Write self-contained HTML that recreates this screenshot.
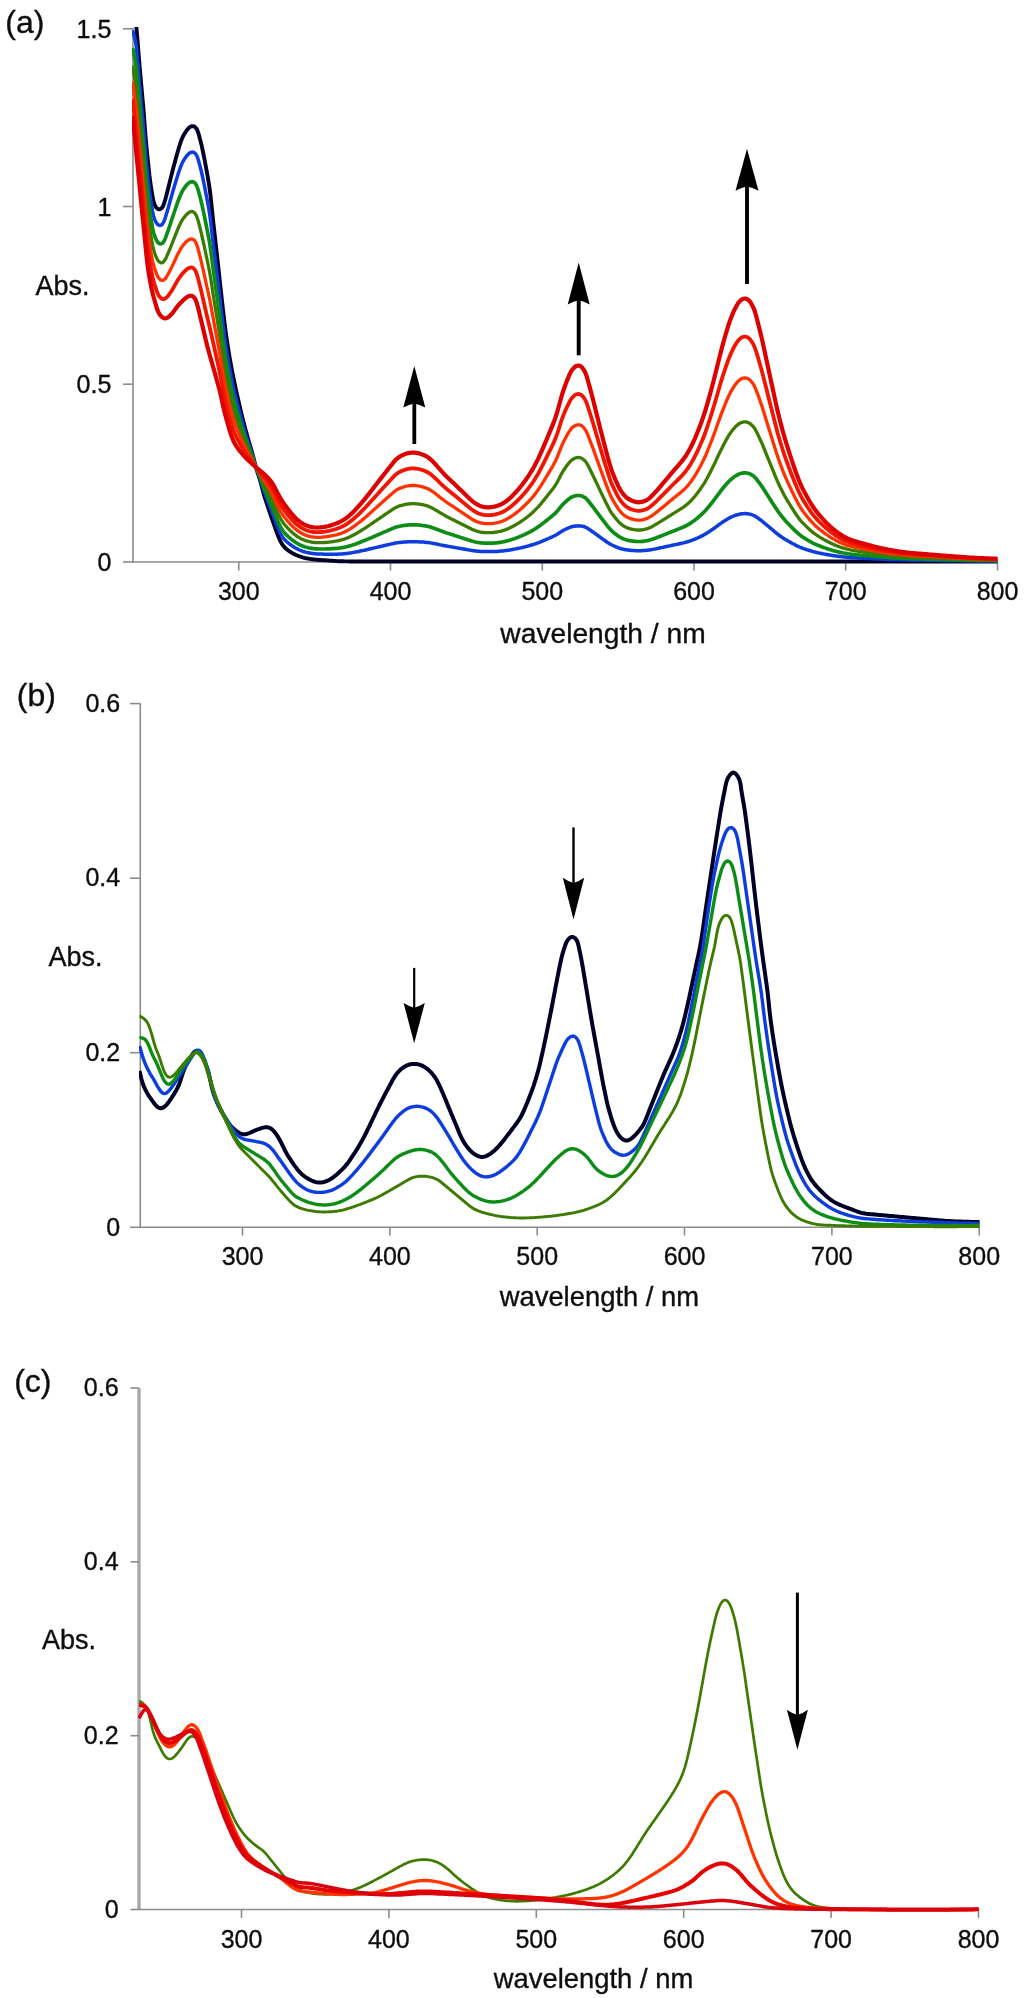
<!DOCTYPE html>
<html lang="en">
<head>
<meta charset="utf-8">
<title>UV-vis spectra</title>
<style>
html,body{margin:0;padding:0;background:#fff}
body{width:1024px;height:1998px;overflow:hidden}
svg{display:block}
svg text{font-family:"Liberation Sans",sans-serif;fill:#0c0c0c;stroke:#0c0c0c;stroke-width:0.35px}
</style>
</head>
<body>
<svg width="1024" height="1998" viewBox="0 0 1024 1998">
<defs><filter id="soft" x="0" y="0" width="1024" height="1998" filterUnits="userSpaceOnUse"><feGaussianBlur stdDeviation="0.55"/></filter></defs>
<rect width="1024" height="1998" fill="#fff"/>
<g filter="url(#soft)">
<clipPath id="ca"><rect x="132" y="27" width="870" height="540"/></clipPath>
<g stroke="#8c8c8c" stroke-width="1.6" fill="none">
<path d="M133 28V562H997.6"/>
<path d="M123 562.0H133"/>
<path d="M123 384.2H133"/>
<path d="M123 206.5H133"/>
<path d="M123 28.8H133"/>
<path d="M238.8 562V570.5"/>
<path d="M390.5 562V570.5"/>
<path d="M542.3 562V570.5"/>
<path d="M694.0 562V570.5"/>
<path d="M845.7 562V570.5"/>
<path d="M997.5 562V570.5"/>
</g>
<g clip-path="url(#ca)" fill="none" stroke-linejoin="round" stroke-linecap="butt">
<path d="M132.5 14.8L133.5 16.6L134.5 19.4L135.5 22.8L136.5 28.4L137.5 40.0L138.5 52.8L139.5 65.1L140.5 76.4L141.5 87.5L142.5 98.6L143.5 110.0L144.5 122.6L145.5 135.7L146.5 147.2L147.5 157.2L148.5 166.7L149.5 175.9L150.5 183.4L151.5 190.0L152.5 196.2L153.5 201.3L154.5 204.4L155.5 206.5L156.5 207.9L157.5 208.8L158.5 209.2L159.5 209.3L160.5 209.0L161.5 208.3L162.5 207.1L163.5 205.1L164.5 202.2L165.5 198.8L166.5 195.0L167.5 191.0L168.5 187.0L169.5 182.9L170.5 178.9L171.5 174.9L172.5 171.0L173.5 167.1L174.5 163.4L175.5 159.7L176.5 156.0L177.5 152.4L178.5 149.0L179.5 145.7L180.5 142.6L181.5 139.8L182.5 137.4L183.5 135.4L184.5 133.7L185.5 132.1L186.5 130.7L187.5 129.4L188.5 128.2L189.5 127.3L190.5 126.7L191.5 126.2L192.5 126.1L193.5 126.2L194.5 126.6L195.5 127.4L196.5 128.7L197.5 130.7L198.5 133.6L199.5 137.2L200.5 140.9L201.5 144.9L202.5 149.5L203.5 154.3L204.5 159.4L205.5 164.7L206.5 170.1L207.5 175.5L208.5 181.3L209.5 187.7L210.5 195.5L211.5 204.9L212.5 214.7L213.5 224.2L214.5 233.0L215.5 241.8L216.5 250.6L217.5 259.6L218.5 268.8L219.5 278.1L220.5 287.4L221.5 296.5L222.5 305.4L223.5 314.0L224.5 322.5L225.5 330.3L226.5 337.5L227.5 344.3L228.5 350.7L229.5 356.7L230.5 362.4L231.5 367.9L232.5 373.1L233.5 378.1L234.5 382.9L235.5 387.6L236.5 392.1L237.5 396.6L238.5 401.0L239.5 405.4L240.5 409.7L241.5 413.9L242.5 418.0L243.5 421.9L244.5 425.8L245.5 429.5L246.5 433.1L247.5 436.7L248.5 440.2L249.5 443.7L250.5 447.1L251.5 450.5L252.5 454.0L253.5 457.8L254.5 461.7L255.5 465.6L256.5 469.1L257.5 472.3L258.5 475.3L259.5 478.4L260.5 481.8L261.5 485.7L262.5 489.6L263.5 493.3L264.5 496.6L265.5 499.7L266.5 502.7L267.5 505.7L268.5 508.7L269.5 511.6L270.5 514.6L271.5 517.5L272.5 520.4L273.5 523.2L274.5 526.0L275.5 528.8L276.5 531.6L277.5 534.3L278.5 536.9L279.5 539.2L280.5 541.3L281.5 543.2L282.5 544.8L283.5 546.1L284.5 547.3L285.5 548.2L286.5 549.1L287.5 549.9L288.5 550.6L289.5 551.3L290.5 551.9L291.5 552.6L292.5 553.2L293.5 553.7L294.5 554.2L295.5 554.7L296.5 555.1L297.5 555.5L298.5 556.0L299.5 556.3L300.5 556.7L301.5 557.0L302.5 557.4L303.5 557.6L304.5 557.9L305.5 558.1L306.5 558.4L307.5 558.5L308.5 558.7L309.5 558.9L310.5 559.0L311.5 559.2L312.5 559.3L313.5 559.4L314.5 559.5L315.5 559.6L316.5 559.7L317.5 559.8L318.5 559.9L319.5 560.0L320.5 560.0L321.5 560.1L322.5 560.1L323.5 560.2L324.5 560.3L325.5 560.3L326.5 560.4L327.5 560.4L328.5 560.5L329.5 560.6L330.5 560.6L331.5 560.7L332.5 560.8L333.5 560.9L334.5 560.9L335.5 561.0L336.5 561.1L337.5 561.1L338.5 561.2L339.5 561.2L340.5 561.2L341.5 561.3L342.5 561.3L343.5 561.3L344.5 561.4L345.5 561.4L346.5 561.4L347.5 561.4L348.5 561.4L349.5 561.5L350.5 561.5L351.5 561.5L352.5 561.5L353.5 561.5L354.5 561.5L355.5 561.5L356.5 561.5L357.5 561.5L358.5 561.5L359.5 561.5L360.5 561.5L361.5 561.5L362.5 561.5L363.5 561.5L364.5 561.5L365.5 561.5L366.5 561.5L367.5 561.5L368.5 561.5L369.5 561.5L370.5 561.5L371.5 561.5L372.5 561.5L373.5 561.5L374.5 561.5L375.5 561.5L376.5 561.5L377.5 561.5L378.5 561.5L379.5 561.5L380.5 561.5L381.5 561.5L382.5 561.5L383.5 561.5L384.5 561.5L385.5 561.5L386.5 561.5L387.5 561.5L388.5 561.5L389.5 561.5L390.5 561.5L391.5 561.5L392.5 561.5L393.5 561.5L394.5 561.5L395.5 561.5L396.5 561.5L397.5 561.5L398.5 561.5L399.5 561.5L400.5 561.5L401.5 561.5L402.5 561.5L403.5 561.5L404.5 561.5L405.5 561.5L406.5 561.5L407.5 561.5L408.5 561.5L409.5 561.5L410.5 561.5L411.5 561.5L412.5 561.5L413.5 561.5L414.5 561.5L415.5 561.5L416.5 561.5L417.5 561.5L418.5 561.5L419.5 561.5L420.5 561.5L421.5 561.5L422.5 561.5L423.5 561.5L424.5 561.5L425.5 561.5L426.5 561.5L427.5 561.5L428.5 561.5L429.5 561.5L430.5 561.5L431.5 561.5L432.5 561.5L433.5 561.5L434.5 561.5L435.5 561.5L436.5 561.5L437.5 561.5L438.5 561.5L439.5 561.5L440.5 561.5L441.5 561.5L442.5 561.5L443.5 561.5L444.5 561.5L445.5 561.5L446.5 561.5L447.5 561.5L448.5 561.5L449.5 561.5L450.5 561.5L451.5 561.5L452.5 561.5L453.5 561.5L454.5 561.5L455.5 561.5L456.5 561.5L457.5 561.5L458.5 561.5L459.5 561.5L460.5 561.5L461.5 561.5L462.5 561.5L463.5 561.5L464.5 561.5L465.5 561.5L466.5 561.5L467.5 561.5L468.5 561.5L469.5 561.5L470.5 561.5L471.5 561.5L472.5 561.5L473.5 561.5L474.5 561.5L475.5 561.5L476.5 561.5L477.5 561.5L478.5 561.5L479.5 561.5L480.5 561.5L481.5 561.5L482.5 561.5L483.5 561.5L484.5 561.5L485.5 561.5L486.5 561.5L487.5 561.5L488.5 561.5L489.5 561.5L490.5 561.5L491.5 561.5L492.5 561.5L493.5 561.5L494.5 561.5L495.5 561.5L496.5 561.5L497.5 561.5L498.5 561.5L499.5 561.5L500.5 561.5L501.5 561.5L502.5 561.5L503.5 561.5L504.5 561.5L505.5 561.5L506.5 561.5L507.5 561.5L508.5 561.5L509.5 561.5L510.5 561.5L511.5 561.5L512.5 561.5L513.5 561.5L514.5 561.5L515.5 561.5L516.5 561.5L517.5 561.5L518.5 561.5L519.5 561.5L520.5 561.5L521.5 561.5L522.5 561.5L523.5 561.5L524.5 561.5L525.5 561.5L526.5 561.5L527.5 561.5L528.5 561.5L529.5 561.5L530.5 561.5L531.5 561.5L532.5 561.5L533.5 561.5L534.5 561.5L535.5 561.5L536.5 561.5L537.5 561.5L538.5 561.5L539.5 561.5L540.5 561.5L541.5 561.5L542.5 561.5L543.5 561.5L544.5 561.5L545.5 561.5L546.5 561.5L547.5 561.5L548.5 561.5L549.5 561.5L550.5 561.5L551.5 561.5L552.5 561.5L553.5 561.5L554.5 561.5L555.5 561.5L556.5 561.5L557.5 561.5L558.5 561.5L559.5 561.5L560.5 561.5L561.5 561.5L562.5 561.5L563.5 561.5L564.5 561.5L565.5 561.5L566.5 561.5L567.5 561.5L568.5 561.5L569.5 561.5L570.5 561.5L571.5 561.5L572.5 561.5L573.5 561.5L574.5 561.5L575.5 561.5L576.5 561.5L577.5 561.5L578.5 561.5L579.5 561.5L580.5 561.5L581.5 561.5L582.5 561.5L583.5 561.5L584.5 561.5L585.5 561.5L586.5 561.5L587.5 561.5L588.5 561.5L589.5 561.5L590.5 561.5L591.5 561.5L592.5 561.5L593.5 561.5L594.5 561.5L595.5 561.5L596.5 561.5L597.5 561.5L598.5 561.5L599.5 561.5L600.5 561.5L601.5 561.5L602.5 561.5L603.5 561.5L604.5 561.5L605.5 561.5L606.5 561.5L607.5 561.5L608.5 561.5L609.5 561.5L610.5 561.5L611.5 561.5L612.5 561.5L613.5 561.5L614.5 561.5L615.5 561.5L616.5 561.5L617.5 561.5L618.5 561.5L619.5 561.5L620.5 561.5L621.5 561.5L622.5 561.5L623.5 561.5L624.5 561.5L625.5 561.5L626.5 561.5L627.5 561.5L628.5 561.5L629.5 561.5L630.5 561.5L631.5 561.5L632.5 561.5L633.5 561.5L634.5 561.5L635.5 561.5L636.5 561.5L637.5 561.5L638.5 561.5L639.5 561.5L640.5 561.5L641.5 561.5L642.5 561.5L643.5 561.5L644.5 561.5L645.5 561.5L646.5 561.5L647.5 561.5L648.5 561.5L649.5 561.5L650.5 561.5L651.5 561.5L652.5 561.5L653.5 561.5L654.5 561.5L655.5 561.5L656.5 561.5L657.5 561.5L658.5 561.5L659.5 561.5L660.5 561.5L661.5 561.5L662.5 561.5L663.5 561.5L664.5 561.5L665.5 561.5L666.5 561.5L667.5 561.5L668.5 561.5L669.5 561.5L670.5 561.5L671.5 561.5L672.5 561.5L673.5 561.5L674.5 561.5L675.5 561.5L676.5 561.5L677.5 561.5L678.5 561.5L679.5 561.5L680.5 561.5L681.5 561.5L682.5 561.5L683.5 561.5L684.5 561.5L685.5 561.5L686.5 561.5L687.5 561.5L688.5 561.5L689.5 561.5L690.5 561.5L691.5 561.5L692.5 561.5L693.5 561.5L694.5 561.5L695.5 561.5L696.5 561.5L697.5 561.5L698.5 561.5L699.5 561.5L700.5 561.5L701.5 561.5L702.5 561.5L703.5 561.5L704.5 561.5L705.5 561.5L706.5 561.5L707.5 561.5L708.5 561.5L709.5 561.5L710.5 561.5L711.5 561.5L712.5 561.5L713.5 561.5L714.5 561.5L715.5 561.5L716.5 561.5L717.5 561.5L718.5 561.5L719.5 561.5L720.5 561.5L721.5 561.5L722.5 561.5L723.5 561.5L724.5 561.5L725.5 561.5L726.5 561.5L727.5 561.5L728.5 561.5L729.5 561.5L730.5 561.5L731.5 561.5L732.5 561.5L733.5 561.5L734.5 561.5L735.5 561.5L736.5 561.5L737.5 561.5L738.5 561.5L739.5 561.5L740.5 561.5L741.5 561.5L742.5 561.5L743.5 561.5L744.5 561.5L745.5 561.5L746.5 561.5L747.5 561.5L748.5 561.5L749.5 561.5L750.5 561.5L751.5 561.5L752.5 561.5L753.5 561.5L754.5 561.5L755.5 561.5L756.5 561.5L757.5 561.5L758.5 561.5L759.5 561.5L760.5 561.5L761.5 561.5L762.5 561.5L763.5 561.5L764.5 561.5L765.5 561.5L766.5 561.5L767.5 561.5L768.5 561.5L769.5 561.5L770.5 561.5L771.5 561.5L772.5 561.5L773.5 561.5L774.5 561.5L775.5 561.5L776.5 561.5L777.5 561.5L778.5 561.5L779.5 561.5L780.5 561.5L781.5 561.5L782.5 561.5L783.5 561.5L784.5 561.5L785.5 561.5L786.5 561.5L787.5 561.5L788.5 561.5L789.5 561.5L790.5 561.5L791.5 561.5L792.5 561.5L793.5 561.5L794.5 561.5L795.5 561.5L796.5 561.5L797.5 561.5L798.5 561.5L799.5 561.5L800.5 561.5L801.5 561.5L802.5 561.5L803.5 561.5L804.5 561.5L805.5 561.5L806.5 561.5L807.5 561.5L808.5 561.5L809.5 561.5L810.5 561.5L811.5 561.5L812.5 561.5L813.5 561.5L814.5 561.5L815.5 561.5L816.5 561.5L817.5 561.5L818.5 561.5L819.5 561.5L820.5 561.5L821.5 561.5L822.5 561.5L823.5 561.5L824.5 561.5L825.5 561.5L826.5 561.5L827.5 561.5L828.5 561.5L829.5 561.5L830.5 561.5L831.5 561.5L832.5 561.5L833.5 561.5L834.5 561.5L835.5 561.5L836.5 561.5L837.5 561.5L838.5 561.5L839.5 561.5L840.5 561.5L841.5 561.5L842.5 561.5L843.5 561.5L844.5 561.5L845.5 561.5L846.5 561.5L847.5 561.5L848.5 561.5L849.5 561.5L850.5 561.5L851.5 561.5L852.5 561.5L853.5 561.5L854.5 561.5L855.5 561.5L856.5 561.5L857.5 561.5L858.5 561.5L859.5 561.5L860.5 561.5L861.5 561.5L862.5 561.5L863.5 561.5L864.5 561.5L865.5 561.5L866.5 561.5L867.5 561.5L868.5 561.5L869.5 561.5L870.5 561.5L871.5 561.5L872.5 561.5L873.5 561.5L874.5 561.5L875.5 561.5L876.5 561.5L877.5 561.5L878.5 561.5L879.5 561.5L880.5 561.5L881.5 561.5L882.5 561.5L883.5 561.5L884.5 561.5L885.5 561.5L886.5 561.5L887.5 561.5L888.5 561.5L889.5 561.5L890.5 561.5L891.5 561.5L892.5 561.5L893.5 561.5L894.5 561.5L895.5 561.5L896.5 561.5L897.5 561.5L898.5 561.5L899.5 561.5L900.5 561.5L901.5 561.5L902.5 561.5L903.5 561.5L904.5 561.5L905.5 561.5L906.5 561.5L907.5 561.5L908.5 561.5L909.5 561.5L910.5 561.5L911.5 561.5L912.5 561.5L913.5 561.5L914.5 561.5L915.5 561.5L916.5 561.5L917.5 561.5L918.5 561.5L919.5 561.5L920.5 561.5L921.5 561.5L922.5 561.5L923.5 561.5L924.5 561.5L925.5 561.5L926.5 561.5L927.5 561.5L928.5 561.5L929.5 561.5L930.5 561.5L931.5 561.5L932.5 561.5L933.5 561.5L934.5 561.5L935.5 561.5L936.5 561.5L937.5 561.5L938.5 561.5L939.5 561.5L940.5 561.5L941.5 561.5L942.5 561.5L943.5 561.5L944.5 561.5L945.5 561.5L946.5 561.5L947.5 561.5L948.5 561.5L949.5 561.5L950.5 561.5L951.5 561.5L952.5 561.5L953.5 561.5L954.5 561.5L955.5 561.5L956.5 561.5L957.5 561.5L958.5 561.5L959.5 561.5L960.5 561.5L961.5 561.5L962.5 561.5L963.5 561.5L964.5 561.5L965.5 561.5L966.5 561.5L967.5 561.5L968.5 561.5L969.5 561.5L970.5 561.5L971.5 561.5L972.5 561.5L973.5 561.5L974.5 561.5L975.5 561.5L976.5 561.5L977.5 561.5L978.5 561.5L979.5 561.5L980.5 561.5L981.5 561.5L982.5 561.5L983.5 561.5L984.5 561.5L985.5 561.5L986.5 561.5L987.5 561.5L988.5 561.5L989.5 561.5L990.5 561.5L991.5 561.5L992.5 561.5L993.5 561.5L994.5 561.5L995.5 561.5L996.5 561.5L997.4 561.5" stroke="#050528" stroke-width="3.9"/>
<path d="M132.5 30.3L133.5 33.2L134.5 37.1L135.5 41.5L136.5 47.8L137.5 59.1L138.5 71.5L139.5 83.5L140.5 94.6L141.5 105.6L142.5 116.6L143.5 127.8L144.5 139.9L145.5 152.5L146.5 163.8L147.5 173.7L148.5 182.7L149.5 191.4L150.5 198.7L151.5 205.0L152.5 211.0L153.5 215.9L154.5 219.1L155.5 221.3L156.5 223.0L157.5 224.3L158.5 225.0L159.5 225.4L160.5 225.3L161.5 224.9L162.5 224.0L163.5 222.4L164.5 220.0L165.5 217.1L166.5 213.8L167.5 210.4L168.5 206.9L169.5 203.3L170.5 199.7L171.5 196.2L172.5 192.7L173.5 189.3L174.5 185.9L175.5 182.5L176.5 179.2L177.5 176.0L178.5 172.9L179.5 170.0L180.5 167.2L181.5 164.6L182.5 162.4L183.5 160.6L184.5 159.0L185.5 157.6L186.5 156.2L187.5 155.0L188.5 154.0L189.5 153.1L190.5 152.5L191.5 152.2L192.5 152.1L193.5 152.3L194.5 152.8L195.5 153.8L196.5 155.2L197.5 157.4L198.5 160.5L199.5 164.2L200.5 168.0L201.5 172.0L202.5 176.5L203.5 181.3L204.5 186.2L205.5 191.3L206.5 196.5L207.5 201.8L208.5 207.2L209.5 213.1L210.5 220.4L211.5 228.8L212.5 237.7L213.5 246.2L214.5 254.3L215.5 262.3L216.5 270.3L217.5 278.4L218.5 286.8L219.5 295.2L220.5 303.7L221.5 312.1L222.5 320.4L223.5 328.4L224.5 336.2L225.5 343.3L226.5 350.0L227.5 356.4L228.5 362.3L229.5 367.9L230.5 373.3L231.5 378.3L232.5 383.1L233.5 387.8L234.5 392.1L235.5 396.3L236.5 400.4L237.5 404.4L238.5 408.4L239.5 412.3L240.5 416.1L241.5 419.9L242.5 423.5L243.5 427.0L244.5 430.5L245.5 433.8L246.5 437.0L247.5 440.2L248.5 443.3L249.5 446.4L250.5 449.4L251.5 452.5L252.5 455.6L253.5 458.9L254.5 462.4L255.5 465.8L256.5 468.9L257.5 471.6L258.5 474.2L259.5 476.9L260.5 479.9L261.5 483.1L262.5 486.5L263.5 489.7L264.5 492.5L265.5 495.2L266.5 497.9L267.5 500.5L268.5 503.2L269.5 505.8L270.5 508.4L271.5 511.1L272.5 513.7L273.5 516.3L274.5 519.0L275.5 521.6L276.5 524.2L277.5 526.8L278.5 529.2L279.5 531.5L280.5 533.5L281.5 535.3L282.5 536.9L283.5 538.3L284.5 539.5L285.5 540.5L286.5 541.5L287.5 542.3L288.5 543.2L289.5 544.0L290.5 544.7L291.5 545.5L292.5 546.1L293.5 546.8L294.5 547.4L295.5 548.0L296.5 548.5L297.5 549.1L298.5 549.5L299.5 550.0L300.5 550.4L301.5 550.8L302.5 551.2L303.5 551.5L304.5 551.8L305.5 552.1L306.5 552.4L307.5 552.6L308.5 552.8L309.5 553.0L310.5 553.2L311.5 553.3L312.5 553.5L313.5 553.6L314.5 553.7L315.5 553.8L316.5 553.9L317.5 553.9L318.5 554.0L319.5 554.0L320.5 554.1L321.5 554.1L322.5 554.1L323.5 554.2L324.5 554.2L325.5 554.2L326.5 554.2L327.5 554.2L328.5 554.2L329.5 554.2L330.5 554.2L331.5 554.2L332.5 554.2L333.5 554.2L334.5 554.2L335.5 554.2L336.5 554.2L337.5 554.2L338.5 554.1L339.5 554.1L340.5 554.0L341.5 554.0L342.5 553.9L343.5 553.8L344.5 553.7L345.5 553.6L346.5 553.5L347.5 553.4L348.5 553.2L349.5 553.1L350.5 552.9L351.5 552.8L352.5 552.6L353.5 552.4L354.5 552.2L355.5 552.1L356.5 551.9L357.5 551.7L358.5 551.5L359.5 551.2L360.5 551.0L361.5 550.8L362.5 550.6L363.5 550.4L364.5 550.2L365.5 550.0L366.5 549.7L367.5 549.5L368.5 549.3L369.5 549.0L370.5 548.8L371.5 548.6L372.5 548.3L373.5 548.1L374.5 547.9L375.5 547.6L376.5 547.4L377.5 547.2L378.5 546.9L379.5 546.7L380.5 546.5L381.5 546.2L382.5 546.0L383.5 545.8L384.5 545.5L385.5 545.3L386.5 545.1L387.5 544.8L388.5 544.6L389.5 544.4L390.5 544.1L391.5 543.9L392.5 543.7L393.5 543.5L394.5 543.2L395.5 543.0L396.5 542.9L397.5 542.7L398.5 542.6L399.5 542.5L400.5 542.4L401.5 542.3L402.5 542.2L403.5 542.1L404.5 542.0L405.5 541.9L406.5 541.9L407.5 541.8L408.5 541.8L409.5 541.7L410.5 541.7L411.5 541.7L412.5 541.7L413.5 541.7L414.5 541.7L415.5 541.7L416.5 541.7L417.5 541.8L418.5 541.8L419.5 541.9L420.5 541.9L421.5 542.0L422.5 542.0L423.5 542.1L424.5 542.2L425.5 542.3L426.5 542.4L427.5 542.5L428.5 542.6L429.5 542.7L430.5 542.9L431.5 543.1L432.5 543.3L433.5 543.4L434.5 543.6L435.5 543.8L436.5 544.0L437.5 544.2L438.5 544.4L439.5 544.7L440.5 544.9L441.5 545.1L442.5 545.3L443.5 545.5L444.5 545.7L445.5 545.8L446.5 546.0L447.5 546.2L448.5 546.4L449.5 546.6L450.5 546.7L451.5 546.9L452.5 547.1L453.5 547.2L454.5 547.4L455.5 547.6L456.5 547.8L457.5 547.9L458.5 548.1L459.5 548.3L460.5 548.5L461.5 548.6L462.5 548.8L463.5 549.0L464.5 549.2L465.5 549.3L466.5 549.5L467.5 549.7L468.5 549.9L469.5 550.1L470.5 550.2L471.5 550.4L472.5 550.5L473.5 550.7L474.5 550.8L475.5 550.9L476.5 551.1L477.5 551.2L478.5 551.3L479.5 551.3L480.5 551.4L481.5 551.5L482.5 551.5L483.5 551.6L484.5 551.6L485.5 551.6L486.5 551.6L487.5 551.6L488.5 551.6L489.5 551.6L490.5 551.6L491.5 551.6L492.5 551.6L493.5 551.5L494.5 551.5L495.5 551.5L496.5 551.4L497.5 551.4L498.5 551.3L499.5 551.2L500.5 551.1L501.5 551.1L502.5 551.0L503.5 550.9L504.5 550.7L505.5 550.6L506.5 550.5L507.5 550.3L508.5 550.2L509.5 550.0L510.5 549.9L511.5 549.7L512.5 549.5L513.5 549.3L514.5 549.1L515.5 548.9L516.5 548.7L517.5 548.5L518.5 548.3L519.5 548.1L520.5 547.9L521.5 547.7L522.5 547.4L523.5 547.2L524.5 546.9L525.5 546.7L526.5 546.4L527.5 546.2L528.5 545.9L529.5 545.6L530.5 545.3L531.5 545.0L532.5 544.7L533.5 544.4L534.5 544.1L535.5 543.8L536.5 543.4L537.5 543.0L538.5 542.7L539.5 542.3L540.5 541.9L541.5 541.5L542.5 541.1L543.5 540.6L544.5 540.2L545.5 539.8L546.5 539.3L547.5 538.9L548.5 538.5L549.5 538.0L550.5 537.6L551.5 537.2L552.5 536.7L553.5 536.3L554.5 535.8L555.5 535.3L556.5 534.7L557.5 534.1L558.5 533.5L559.5 532.8L560.5 532.1L561.5 531.5L562.5 530.9L563.5 530.3L564.5 529.8L565.5 529.3L566.5 528.8L567.5 528.4L568.5 527.9L569.5 527.5L570.5 527.1L571.5 526.8L572.5 526.5L573.5 526.3L574.5 526.2L575.5 526.0L576.5 525.9L577.5 525.9L578.5 525.8L579.5 525.9L580.5 526.0L581.5 526.1L582.5 526.3L583.5 526.5L584.5 526.8L585.5 527.2L586.5 527.7L587.5 528.3L588.5 529.0L589.5 529.6L590.5 530.3L591.5 531.0L592.5 531.7L593.5 532.4L594.5 533.1L595.5 533.8L596.5 534.6L597.5 535.3L598.5 536.0L599.5 536.7L600.5 537.5L601.5 538.2L602.5 538.9L603.5 539.6L604.5 540.3L605.5 541.0L606.5 541.7L607.5 542.4L608.5 543.0L609.5 543.7L610.5 544.3L611.5 544.8L612.5 545.3L613.5 545.8L614.5 546.2L615.5 546.6L616.5 547.1L617.5 547.5L618.5 547.8L619.5 548.2L620.5 548.5L621.5 548.8L622.5 549.1L623.5 549.3L624.5 549.5L625.5 549.7L626.5 549.8L627.5 550.0L628.5 550.1L629.5 550.2L630.5 550.3L631.5 550.4L632.5 550.5L633.5 550.5L634.5 550.6L635.5 550.7L636.5 550.7L637.5 550.7L638.5 550.7L639.5 550.7L640.5 550.7L641.5 550.7L642.5 550.6L643.5 550.6L644.5 550.5L645.5 550.4L646.5 550.3L647.5 550.2L648.5 550.1L649.5 550.0L650.5 549.8L651.5 549.6L652.5 549.4L653.5 549.3L654.5 549.1L655.5 548.9L656.5 548.7L657.5 548.4L658.5 548.2L659.5 548.0L660.5 547.8L661.5 547.6L662.5 547.4L663.5 547.2L664.5 546.9L665.5 546.7L666.5 546.5L667.5 546.3L668.5 546.1L669.5 545.9L670.5 545.7L671.5 545.4L672.5 545.2L673.5 545.0L674.5 544.8L675.5 544.6L676.5 544.4L677.5 544.2L678.5 544.0L679.5 543.7L680.5 543.5L681.5 543.3L682.5 543.1L683.5 542.9L684.5 542.6L685.5 542.3L686.5 542.1L687.5 541.8L688.5 541.5L689.5 541.1L690.5 540.8L691.5 540.4L692.5 540.1L693.5 539.7L694.5 539.3L695.5 538.9L696.5 538.4L697.5 538.0L698.5 537.5L699.5 537.1L700.5 536.6L701.5 536.1L702.5 535.6L703.5 535.1L704.5 534.5L705.5 533.9L706.5 533.3L707.5 532.7L708.5 532.0L709.5 531.4L710.5 530.7L711.5 530.1L712.5 529.4L713.5 528.7L714.5 528.0L715.5 527.3L716.5 526.5L717.5 525.8L718.5 525.0L719.5 524.3L720.5 523.6L721.5 522.9L722.5 522.2L723.5 521.5L724.5 520.9L725.5 520.3L726.5 519.7L727.5 519.1L728.5 518.5L729.5 517.9L730.5 517.4L731.5 516.9L732.5 516.5L733.5 516.1L734.5 515.7L735.5 515.3L736.5 515.0L737.5 514.7L738.5 514.4L739.5 514.2L740.5 514.0L741.5 513.8L742.5 513.7L743.5 513.7L744.5 513.6L745.5 513.6L746.5 513.7L747.5 513.8L748.5 513.9L749.5 514.1L750.5 514.3L751.5 514.6L752.5 515.0L753.5 515.4L754.5 515.8L755.5 516.4L756.5 517.1L757.5 517.7L758.5 518.5L759.5 519.2L760.5 519.9L761.5 520.7L762.5 521.5L763.5 522.3L764.5 523.2L765.5 524.0L766.5 524.8L767.5 525.7L768.5 526.5L769.5 527.4L770.5 528.2L771.5 529.0L772.5 529.9L773.5 530.7L774.5 531.6L775.5 532.4L776.5 533.2L777.5 534.0L778.5 534.8L779.5 535.5L780.5 536.2L781.5 536.9L782.5 537.6L783.5 538.3L784.5 538.9L785.5 539.5L786.5 540.1L787.5 540.7L788.5 541.2L789.5 541.8L790.5 542.4L791.5 542.9L792.5 543.5L793.5 544.0L794.5 544.5L795.5 545.1L796.5 545.6L797.5 546.1L798.5 546.5L799.5 547.0L800.5 547.4L801.5 547.8L802.5 548.2L803.5 548.6L804.5 548.9L805.5 549.2L806.5 549.6L807.5 549.9L808.5 550.2L809.5 550.5L810.5 550.8L811.5 551.1L812.5 551.4L813.5 551.7L814.5 551.9L815.5 552.2L816.5 552.4L817.5 552.7L818.5 552.9L819.5 553.1L820.5 553.3L821.5 553.5L822.5 553.7L823.5 553.9L824.5 554.1L825.5 554.3L826.5 554.5L827.5 554.7L828.5 554.8L829.5 555.0L830.5 555.2L831.5 555.3L832.5 555.5L833.5 555.7L834.5 555.8L835.5 555.9L836.5 556.1L837.5 556.2L838.5 556.3L839.5 556.5L840.5 556.6L841.5 556.7L842.5 556.8L843.5 556.9L844.5 557.0L845.5 557.1L846.5 557.2L847.5 557.3L848.5 557.4L849.5 557.5L850.5 557.5L851.5 557.6L852.5 557.7L853.5 557.7L854.5 557.8L855.5 557.8L856.5 557.9L857.5 557.9L858.5 558.0L859.5 558.0L860.5 558.1L861.5 558.1L862.5 558.2L863.5 558.2L864.5 558.3L865.5 558.3L866.5 558.4L867.5 558.4L868.5 558.5L869.5 558.5L870.5 558.6L871.5 558.6L872.5 558.7L873.5 558.7L874.5 558.8L875.5 558.8L876.5 558.9L877.5 558.9L878.5 558.9L879.5 559.0L880.5 559.0L881.5 559.1L882.5 559.1L883.5 559.2L884.5 559.2L885.5 559.2L886.5 559.3L887.5 559.3L888.5 559.4L889.5 559.4L890.5 559.4L891.5 559.5L892.5 559.5L893.5 559.5L894.5 559.5L895.5 559.6L896.5 559.6L897.5 559.6L898.5 559.7L899.5 559.7L900.5 559.7L901.5 559.7L902.5 559.8L903.5 559.8L904.5 559.8L905.5 559.8L906.5 559.9L907.5 559.9L908.5 559.9L909.5 559.9L910.5 559.9L911.5 559.9L912.5 560.0L913.5 560.0L914.5 560.0L915.5 560.0L916.5 560.0L917.5 560.0L918.5 560.1L919.5 560.1L920.5 560.1L921.5 560.1L922.5 560.1L923.5 560.1L924.5 560.1L925.5 560.2L926.5 560.2L927.5 560.2L928.5 560.2L929.5 560.2L930.5 560.2L931.5 560.3L932.5 560.3L933.5 560.3L934.5 560.3L935.5 560.3L936.5 560.3L937.5 560.3L938.5 560.4L939.5 560.4L940.5 560.4L941.5 560.4L942.5 560.4L943.5 560.4L944.5 560.4L945.5 560.4L946.5 560.5L947.5 560.5L948.5 560.5L949.5 560.5L950.5 560.5L951.5 560.5L952.5 560.5L953.5 560.6L954.5 560.6L955.5 560.6L956.5 560.6L957.5 560.6L958.5 560.6L959.5 560.6L960.5 560.7L961.5 560.7L962.5 560.7L963.5 560.7L964.5 560.7L965.5 560.7L966.5 560.7L967.5 560.7L968.5 560.8L969.5 560.8L970.5 560.8L971.5 560.8L972.5 560.8L973.5 560.8L974.5 560.8L975.5 560.8L976.5 560.8L977.5 560.9L978.5 560.9L979.5 560.9L980.5 560.9L981.5 560.9L982.5 560.9L983.5 560.9L984.5 560.9L985.5 560.9L986.5 560.9L987.5 560.9L988.5 560.9L989.5 560.9L990.5 561.0L991.5 561.0L992.5 561.0L993.5 561.0L994.5 561.0L995.5 561.0L996.5 561.0L997.4 561.0" stroke="#0a3cdc" stroke-width="3.5"/>
<path d="M132.5 47.9L133.5 52.0L134.5 57.2L135.5 62.7L136.5 69.8L137.5 80.9L138.5 92.8L139.5 104.4L140.5 115.4L141.5 126.1L142.5 137.0L143.5 147.9L144.5 159.6L145.5 171.7L146.5 182.7L147.5 192.4L148.5 201.0L149.5 209.1L150.5 216.0L151.5 222.1L152.5 227.8L153.5 232.5L154.5 235.8L155.5 238.2L156.5 240.3L157.5 241.9L158.5 243.0L159.5 243.6L160.5 243.9L161.5 243.7L162.5 243.2L163.5 242.0L164.5 240.2L165.5 237.9L166.5 235.2L167.5 232.4L168.5 229.5L169.5 226.5L170.5 223.5L171.5 220.4L172.5 217.4L173.5 214.5L174.5 211.5L175.5 208.5L176.5 205.6L177.5 202.7L178.5 200.0L179.5 197.5L180.5 195.1L181.5 192.8L182.5 190.9L183.5 189.2L184.5 187.8L185.5 186.5L186.5 185.2L187.5 184.1L188.5 183.2L189.5 182.5L190.5 182.0L191.5 181.7L192.5 181.7L193.5 182.0L194.5 182.6L195.5 183.7L196.5 185.4L197.5 187.9L198.5 191.1L199.5 194.8L200.5 198.7L201.5 202.8L202.5 207.2L203.5 211.9L204.5 216.7L205.5 221.6L206.5 226.6L207.5 231.6L208.5 236.6L209.5 242.1L210.5 248.6L211.5 256.0L212.5 263.8L213.5 271.3L214.5 278.4L215.5 285.5L216.5 292.6L217.5 299.8L218.5 307.2L219.5 314.7L220.5 322.3L221.5 329.9L222.5 337.4L223.5 344.7L224.5 351.7L225.5 358.2L226.5 364.3L227.5 370.1L228.5 375.5L229.5 380.7L230.5 385.6L231.5 390.2L232.5 394.6L233.5 398.7L234.5 402.6L235.5 406.3L236.5 409.9L237.5 413.4L238.5 416.8L239.5 420.1L240.5 423.5L241.5 426.7L242.5 429.8L243.5 432.9L244.5 435.8L245.5 438.6L246.5 441.4L247.5 444.2L248.5 446.9L249.5 449.5L250.5 452.1L251.5 454.7L252.5 457.4L253.5 460.2L254.5 463.1L255.5 466.0L256.5 468.6L257.5 471.0L258.5 473.3L259.5 475.6L260.5 478.2L261.5 481.0L262.5 483.9L263.5 486.6L264.5 489.1L265.5 491.4L266.5 493.8L267.5 496.1L268.5 498.5L269.5 500.8L270.5 503.2L271.5 505.6L272.5 508.0L273.5 510.4L274.5 512.9L275.5 515.4L276.5 517.9L277.5 520.4L278.5 522.7L279.5 524.9L280.5 526.8L281.5 528.6L282.5 530.2L283.5 531.6L284.5 532.8L285.5 533.9L286.5 535.0L287.5 535.9L288.5 536.8L289.5 537.7L290.5 538.6L291.5 539.4L292.5 540.2L293.5 540.9L294.5 541.6L295.5 542.3L296.5 542.9L297.5 543.5L298.5 544.1L299.5 544.6L300.5 545.1L301.5 545.5L302.5 546.0L303.5 546.3L304.5 546.7L305.5 547.0L306.5 547.3L307.5 547.5L308.5 547.8L309.5 548.0L310.5 548.2L311.5 548.3L312.5 548.5L313.5 548.6L314.5 548.7L315.5 548.8L316.5 548.9L317.5 548.9L318.5 549.0L319.5 549.0L320.5 549.0L321.5 549.0L322.5 549.0L323.5 549.0L324.5 549.0L325.5 549.0L326.5 548.9L327.5 548.9L328.5 548.9L329.5 548.8L330.5 548.8L331.5 548.7L332.5 548.7L333.5 548.6L334.5 548.5L335.5 548.4L336.5 548.4L337.5 548.3L338.5 548.2L339.5 548.0L340.5 547.9L341.5 547.7L342.5 547.6L343.5 547.4L344.5 547.2L345.5 547.0L346.5 546.7L347.5 546.5L348.5 546.2L349.5 545.9L350.5 545.7L351.5 545.4L352.5 545.0L353.5 544.7L354.5 544.4L355.5 544.0L356.5 543.7L357.5 543.3L358.5 542.9L359.5 542.5L360.5 542.1L361.5 541.7L362.5 541.3L363.5 540.9L364.5 540.5L365.5 540.1L366.5 539.7L367.5 539.3L368.5 538.9L369.5 538.4L370.5 538.0L371.5 537.6L372.5 537.1L373.5 536.7L374.5 536.3L375.5 535.8L376.5 535.4L377.5 535.0L378.5 534.5L379.5 534.1L380.5 533.6L381.5 533.2L382.5 532.8L383.5 532.4L384.5 531.9L385.5 531.5L386.5 531.1L387.5 530.6L388.5 530.2L389.5 529.8L390.5 529.4L391.5 528.9L392.5 528.5L393.5 528.1L394.5 527.7L395.5 527.3L396.5 527.0L397.5 526.7L398.5 526.5L399.5 526.2L400.5 526.0L401.5 525.9L402.5 525.7L403.5 525.5L404.5 525.4L405.5 525.3L406.5 525.2L407.5 525.1L408.5 525.0L409.5 524.9L410.5 524.9L411.5 524.8L412.5 524.8L413.5 524.8L414.5 524.8L415.5 524.9L416.5 524.9L417.5 525.0L418.5 525.0L419.5 525.1L420.5 525.2L421.5 525.4L422.5 525.5L423.5 525.6L424.5 525.8L425.5 525.9L426.5 526.1L427.5 526.3L428.5 526.5L429.5 526.8L430.5 527.1L431.5 527.4L432.5 527.7L433.5 528.1L434.5 528.4L435.5 528.8L436.5 529.2L437.5 529.5L438.5 529.9L439.5 530.3L440.5 530.7L441.5 531.1L442.5 531.4L443.5 531.8L444.5 532.2L445.5 532.5L446.5 532.9L447.5 533.2L448.5 533.5L449.5 533.8L450.5 534.1L451.5 534.5L452.5 534.8L453.5 535.1L454.5 535.4L455.5 535.7L456.5 536.1L457.5 536.4L458.5 536.7L459.5 537.0L460.5 537.4L461.5 537.7L462.5 538.0L463.5 538.3L464.5 538.7L465.5 539.0L466.5 539.3L467.5 539.7L468.5 540.0L469.5 540.3L470.5 540.6L471.5 540.9L472.5 541.2L473.5 541.5L474.5 541.7L475.5 542.0L476.5 542.2L477.5 542.4L478.5 542.5L479.5 542.7L480.5 542.8L481.5 542.9L482.5 543.0L483.5 543.1L484.5 543.2L485.5 543.2L486.5 543.2L487.5 543.2L488.5 543.2L489.5 543.2L490.5 543.2L491.5 543.2L492.5 543.1L493.5 543.1L494.5 543.0L495.5 542.9L496.5 542.8L497.5 542.7L498.5 542.6L499.5 542.5L500.5 542.3L501.5 542.2L502.5 542.0L503.5 541.8L504.5 541.6L505.5 541.3L506.5 541.1L507.5 540.8L508.5 540.6L509.5 540.3L510.5 540.0L511.5 539.6L512.5 539.3L513.5 539.0L514.5 538.6L515.5 538.3L516.5 537.9L517.5 537.5L518.5 537.1L519.5 536.7L520.5 536.3L521.5 535.9L522.5 535.4L523.5 535.0L524.5 534.6L525.5 534.1L526.5 533.6L527.5 533.1L528.5 532.6L529.5 532.1L530.5 531.6L531.5 531.0L532.5 530.5L533.5 529.9L534.5 529.3L535.5 528.6L536.5 528.0L537.5 527.3L538.5 526.6L539.5 525.9L540.5 525.2L541.5 524.4L542.5 523.6L543.5 522.9L544.5 522.1L545.5 521.3L546.5 520.5L547.5 519.7L548.5 518.9L549.5 518.1L550.5 517.3L551.5 516.5L552.5 515.6L553.5 514.8L554.5 513.9L555.5 513.0L556.5 511.9L557.5 510.8L558.5 509.6L559.5 508.3L560.5 507.1L561.5 505.9L562.5 504.8L563.5 503.7L564.5 502.8L565.5 501.9L566.5 501.0L567.5 500.1L568.5 499.3L569.5 498.5L570.5 497.8L571.5 497.2L572.5 496.8L573.5 496.4L574.5 496.0L575.5 495.8L576.5 495.6L577.5 495.5L578.5 495.5L579.5 495.5L580.5 495.7L581.5 495.9L582.5 496.3L583.5 496.8L584.5 497.3L585.5 498.0L586.5 498.9L587.5 500.0L588.5 501.2L589.5 502.5L590.5 503.7L591.5 505.0L592.5 506.3L593.5 507.6L594.5 508.9L595.5 510.3L596.5 511.6L597.5 512.9L598.5 514.3L599.5 515.6L600.5 517.0L601.5 518.3L602.5 519.6L603.5 520.9L604.5 522.2L605.5 523.5L606.5 524.8L607.5 526.1L608.5 527.3L609.5 528.5L610.5 529.6L611.5 530.6L612.5 531.5L613.5 532.4L614.5 533.2L615.5 534.0L616.5 534.7L617.5 535.5L618.5 536.2L619.5 536.9L620.5 537.4L621.5 538.0L622.5 538.5L623.5 538.9L624.5 539.3L625.5 539.6L626.5 539.9L627.5 540.2L628.5 540.4L629.5 540.6L630.5 540.8L631.5 540.9L632.5 541.1L633.5 541.2L634.5 541.3L635.5 541.4L636.5 541.5L637.5 541.5L638.5 541.5L639.5 541.5L640.5 541.5L641.5 541.4L642.5 541.4L643.5 541.3L644.5 541.1L645.5 541.0L646.5 540.8L647.5 540.6L648.5 540.4L649.5 540.1L650.5 539.8L651.5 539.5L652.5 539.2L653.5 538.8L654.5 538.5L655.5 538.1L656.5 537.7L657.5 537.3L658.5 536.9L659.5 536.6L660.5 536.2L661.5 535.8L662.5 535.4L663.5 535.0L664.5 534.6L665.5 534.2L666.5 533.8L667.5 533.4L668.5 532.9L669.5 532.6L670.5 532.2L671.5 531.8L672.5 531.4L673.5 531.0L674.5 530.6L675.5 530.2L676.5 529.8L677.5 529.4L678.5 529.0L679.5 528.6L680.5 528.2L681.5 527.8L682.5 527.4L683.5 527.0L684.5 526.5L685.5 526.0L686.5 525.5L687.5 525.0L688.5 524.4L689.5 523.8L690.5 523.2L691.5 522.5L692.5 521.8L693.5 521.1L694.5 520.4L695.5 519.6L696.5 518.8L697.5 518.0L698.5 517.1L699.5 516.2L700.5 515.3L701.5 514.4L702.5 513.5L703.5 512.5L704.5 511.5L705.5 510.4L706.5 509.3L707.5 508.1L708.5 507.0L709.5 505.8L710.5 504.5L711.5 503.3L712.5 502.0L713.5 500.7L714.5 499.4L715.5 498.1L716.5 496.7L717.5 495.4L718.5 494.0L719.5 492.6L720.5 491.3L721.5 490.0L722.5 488.7L723.5 487.5L724.5 486.3L725.5 485.2L726.5 484.0L727.5 482.9L728.5 481.8L729.5 480.8L730.5 479.9L731.5 479.0L732.5 478.2L733.5 477.4L734.5 476.6L735.5 476.0L736.5 475.4L737.5 474.8L738.5 474.3L739.5 473.9L740.5 473.5L741.5 473.3L742.5 473.1L743.5 472.9L744.5 472.9L745.5 472.9L746.5 473.0L747.5 473.1L748.5 473.4L749.5 473.7L750.5 474.2L751.5 474.7L752.5 475.4L753.5 476.1L754.5 476.9L755.5 478.0L756.5 479.2L757.5 480.5L758.5 481.8L759.5 483.2L760.5 484.5L761.5 485.9L762.5 487.4L763.5 488.9L764.5 490.5L765.5 492.1L766.5 493.6L767.5 495.2L768.5 496.7L769.5 498.3L770.5 499.9L771.5 501.4L772.5 503.0L773.5 504.5L774.5 506.1L775.5 507.6L776.5 509.1L777.5 510.6L778.5 512.0L779.5 513.4L780.5 514.7L781.5 516.0L782.5 517.2L783.5 518.5L784.5 519.6L785.5 520.8L786.5 521.9L787.5 523.0L788.5 524.0L789.5 525.0L790.5 526.1L791.5 527.1L792.5 528.1L793.5 529.1L794.5 530.1L795.5 531.1L796.5 532.0L797.5 532.9L798.5 533.8L799.5 534.6L800.5 535.4L801.5 536.2L802.5 536.9L803.5 537.5L804.5 538.2L805.5 538.8L806.5 539.4L807.5 540.0L808.5 540.6L809.5 541.2L810.5 541.7L811.5 542.3L812.5 542.8L813.5 543.3L814.5 543.8L815.5 544.3L816.5 544.7L817.5 545.1L818.5 545.5L819.5 545.9L820.5 546.3L821.5 546.7L822.5 547.1L823.5 547.4L824.5 547.8L825.5 548.1L826.5 548.5L827.5 548.8L828.5 549.2L829.5 549.5L830.5 549.8L831.5 550.1L832.5 550.4L833.5 550.7L834.5 550.9L835.5 551.2L836.5 551.5L837.5 551.7L838.5 551.9L839.5 552.2L840.5 552.4L841.5 552.6L842.5 552.8L843.5 553.0L844.5 553.2L845.5 553.4L846.5 553.6L847.5 553.7L848.5 553.9L849.5 554.0L850.5 554.1L851.5 554.3L852.5 554.4L853.5 554.5L854.5 554.6L855.5 554.7L856.5 554.8L857.5 554.9L858.5 555.0L859.5 555.1L860.5 555.2L861.5 555.3L862.5 555.4L863.5 555.5L864.5 555.6L865.5 555.6L866.5 555.7L867.5 555.8L868.5 555.9L869.5 556.0L870.5 556.1L871.5 556.2L872.5 556.3L873.5 556.4L874.5 556.4L875.5 556.5L876.5 556.6L877.5 556.7L878.5 556.8L879.5 556.9L880.5 556.9L881.5 557.0L882.5 557.1L883.5 557.2L884.5 557.2L885.5 557.3L886.5 557.4L887.5 557.5L888.5 557.5L889.5 557.6L890.5 557.7L891.5 557.7L892.5 557.8L893.5 557.8L894.5 557.9L895.5 557.9L896.5 558.0L897.5 558.0L898.5 558.1L899.5 558.1L900.5 558.2L901.5 558.2L902.5 558.3L903.5 558.3L904.5 558.4L905.5 558.4L906.5 558.5L907.5 558.5L908.5 558.5L909.5 558.6L910.5 558.6L911.5 558.6L912.5 558.7L913.5 558.7L914.5 558.7L915.5 558.7L916.5 558.8L917.5 558.8L918.5 558.8L919.5 558.9L920.5 558.9L921.5 558.9L922.5 558.9L923.5 559.0L924.5 559.0L925.5 559.0L926.5 559.1L927.5 559.1L928.5 559.1L929.5 559.1L930.5 559.2L931.5 559.2L932.5 559.2L933.5 559.2L934.5 559.3L935.5 559.3L936.5 559.3L937.5 559.3L938.5 559.4L939.5 559.4L940.5 559.4L941.5 559.4L942.5 559.5L943.5 559.5L944.5 559.5L945.5 559.6L946.5 559.6L947.5 559.6L948.5 559.6L949.5 559.7L950.5 559.7L951.5 559.7L952.5 559.7L953.5 559.8L954.5 559.8L955.5 559.8L956.5 559.8L957.5 559.9L958.5 559.9L959.5 559.9L960.5 559.9L961.5 560.0L962.5 560.0L963.5 560.0L964.5 560.0L965.5 560.1L966.5 560.1L967.5 560.1L968.5 560.1L969.5 560.2L970.5 560.2L971.5 560.2L972.5 560.2L973.5 560.2L974.5 560.3L975.5 560.3L976.5 560.3L977.5 560.3L978.5 560.3L979.5 560.3L980.5 560.4L981.5 560.4L982.5 560.4L983.5 560.4L984.5 560.4L985.5 560.4L986.5 560.4L987.5 560.5L988.5 560.5L989.5 560.5L990.5 560.5L991.5 560.5L992.5 560.5L993.5 560.5L994.5 560.5L995.5 560.6L996.5 560.6L997.4 560.6" stroke="#0c8c18" stroke-width="3.7"/>
<path d="M132.5 65.6L133.5 71.1L134.5 77.5L135.5 84.2L136.5 92.1L137.5 102.9L138.5 114.4L139.5 125.6L140.5 136.3L141.5 147.0L142.5 157.6L143.5 168.3L144.5 179.6L145.5 191.1L146.5 201.7L147.5 211.3L148.5 219.5L149.5 227.0L150.5 233.5L151.5 239.4L152.5 244.8L153.5 249.3L154.5 252.6L155.5 255.3L156.5 257.7L157.5 259.7L158.5 261.1L159.5 262.1L160.5 262.6L161.5 262.8L162.5 262.6L163.5 261.9L164.5 260.6L165.5 258.9L166.5 256.9L167.5 254.7L168.5 252.4L169.5 250.0L170.5 247.5L171.5 245.0L172.5 242.5L173.5 239.9L174.5 237.4L175.5 234.8L176.5 232.3L177.5 229.8L178.5 227.5L179.5 225.3L180.5 223.3L181.5 221.3L182.5 219.6L183.5 218.2L184.5 216.9L185.5 215.7L186.5 214.6L187.5 213.6L188.5 212.8L189.5 212.1L190.5 211.7L191.5 211.5L192.5 211.6L193.5 212.0L194.5 212.8L195.5 214.0L196.5 216.0L197.5 218.6L198.5 222.0L199.5 225.9L200.5 229.9L201.5 234.0L202.5 238.3L203.5 242.9L204.5 247.5L205.5 252.3L206.5 257.0L207.5 261.7L208.5 266.5L209.5 271.5L210.5 277.2L211.5 283.6L212.5 290.2L213.5 296.6L214.5 302.8L215.5 309.0L216.5 315.2L217.5 321.5L218.5 327.9L219.5 334.4L220.5 341.1L221.5 347.9L222.5 354.6L223.5 361.2L224.5 367.5L225.5 373.3L226.5 378.7L227.5 383.9L228.5 388.9L229.5 393.6L230.5 398.0L231.5 402.2L232.5 406.1L233.5 409.8L234.5 413.2L235.5 416.4L236.5 419.4L237.5 422.4L238.5 425.3L239.5 428.1L240.5 430.9L241.5 433.6L242.5 436.2L243.5 438.7L244.5 441.2L245.5 443.6L246.5 445.9L247.5 448.2L248.5 450.4L249.5 452.6L250.5 454.8L251.5 456.9L252.5 459.1L253.5 461.5L254.5 463.9L255.5 466.2L256.5 468.4L257.5 470.3L258.5 472.1L259.5 474.0L260.5 476.1L261.5 478.3L262.5 480.6L263.5 482.7L264.5 484.8L265.5 486.7L266.5 488.7L267.5 490.6L268.5 492.6L269.5 494.6L270.5 496.6L271.5 498.7L272.5 500.9L273.5 503.1L274.5 505.4L275.5 507.7L276.5 510.0L277.5 512.3L278.5 514.5L279.5 516.6L280.5 518.5L281.5 520.2L282.5 521.8L283.5 523.2L284.5 524.5L285.5 525.7L286.5 526.8L287.5 527.9L288.5 528.9L289.5 529.9L290.5 530.9L291.5 531.8L292.5 532.7L293.5 533.6L294.5 534.4L295.5 535.2L296.5 535.9L297.5 536.6L298.5 537.2L299.5 537.8L300.5 538.4L301.5 538.9L302.5 539.4L303.5 539.8L304.5 540.2L305.5 540.6L306.5 540.9L307.5 541.2L308.5 541.5L309.5 541.7L310.5 541.9L311.5 542.1L312.5 542.3L313.5 542.4L314.5 542.5L315.5 542.6L316.5 542.7L317.5 542.7L318.5 542.7L319.5 542.7L320.5 542.7L321.5 542.7L322.5 542.6L323.5 542.6L324.5 542.5L325.5 542.4L326.5 542.4L327.5 542.3L328.5 542.2L329.5 542.1L330.5 541.9L331.5 541.8L332.5 541.7L333.5 541.5L334.5 541.4L335.5 541.2L336.5 541.0L337.5 540.9L338.5 540.7L339.5 540.4L340.5 540.2L341.5 539.9L342.5 539.7L343.5 539.3L344.5 539.0L345.5 538.7L346.5 538.3L347.5 537.9L348.5 537.4L349.5 537.0L350.5 536.5L351.5 536.1L352.5 535.6L353.5 535.1L354.5 534.5L355.5 534.0L356.5 533.4L357.5 532.8L358.5 532.2L359.5 531.6L360.5 531.0L361.5 530.4L362.5 529.7L363.5 529.1L364.5 528.5L365.5 527.8L366.5 527.2L367.5 526.5L368.5 525.8L369.5 525.2L370.5 524.5L371.5 523.8L372.5 523.1L373.5 522.4L374.5 521.7L375.5 521.0L376.5 520.4L377.5 519.7L378.5 519.0L379.5 518.3L380.5 517.6L381.5 516.9L382.5 516.3L383.5 515.6L384.5 514.9L385.5 514.2L386.5 513.5L387.5 512.9L388.5 512.2L389.5 511.5L390.5 510.9L391.5 510.2L392.5 509.5L393.5 508.9L394.5 508.2L395.5 507.7L396.5 507.1L397.5 506.7L398.5 506.3L399.5 505.9L400.5 505.6L401.5 505.3L402.5 505.1L403.5 504.8L404.5 504.6L405.5 504.4L406.5 504.2L407.5 504.1L408.5 503.9L409.5 503.8L410.5 503.8L411.5 503.7L412.5 503.7L413.5 503.7L414.5 503.7L415.5 503.8L416.5 503.8L417.5 503.9L418.5 504.1L419.5 504.2L420.5 504.4L421.5 504.5L422.5 504.7L423.5 504.9L424.5 505.2L425.5 505.4L426.5 505.7L427.5 506.0L428.5 506.4L429.5 506.8L430.5 507.2L431.5 507.7L432.5 508.3L433.5 508.8L434.5 509.4L435.5 510.0L436.5 510.5L437.5 511.1L438.5 511.7L439.5 512.3L440.5 513.0L441.5 513.5L442.5 514.1L443.5 514.7L444.5 515.3L445.5 515.8L446.5 516.4L447.5 516.9L448.5 517.4L449.5 517.9L450.5 518.4L451.5 518.9L452.5 519.4L453.5 519.9L454.5 520.4L455.5 520.9L456.5 521.4L457.5 521.9L458.5 522.4L459.5 522.9L460.5 523.5L461.5 524.0L462.5 524.5L463.5 525.0L464.5 525.5L465.5 526.0L466.5 526.6L467.5 527.1L468.5 527.6L469.5 528.1L470.5 528.6L471.5 529.1L472.5 529.5L473.5 529.9L474.5 530.3L475.5 530.7L476.5 531.0L477.5 531.4L478.5 531.6L479.5 531.9L480.5 532.1L481.5 532.3L482.5 532.4L483.5 532.5L484.5 532.6L485.5 532.7L486.5 532.7L487.5 532.7L488.5 532.7L489.5 532.7L490.5 532.7L491.5 532.6L492.5 532.6L493.5 532.5L494.5 532.4L495.5 532.2L496.5 532.1L497.5 531.9L498.5 531.7L499.5 531.5L500.5 531.3L501.5 531.0L502.5 530.7L503.5 530.4L504.5 530.1L505.5 529.7L506.5 529.4L507.5 528.9L508.5 528.5L509.5 528.0L510.5 527.6L511.5 527.1L512.5 526.5L513.5 526.0L514.5 525.4L515.5 524.9L516.5 524.3L517.5 523.7L518.5 523.1L519.5 522.5L520.5 521.8L521.5 521.1L522.5 520.5L523.5 519.8L524.5 519.0L525.5 518.3L526.5 517.6L527.5 516.8L528.5 516.0L529.5 515.2L530.5 514.4L531.5 513.5L532.5 512.6L533.5 511.7L534.5 510.7L535.5 509.7L536.5 508.7L537.5 507.7L538.5 506.6L539.5 505.4L540.5 504.3L541.5 503.1L542.5 501.8L543.5 500.6L544.5 499.4L545.5 498.1L546.5 496.9L547.5 495.6L548.5 494.3L549.5 493.1L550.5 491.8L551.5 490.5L552.5 489.2L553.5 487.9L554.5 486.5L555.5 485.0L556.5 483.4L557.5 481.6L558.5 479.7L559.5 477.7L560.5 475.7L561.5 473.9L562.5 472.1L563.5 470.5L564.5 469.0L565.5 467.5L566.5 466.1L567.5 464.8L568.5 463.5L569.5 462.3L570.5 461.2L571.5 460.3L572.5 459.5L573.5 458.9L574.5 458.4L575.5 458.0L576.5 457.7L577.5 457.5L578.5 457.5L579.5 457.6L580.5 457.8L581.5 458.2L582.5 458.8L583.5 459.5L584.5 460.4L585.5 461.5L586.5 462.9L587.5 464.6L588.5 466.6L589.5 468.5L590.5 470.5L591.5 472.5L592.5 474.5L593.5 476.6L594.5 478.7L595.5 480.8L596.5 482.9L597.5 485.0L598.5 487.1L599.5 489.2L600.5 491.3L601.5 493.5L602.5 495.5L603.5 497.6L604.5 499.6L605.5 501.7L606.5 503.7L607.5 505.7L608.5 507.6L609.5 509.6L610.5 511.3L611.5 512.9L612.5 514.3L613.5 515.6L614.5 516.9L615.5 518.1L616.5 519.3L617.5 520.5L618.5 521.7L619.5 522.7L620.5 523.6L621.5 524.4L622.5 525.2L623.5 525.9L624.5 526.5L625.5 527.0L626.5 527.5L627.5 527.9L628.5 528.3L629.5 528.6L630.5 528.9L631.5 529.1L632.5 529.3L633.5 529.5L634.5 529.7L635.5 529.8L636.5 530.0L637.5 530.0L638.5 530.1L639.5 530.0L640.5 530.0L641.5 529.9L642.5 529.8L643.5 529.6L644.5 529.4L645.5 529.2L646.5 528.9L647.5 528.6L648.5 528.2L649.5 527.8L650.5 527.4L651.5 526.9L652.5 526.3L653.5 525.8L654.5 525.2L655.5 524.6L656.5 524.0L657.5 523.4L658.5 522.8L659.5 522.2L660.5 521.6L661.5 520.9L662.5 520.3L663.5 519.7L664.5 519.0L665.5 518.4L666.5 517.8L667.5 517.1L668.5 516.5L669.5 515.9L670.5 515.3L671.5 514.6L672.5 514.0L673.5 513.4L674.5 512.8L675.5 512.2L676.5 511.5L677.5 510.9L678.5 510.3L679.5 509.7L680.5 509.1L681.5 508.4L682.5 507.8L683.5 507.1L684.5 506.4L685.5 505.6L686.5 504.8L687.5 504.0L688.5 503.1L689.5 502.1L690.5 501.1L691.5 500.1L692.5 499.0L693.5 497.9L694.5 496.7L695.5 495.5L696.5 494.2L697.5 492.9L698.5 491.6L699.5 490.2L700.5 488.8L701.5 487.4L702.5 485.9L703.5 484.4L704.5 482.8L705.5 481.1L706.5 479.3L707.5 477.4L708.5 475.6L709.5 473.7L710.5 471.7L711.5 469.8L712.5 467.8L713.5 465.8L714.5 463.7L715.5 461.6L716.5 459.4L717.5 457.3L718.5 455.1L719.5 453.0L720.5 450.9L721.5 448.9L722.5 446.9L723.5 444.9L724.5 443.1L725.5 441.2L726.5 439.4L727.5 437.7L728.5 435.9L729.5 434.3L730.5 432.9L731.5 431.5L732.5 430.2L733.5 429.0L734.5 427.8L735.5 426.7L736.5 425.8L737.5 424.9L738.5 424.1L739.5 423.4L740.5 422.9L741.5 422.5L742.5 422.2L743.5 422.0L744.5 421.9L745.5 421.9L746.5 422.0L747.5 422.3L748.5 422.7L749.5 423.2L750.5 423.9L751.5 424.8L752.5 425.8L753.5 426.9L754.5 428.2L755.5 429.9L756.5 431.8L757.5 433.8L758.5 435.9L759.5 438.1L760.5 440.2L761.5 442.4L762.5 444.7L763.5 447.2L764.5 449.6L765.5 452.1L766.5 454.6L767.5 457.0L768.5 459.5L769.5 461.9L770.5 464.4L771.5 466.8L772.5 469.3L773.5 471.7L774.5 474.1L775.5 476.6L776.5 479.0L777.5 481.3L778.5 483.5L779.5 485.7L780.5 487.8L781.5 489.8L782.5 491.8L783.5 493.7L784.5 495.6L785.5 497.3L786.5 499.1L787.5 500.8L788.5 502.4L789.5 504.0L790.5 505.7L791.5 507.3L792.5 508.9L793.5 510.5L794.5 512.0L795.5 513.5L796.5 515.0L797.5 516.4L798.5 517.8L799.5 519.2L800.5 520.4L801.5 521.6L802.5 522.7L803.5 523.7L804.5 524.7L805.5 525.7L806.5 526.7L807.5 527.6L808.5 528.6L809.5 529.5L810.5 530.4L811.5 531.2L812.5 532.1L813.5 532.8L814.5 533.6L815.5 534.3L816.5 535.0L817.5 535.7L818.5 536.3L819.5 537.0L820.5 537.6L821.5 538.2L822.5 538.7L823.5 539.3L824.5 539.9L825.5 540.4L826.5 541.0L827.5 541.5L828.5 542.0L829.5 542.6L830.5 543.1L831.5 543.5L832.5 544.0L833.5 544.4L834.5 544.9L835.5 545.3L836.5 545.7L837.5 546.1L838.5 546.4L839.5 546.8L840.5 547.2L841.5 547.5L842.5 547.8L843.5 548.1L844.5 548.4L845.5 548.7L846.5 549.0L847.5 549.2L848.5 549.5L849.5 549.7L850.5 549.9L851.5 550.1L852.5 550.3L853.5 550.4L854.5 550.6L855.5 550.8L856.5 550.9L857.5 551.1L858.5 551.3L859.5 551.4L860.5 551.6L861.5 551.7L862.5 551.9L863.5 552.0L864.5 552.1L865.5 552.3L866.5 552.4L867.5 552.6L868.5 552.7L869.5 552.8L870.5 553.0L871.5 553.1L872.5 553.2L873.5 553.4L874.5 553.5L875.5 553.7L876.5 553.8L877.5 553.9L878.5 554.1L879.5 554.2L880.5 554.3L881.5 554.4L882.5 554.6L883.5 554.7L884.5 554.8L885.5 554.9L886.5 555.0L887.5 555.1L888.5 555.2L889.5 555.3L890.5 555.4L891.5 555.5L892.5 555.6L893.5 555.7L894.5 555.8L895.5 555.9L896.5 556.0L897.5 556.1L898.5 556.1L899.5 556.2L900.5 556.3L901.5 556.4L902.5 556.4L903.5 556.5L904.5 556.6L905.5 556.6L906.5 556.7L907.5 556.8L908.5 556.8L909.5 556.9L910.5 556.9L911.5 557.0L912.5 557.0L913.5 557.1L914.5 557.1L915.5 557.2L916.5 557.2L917.5 557.3L918.5 557.3L919.5 557.3L920.5 557.4L921.5 557.4L922.5 557.5L923.5 557.5L924.5 557.6L925.5 557.6L926.5 557.6L927.5 557.7L928.5 557.7L929.5 557.8L930.5 557.8L931.5 557.9L932.5 557.9L933.5 557.9L934.5 558.0L935.5 558.0L936.5 558.1L937.5 558.1L938.5 558.1L939.5 558.2L940.5 558.2L941.5 558.3L942.5 558.3L943.5 558.4L944.5 558.4L945.5 558.4L946.5 558.5L947.5 558.5L948.5 558.6L949.5 558.6L950.5 558.6L951.5 558.7L952.5 558.7L953.5 558.8L954.5 558.8L955.5 558.8L956.5 558.9L957.5 558.9L958.5 559.0L959.5 559.0L960.5 559.0L961.5 559.1L962.5 559.1L963.5 559.2L964.5 559.2L965.5 559.2L966.5 559.3L967.5 559.3L968.5 559.3L969.5 559.4L970.5 559.4L971.5 559.4L972.5 559.5L973.5 559.5L974.5 559.5L975.5 559.6L976.5 559.6L977.5 559.6L978.5 559.6L979.5 559.7L980.5 559.7L981.5 559.7L982.5 559.7L983.5 559.8L984.5 559.8L985.5 559.8L986.5 559.8L987.5 559.9L988.5 559.9L989.5 559.9L990.5 559.9L991.5 559.9L992.5 559.9L993.5 560.0L994.5 560.0L995.5 560.0L996.5 560.0L997.4 560.0" stroke="#3e7a06" stroke-width="3.3"/>
<path d="M132.5 82.0L133.5 88.7L134.5 96.2L135.5 104.0L136.5 112.6L137.5 123.2L138.5 134.2L139.5 145.1L140.5 155.6L141.5 166.1L142.5 176.6L143.5 187.1L144.5 197.9L145.5 208.9L146.5 219.3L147.5 228.7L148.5 236.5L149.5 243.5L150.5 249.7L151.5 255.4L152.5 260.5L153.5 264.8L154.5 268.1L155.5 271.1L156.5 273.8L157.5 276.1L158.5 277.8L159.5 279.0L160.5 279.9L161.5 280.3L162.5 280.5L163.5 280.2L164.5 279.4L165.5 278.3L166.5 276.8L167.5 275.2L168.5 273.4L169.5 271.5L170.5 269.6L171.5 267.6L172.5 265.5L173.5 263.4L174.5 261.2L175.5 259.0L176.5 256.8L177.5 254.8L178.5 252.8L179.5 251.0L180.5 249.2L181.5 247.6L182.5 246.1L183.5 244.8L184.5 243.7L185.5 242.6L186.5 241.6L187.5 240.7L188.5 240.0L189.5 239.4L190.5 239.1L191.5 239.0L192.5 239.2L193.5 239.6L194.5 240.5L195.5 241.9L196.5 244.1L197.5 247.0L198.5 250.5L199.5 254.5L200.5 258.5L201.5 262.6L202.5 266.9L203.5 271.4L204.5 275.9L205.5 280.5L206.5 285.0L207.5 289.5L208.5 293.9L209.5 298.5L210.5 303.5L211.5 308.9L212.5 314.5L213.5 320.0L214.5 325.3L215.5 330.6L216.5 336.0L217.5 341.4L218.5 346.9L219.5 352.5L220.5 358.4L221.5 364.4L222.5 370.5L223.5 376.4L224.5 382.0L225.5 387.1L226.5 392.0L227.5 396.7L228.5 401.1L229.5 405.4L230.5 409.5L231.5 413.2L232.5 416.7L233.5 419.9L234.5 422.9L235.5 425.7L236.5 428.2L237.5 430.7L238.5 433.1L239.5 435.4L240.5 437.7L241.5 439.9L242.5 442.1L243.5 444.1L244.5 446.1L245.5 448.1L246.5 450.0L247.5 451.9L248.5 453.7L249.5 455.5L250.5 457.2L251.5 459.0L252.5 460.8L253.5 462.6L254.5 464.6L255.5 466.4L256.5 468.1L257.5 469.7L258.5 471.2L259.5 472.7L260.5 474.3L261.5 476.0L262.5 477.7L263.5 479.4L264.5 481.1L265.5 482.6L266.5 484.2L267.5 485.8L268.5 487.5L269.5 489.2L270.5 491.0L271.5 492.8L272.5 494.7L273.5 496.8L274.5 498.9L275.5 501.0L276.5 503.2L277.5 505.4L278.5 507.5L279.5 509.5L280.5 511.3L281.5 513.0L282.5 514.5L283.5 516.0L284.5 517.3L285.5 518.6L286.5 519.8L287.5 521.0L288.5 522.1L289.5 523.2L290.5 524.3L291.5 525.3L292.5 526.3L293.5 527.2L294.5 528.2L295.5 529.0L296.5 529.9L297.5 530.6L298.5 531.4L299.5 532.0L300.5 532.6L301.5 533.2L302.5 533.7L303.5 534.2L304.5 534.7L305.5 535.1L306.5 535.4L307.5 535.8L308.5 536.1L309.5 536.3L310.5 536.6L311.5 536.8L312.5 536.9L313.5 537.1L314.5 537.2L315.5 537.2L316.5 537.3L317.5 537.3L318.5 537.3L319.5 537.3L320.5 537.3L321.5 537.2L322.5 537.1L323.5 537.0L324.5 536.9L325.5 536.8L326.5 536.7L327.5 536.6L328.5 536.4L329.5 536.2L330.5 536.1L331.5 535.9L332.5 535.7L333.5 535.5L334.5 535.2L335.5 535.0L336.5 534.8L337.5 534.5L338.5 534.2L339.5 533.9L340.5 533.6L341.5 533.2L342.5 532.8L343.5 532.4L344.5 532.0L345.5 531.5L346.5 531.0L347.5 530.5L348.5 529.9L349.5 529.3L350.5 528.7L351.5 528.1L352.5 527.4L353.5 526.7L354.5 526.0L355.5 525.3L356.5 524.5L357.5 523.7L358.5 523.0L359.5 522.2L360.5 521.4L361.5 520.6L362.5 519.7L363.5 518.9L364.5 518.1L365.5 517.2L366.5 516.4L367.5 515.5L368.5 514.6L369.5 513.7L370.5 512.8L371.5 511.9L372.5 511.0L373.5 510.1L374.5 509.2L375.5 508.3L376.5 507.4L377.5 506.5L378.5 505.6L379.5 504.7L380.5 503.8L381.5 502.9L382.5 502.0L383.5 501.1L384.5 500.2L385.5 499.3L386.5 498.5L387.5 497.6L388.5 496.7L389.5 495.8L390.5 494.9L391.5 494.0L392.5 493.2L393.5 492.3L394.5 491.5L395.5 490.7L396.5 490.0L397.5 489.4L398.5 488.9L399.5 488.5L400.5 488.1L401.5 487.7L402.5 487.3L403.5 487.0L404.5 486.7L405.5 486.4L406.5 486.2L407.5 486.0L408.5 485.8L409.5 485.7L410.5 485.6L411.5 485.5L412.5 485.5L413.5 485.5L414.5 485.5L415.5 485.6L416.5 485.7L417.5 485.8L418.5 486.0L419.5 486.2L420.5 486.4L421.5 486.6L422.5 486.9L423.5 487.2L424.5 487.5L425.5 487.8L426.5 488.2L427.5 488.6L428.5 489.0L429.5 489.6L430.5 490.2L431.5 490.8L432.5 491.5L433.5 492.2L434.5 493.0L435.5 493.7L436.5 494.5L437.5 495.3L438.5 496.1L439.5 496.9L440.5 497.7L441.5 498.5L442.5 499.2L443.5 500.0L444.5 500.7L445.5 501.5L446.5 502.2L447.5 502.8L448.5 503.5L449.5 504.2L450.5 504.8L451.5 505.5L452.5 506.1L453.5 506.8L454.5 507.5L455.5 508.1L456.5 508.8L457.5 509.5L458.5 510.1L459.5 510.8L460.5 511.5L461.5 512.2L462.5 512.9L463.5 513.5L464.5 514.2L465.5 514.9L466.5 515.6L467.5 516.2L468.5 516.9L469.5 517.6L470.5 518.2L471.5 518.9L472.5 519.5L473.5 520.0L474.5 520.5L475.5 521.0L476.5 521.5L477.5 521.9L478.5 522.2L479.5 522.5L480.5 522.8L481.5 523.1L482.5 523.2L483.5 523.4L484.5 523.5L485.5 523.6L486.5 523.6L487.5 523.7L488.5 523.7L489.5 523.7L490.5 523.6L491.5 523.6L492.5 523.5L493.5 523.3L494.5 523.2L495.5 523.0L496.5 522.8L497.5 522.6L498.5 522.3L499.5 522.1L500.5 521.8L501.5 521.4L502.5 521.1L503.5 520.7L504.5 520.2L505.5 519.8L506.5 519.2L507.5 518.7L508.5 518.1L509.5 517.5L510.5 516.9L511.5 516.2L512.5 515.5L513.5 514.8L514.5 514.1L515.5 513.4L516.5 512.6L517.5 511.8L518.5 511.0L519.5 510.2L520.5 509.3L521.5 508.4L522.5 507.5L523.5 506.6L524.5 505.7L525.5 504.7L526.5 503.7L527.5 502.7L528.5 501.7L529.5 500.6L530.5 499.5L531.5 498.4L532.5 497.2L533.5 496.0L534.5 494.7L535.5 493.4L536.5 492.1L537.5 490.7L538.5 489.3L539.5 487.8L540.5 486.3L541.5 484.7L542.5 483.1L543.5 481.5L544.5 479.8L545.5 478.2L546.5 476.5L547.5 474.9L548.5 473.2L549.5 471.6L550.5 469.9L551.5 468.2L552.5 466.5L553.5 464.7L554.5 462.9L555.5 461.0L556.5 458.8L557.5 456.5L558.5 454.0L559.5 451.4L560.5 448.8L561.5 446.3L562.5 444.0L563.5 441.9L564.5 439.9L565.5 438.0L566.5 436.2L567.5 434.4L568.5 432.7L569.5 431.1L570.5 429.6L571.5 428.4L572.5 427.4L573.5 426.6L574.5 425.9L575.5 425.4L576.5 425.0L577.5 424.8L578.5 424.8L579.5 424.9L580.5 425.2L581.5 425.7L582.5 426.4L583.5 427.4L584.5 428.6L585.5 430.1L586.5 431.9L587.5 434.2L588.5 436.7L589.5 439.3L590.5 441.9L591.5 444.5L592.5 447.1L593.5 449.8L594.5 452.6L595.5 455.4L596.5 458.2L597.5 460.9L598.5 463.7L599.5 466.5L600.5 469.3L601.5 472.1L602.5 474.8L603.5 477.5L604.5 480.2L605.5 482.8L606.5 485.5L607.5 488.1L608.5 490.7L609.5 493.2L610.5 495.5L611.5 497.6L612.5 499.4L613.5 501.2L614.5 502.8L615.5 504.5L616.5 506.1L617.5 507.7L618.5 509.1L619.5 510.5L620.5 511.7L621.5 512.8L622.5 513.8L623.5 514.7L624.5 515.5L625.5 516.2L626.5 516.8L627.5 517.4L628.5 517.8L629.5 518.2L630.5 518.6L631.5 518.9L632.5 519.2L633.5 519.5L634.5 519.7L635.5 519.9L636.5 520.0L637.5 520.1L638.5 520.2L639.5 520.1L640.5 520.1L641.5 519.9L642.5 519.8L643.5 519.6L644.5 519.3L645.5 519.0L646.5 518.7L647.5 518.3L648.5 517.8L649.5 517.2L650.5 516.6L651.5 516.0L652.5 515.3L653.5 514.5L654.5 513.8L655.5 513.0L656.5 512.2L657.5 511.5L658.5 510.6L659.5 509.8L660.5 509.0L661.5 508.2L662.5 507.4L663.5 506.5L664.5 505.7L665.5 504.9L666.5 504.0L667.5 503.2L668.5 502.4L669.5 501.5L670.5 500.7L671.5 499.9L672.5 499.1L673.5 498.3L674.5 497.5L675.5 496.6L676.5 495.8L677.5 495.0L678.5 494.2L679.5 493.4L680.5 492.6L681.5 491.7L682.5 490.9L683.5 490.0L684.5 489.1L685.5 488.1L686.5 487.0L687.5 485.9L688.5 484.7L689.5 483.4L690.5 482.1L691.5 480.7L692.5 479.3L693.5 477.9L694.5 476.3L695.5 474.7L696.5 473.1L697.5 471.3L698.5 469.6L699.5 467.7L700.5 465.9L701.5 464.0L702.5 462.1L703.5 460.1L704.5 458.0L705.5 455.8L706.5 453.4L707.5 451.0L708.5 448.5L709.5 446.0L710.5 443.5L711.5 440.9L712.5 438.3L713.5 435.7L714.5 432.9L715.5 430.2L716.5 427.3L717.5 424.5L718.5 421.7L719.5 418.9L720.5 416.1L721.5 413.4L722.5 410.8L723.5 408.3L724.5 405.8L725.5 403.4L726.5 401.0L727.5 398.7L728.5 396.5L729.5 394.3L730.5 392.4L731.5 390.6L732.5 388.9L733.5 387.3L734.5 385.7L735.5 384.3L736.5 383.1L737.5 381.9L738.5 380.9L739.5 380.0L740.5 379.3L741.5 378.7L742.5 378.3L743.5 378.1L744.5 377.9L745.5 378.0L746.5 378.2L747.5 378.5L748.5 379.0L749.5 379.7L750.5 380.7L751.5 381.8L752.5 383.1L753.5 384.5L754.5 386.3L755.5 388.6L756.5 391.1L757.5 393.7L758.5 396.4L759.5 399.3L760.5 402.1L761.5 405.0L762.5 408.0L763.5 411.2L764.5 414.4L765.5 417.7L766.5 420.9L767.5 424.2L768.5 427.4L769.5 430.6L770.5 433.8L771.5 437.0L772.5 440.2L773.5 443.5L774.5 446.7L775.5 449.9L776.5 453.0L777.5 456.1L778.5 459.0L779.5 461.8L780.5 464.6L781.5 467.2L782.5 469.8L783.5 472.4L784.5 474.8L785.5 477.2L786.5 479.4L787.5 481.7L788.5 483.8L789.5 486.0L790.5 488.1L791.5 490.2L792.5 492.3L793.5 494.4L794.5 496.5L795.5 498.4L796.5 500.4L797.5 502.3L798.5 504.1L799.5 505.9L800.5 507.5L801.5 509.0L802.5 510.5L803.5 511.9L804.5 513.2L805.5 514.5L806.5 515.7L807.5 517.0L808.5 518.2L809.5 519.4L810.5 520.6L811.5 521.7L812.5 522.8L813.5 523.8L814.5 524.8L815.5 525.8L816.5 526.7L817.5 527.6L818.5 528.4L819.5 529.2L820.5 530.0L821.5 530.8L822.5 531.6L823.5 532.4L824.5 533.1L825.5 533.8L826.5 534.5L827.5 535.2L828.5 535.9L829.5 536.6L830.5 537.3L831.5 537.9L832.5 538.5L833.5 539.1L834.5 539.6L835.5 540.2L836.5 540.7L837.5 541.2L838.5 541.7L839.5 542.2L840.5 542.6L841.5 543.1L842.5 543.5L843.5 543.9L844.5 544.3L845.5 544.7L846.5 545.1L847.5 545.4L848.5 545.7L849.5 546.0L850.5 546.2L851.5 546.5L852.5 546.7L853.5 547.0L854.5 547.2L855.5 547.4L856.5 547.6L857.5 547.8L858.5 548.0L859.5 548.2L860.5 548.4L861.5 548.6L862.5 548.8L863.5 549.0L864.5 549.2L865.5 549.4L866.5 549.6L867.5 549.7L868.5 549.9L869.5 550.1L870.5 550.3L871.5 550.5L872.5 550.7L873.5 550.8L874.5 551.0L875.5 551.2L876.5 551.4L877.5 551.5L878.5 551.7L879.5 551.9L880.5 552.1L881.5 552.2L882.5 552.4L883.5 552.5L884.5 552.7L885.5 552.8L886.5 553.0L887.5 553.1L888.5 553.3L889.5 553.4L890.5 553.5L891.5 553.7L892.5 553.8L893.5 553.9L894.5 554.0L895.5 554.1L896.5 554.2L897.5 554.3L898.5 554.4L899.5 554.6L900.5 554.6L901.5 554.7L902.5 554.8L903.5 554.9L904.5 555.0L905.5 555.1L906.5 555.2L907.5 555.3L908.5 555.3L909.5 555.4L910.5 555.5L911.5 555.6L912.5 555.6L913.5 555.7L914.5 555.7L915.5 555.8L916.5 555.9L917.5 555.9L918.5 556.0L919.5 556.0L920.5 556.1L921.5 556.1L922.5 556.2L923.5 556.3L924.5 556.3L925.5 556.4L926.5 556.4L927.5 556.5L928.5 556.5L929.5 556.6L930.5 556.7L931.5 556.7L932.5 556.8L933.5 556.8L934.5 556.9L935.5 556.9L936.5 557.0L937.5 557.0L938.5 557.1L939.5 557.1L940.5 557.2L941.5 557.3L942.5 557.3L943.5 557.4L944.5 557.4L945.5 557.5L946.5 557.5L947.5 557.6L948.5 557.6L949.5 557.7L950.5 557.7L951.5 557.8L952.5 557.8L953.5 557.9L954.5 558.0L955.5 558.0L956.5 558.1L957.5 558.1L958.5 558.2L959.5 558.2L960.5 558.3L961.5 558.3L962.5 558.4L963.5 558.4L964.5 558.5L965.5 558.5L966.5 558.6L967.5 558.6L968.5 558.7L969.5 558.7L970.5 558.8L971.5 558.8L972.5 558.8L973.5 558.9L974.5 558.9L975.5 559.0L976.5 559.0L977.5 559.0L978.5 559.1L979.5 559.1L980.5 559.1L981.5 559.2L982.5 559.2L983.5 559.2L984.5 559.2L985.5 559.3L986.5 559.3L987.5 559.3L988.5 559.4L989.5 559.4L990.5 559.4L991.5 559.4L992.5 559.5L993.5 559.5L994.5 559.5L995.5 559.5L996.5 559.6L997.4 559.6" stroke="#ff3200" stroke-width="3.3"/>
<path d="M132.5 99.0L133.5 106.8L134.5 115.6L135.5 124.5L136.5 133.8L137.5 144.2L138.5 154.8L139.5 165.3L140.5 175.7L141.5 186.0L142.5 196.3L143.5 206.6L144.5 217.0L145.5 227.4L146.5 237.5L147.5 246.7L148.5 254.1L149.5 260.6L150.5 266.4L151.5 271.9L152.5 276.7L153.5 280.8L154.5 284.2L155.5 287.4L156.5 290.4L157.5 293.1L158.5 295.2L159.5 296.7L160.5 297.7L161.5 298.5L162.5 299.0L163.5 299.1L164.5 298.9L165.5 298.3L166.5 297.5L167.5 296.5L168.5 295.3L169.5 293.9L170.5 292.5L171.5 291.0L172.5 289.4L173.5 287.7L174.5 285.9L175.5 284.1L176.5 282.3L177.5 280.6L178.5 279.0L179.5 277.6L180.5 276.1L181.5 274.8L182.5 273.6L183.5 272.5L184.5 271.4L185.5 270.5L186.5 269.6L187.5 268.8L188.5 268.2L189.5 267.8L190.5 267.5L191.5 267.5L192.5 267.7L193.5 268.3L194.5 269.3L195.5 270.8L196.5 273.3L197.5 276.4L198.5 280.0L199.5 284.1L200.5 288.2L201.5 292.3L202.5 296.6L203.5 301.0L204.5 305.4L205.5 309.7L206.5 314.1L207.5 318.2L208.5 322.4L209.5 326.5L210.5 330.7L211.5 335.2L212.5 339.7L213.5 344.2L214.5 348.6L215.5 353.1L216.5 357.5L217.5 362.1L218.5 366.7L219.5 371.3L220.5 376.3L221.5 381.5L222.5 387.0L223.5 392.2L224.5 397.0L225.5 401.5L226.5 405.8L227.5 409.9L228.5 413.9L229.5 417.7L230.5 421.4L231.5 424.7L232.5 427.7L233.5 430.5L234.5 433.0L235.5 435.3L236.5 437.4L237.5 439.3L238.5 441.2L239.5 443.0L240.5 444.8L241.5 446.5L242.5 448.1L243.5 449.7L244.5 451.3L245.5 452.8L246.5 454.3L247.5 455.7L248.5 457.1L249.5 458.5L250.5 459.8L251.5 461.1L252.5 462.5L253.5 463.9L254.5 465.3L255.5 466.6L256.5 467.9L257.5 469.1L258.5 470.2L259.5 471.4L260.5 472.5L261.5 473.8L262.5 475.1L263.5 476.3L264.5 477.6L265.5 478.8L266.5 480.1L267.5 481.4L268.5 482.7L269.5 484.2L270.5 485.7L271.5 487.3L272.5 489.0L273.5 490.8L274.5 492.7L275.5 494.8L276.5 496.8L277.5 498.9L278.5 500.9L279.5 502.8L280.5 504.6L281.5 506.2L282.5 507.7L283.5 509.2L284.5 510.6L285.5 511.9L286.5 513.2L287.5 514.5L288.5 515.7L289.5 516.9L290.5 518.0L291.5 519.2L292.5 520.2L293.5 521.3L294.5 522.3L295.5 523.3L296.5 524.2L297.5 525.0L298.5 525.8L299.5 526.6L300.5 527.2L301.5 527.8L302.5 528.4L303.5 528.9L304.5 529.4L305.5 529.9L306.5 530.3L307.5 530.6L308.5 531.0L309.5 531.3L310.5 531.5L311.5 531.7L312.5 531.9L313.5 532.0L314.5 532.1L315.5 532.2L316.5 532.2L317.5 532.3L318.5 532.2L319.5 532.2L320.5 532.1L321.5 532.0L322.5 531.9L323.5 531.8L324.5 531.7L325.5 531.5L326.5 531.4L327.5 531.2L328.5 531.0L329.5 530.8L330.5 530.5L331.5 530.3L332.5 530.0L333.5 529.7L334.5 529.5L335.5 529.2L336.5 528.8L337.5 528.5L338.5 528.1L339.5 527.8L340.5 527.4L341.5 526.9L342.5 526.4L343.5 525.9L344.5 525.4L345.5 524.8L346.5 524.2L347.5 523.5L348.5 522.8L349.5 522.1L350.5 521.3L351.5 520.6L352.5 519.8L353.5 518.9L354.5 518.0L355.5 517.1L356.5 516.2L357.5 515.3L358.5 514.3L359.5 513.3L360.5 512.3L361.5 511.3L362.5 510.3L363.5 509.3L364.5 508.3L365.5 507.3L366.5 506.2L367.5 505.2L368.5 504.1L369.5 503.0L370.5 501.9L371.5 500.8L372.5 499.7L373.5 498.6L374.5 497.5L375.5 496.4L376.5 495.3L377.5 494.2L378.5 493.0L379.5 491.9L380.5 490.8L381.5 489.7L382.5 488.6L383.5 487.5L384.5 486.5L385.5 485.4L386.5 484.3L387.5 483.2L388.5 482.1L389.5 481.0L390.5 480.0L391.5 478.9L392.5 477.8L393.5 476.8L394.5 475.7L395.5 474.8L396.5 474.0L397.5 473.2L398.5 472.6L399.5 472.0L400.5 471.5L401.5 471.1L402.5 470.7L403.5 470.3L404.5 469.9L405.5 469.6L406.5 469.3L407.5 469.0L408.5 468.8L409.5 468.6L410.5 468.5L411.5 468.4L412.5 468.4L413.5 468.4L414.5 468.5L415.5 468.5L416.5 468.7L417.5 468.8L418.5 469.0L419.5 469.2L420.5 469.5L421.5 469.8L422.5 470.1L423.5 470.4L424.5 470.8L425.5 471.2L426.5 471.7L427.5 472.2L428.5 472.7L429.5 473.4L430.5 474.1L431.5 474.9L432.5 475.8L433.5 476.7L434.5 477.6L435.5 478.5L436.5 479.4L437.5 480.4L438.5 481.4L439.5 482.4L440.5 483.3L441.5 484.3L442.5 485.2L443.5 486.2L444.5 487.1L445.5 488.0L446.5 488.8L447.5 489.7L448.5 490.5L449.5 491.3L450.5 492.1L451.5 492.9L452.5 493.7L453.5 494.5L454.5 495.3L455.5 496.1L456.5 496.9L457.5 497.8L458.5 498.6L459.5 499.4L460.5 500.3L461.5 501.1L462.5 501.9L463.5 502.7L464.5 503.6L465.5 504.4L466.5 505.2L467.5 506.1L468.5 506.9L469.5 507.7L470.5 508.5L471.5 509.3L472.5 510.0L473.5 510.7L474.5 511.3L475.5 511.9L476.5 512.5L477.5 513.0L478.5 513.4L479.5 513.8L480.5 514.1L481.5 514.4L482.5 514.6L483.5 514.8L484.5 515.0L485.5 515.1L486.5 515.1L487.5 515.2L488.5 515.2L489.5 515.2L490.5 515.1L491.5 515.0L492.5 514.9L493.5 514.8L494.5 514.6L495.5 514.4L496.5 514.1L497.5 513.8L498.5 513.5L499.5 513.2L500.5 512.8L501.5 512.4L502.5 512.0L503.5 511.5L504.5 511.0L505.5 510.4L506.5 509.7L507.5 509.1L508.5 508.4L509.5 507.6L510.5 506.9L511.5 506.1L512.5 505.2L513.5 504.3L514.5 503.4L515.5 502.5L516.5 501.6L517.5 500.6L518.5 499.6L519.5 498.6L520.5 497.6L521.5 496.5L522.5 495.4L523.5 494.3L524.5 493.1L525.5 492.0L526.5 490.8L527.5 489.5L528.5 488.2L529.5 486.9L530.5 485.6L531.5 484.2L532.5 482.8L533.5 481.3L534.5 479.7L535.5 478.1L536.5 476.5L537.5 474.8L538.5 473.1L539.5 471.2L540.5 469.3L541.5 467.4L542.5 465.4L543.5 463.5L544.5 461.5L545.5 459.5L546.5 457.4L547.5 455.4L548.5 453.4L549.5 451.3L550.5 449.3L551.5 447.2L552.5 445.1L553.5 443.0L554.5 440.7L555.5 438.3L556.5 435.7L557.5 432.9L558.5 429.8L559.5 426.6L560.5 423.4L561.5 420.4L562.5 417.6L563.5 415.0L564.5 412.5L565.5 410.2L566.5 408.0L567.5 405.8L568.5 403.8L569.5 401.8L570.5 400.0L571.5 398.5L572.5 397.3L573.5 396.3L574.5 395.4L575.5 394.8L576.5 394.3L577.5 394.1L578.5 394.0L579.5 394.2L580.5 394.6L581.5 395.2L582.5 396.1L583.5 397.2L584.5 398.7L585.5 400.5L586.5 402.7L587.5 405.5L588.5 408.6L589.5 411.8L590.5 414.9L591.5 418.1L592.5 421.4L593.5 424.7L594.5 428.1L595.5 431.5L596.5 434.9L597.5 438.3L598.5 441.7L599.5 445.1L600.5 448.5L601.5 451.9L602.5 455.3L603.5 458.6L604.5 461.9L605.5 465.2L606.5 468.4L607.5 471.6L608.5 474.8L609.5 477.9L610.5 480.7L611.5 483.2L612.5 485.5L613.5 487.6L614.5 489.7L615.5 491.7L616.5 493.6L617.5 495.6L618.5 497.4L619.5 499.0L620.5 500.5L621.5 501.8L622.5 503.0L623.5 504.1L624.5 505.1L625.5 506.0L626.5 506.8L627.5 507.4L628.5 508.0L629.5 508.5L630.5 509.0L631.5 509.4L632.5 509.7L633.5 510.0L634.5 510.3L635.5 510.5L636.5 510.7L637.5 510.8L638.5 510.9L639.5 510.8L640.5 510.7L641.5 510.6L642.5 510.4L643.5 510.1L644.5 509.8L645.5 509.5L646.5 509.0L647.5 508.5L648.5 508.0L649.5 507.3L650.5 506.5L651.5 505.7L652.5 504.9L653.5 504.0L654.5 503.0L655.5 502.1L656.5 501.2L657.5 500.2L658.5 499.2L659.5 498.2L660.5 497.2L661.5 496.2L662.5 495.2L663.5 494.2L664.5 493.1L665.5 492.1L666.5 491.1L667.5 490.1L668.5 489.1L669.5 488.1L670.5 487.0L671.5 486.0L672.5 485.0L673.5 484.0L674.5 483.0L675.5 482.1L676.5 481.1L677.5 480.1L678.5 479.1L679.5 478.1L680.5 477.1L681.5 476.1L682.5 475.0L683.5 473.9L684.5 472.8L685.5 471.5L686.5 470.2L687.5 468.9L688.5 467.4L689.5 465.9L690.5 464.3L691.5 462.6L692.5 460.8L693.5 459.0L694.5 457.2L695.5 455.2L696.5 453.2L697.5 451.1L698.5 448.9L699.5 446.7L700.5 444.4L701.5 442.1L702.5 439.8L703.5 437.3L704.5 434.7L705.5 432.0L706.5 429.1L707.5 426.1L708.5 423.1L709.5 420.1L710.5 417.0L711.5 413.8L712.5 410.6L713.5 407.3L714.5 404.0L715.5 400.6L716.5 397.2L717.5 393.7L718.5 390.2L719.5 386.8L720.5 383.4L721.5 380.1L722.5 376.9L723.5 373.8L724.5 370.8L725.5 367.8L726.5 365.0L727.5 362.1L728.5 359.3L729.5 356.8L730.5 354.4L731.5 352.2L732.5 350.1L733.5 348.1L734.5 346.2L735.5 344.5L736.5 342.9L737.5 341.5L738.5 340.3L739.5 339.2L740.5 338.3L741.5 337.6L742.5 337.1L743.5 336.8L744.5 336.7L745.5 336.7L746.5 336.9L747.5 337.3L748.5 338.0L749.5 338.8L750.5 340.0L751.5 341.4L752.5 342.9L753.5 344.7L754.5 346.9L755.5 349.7L756.5 352.7L757.5 355.9L758.5 359.3L759.5 362.8L760.5 366.2L761.5 369.8L762.5 373.5L763.5 377.4L764.5 381.4L765.5 385.3L766.5 389.3L767.5 393.3L768.5 397.2L769.5 401.2L770.5 405.1L771.5 409.0L772.5 413.0L773.5 416.9L774.5 420.8L775.5 424.8L776.5 428.6L777.5 432.4L778.5 435.9L779.5 439.4L780.5 442.8L781.5 446.0L782.5 449.2L783.5 452.3L784.5 455.3L785.5 458.2L786.5 461.0L787.5 463.7L788.5 466.4L789.5 469.0L790.5 471.6L791.5 474.2L792.5 476.8L793.5 479.3L794.5 481.8L795.5 484.3L796.5 486.6L797.5 488.9L798.5 491.2L799.5 493.3L800.5 495.4L801.5 497.2L802.5 499.0L803.5 500.7L804.5 502.3L805.5 503.9L806.5 505.4L807.5 507.0L808.5 508.5L809.5 509.9L810.5 511.4L811.5 512.8L812.5 514.1L813.5 515.4L814.5 516.6L815.5 517.7L816.5 518.9L817.5 519.9L818.5 521.0L819.5 522.0L820.5 523.0L821.5 523.9L822.5 524.9L823.5 525.8L824.5 526.7L825.5 527.6L826.5 528.5L827.5 529.3L828.5 530.2L829.5 531.0L830.5 531.8L831.5 532.6L832.5 533.3L833.5 534.0L834.5 534.7L835.5 535.4L836.5 536.0L837.5 536.6L838.5 537.3L839.5 537.8L840.5 538.4L841.5 539.0L842.5 539.5L843.5 540.0L844.5 540.5L845.5 540.9L846.5 541.4L847.5 541.8L848.5 542.1L849.5 542.5L850.5 542.8L851.5 543.1L852.5 543.4L853.5 543.7L854.5 544.0L855.5 544.2L856.5 544.5L857.5 544.8L858.5 545.0L859.5 545.3L860.5 545.5L861.5 545.7L862.5 546.0L863.5 546.2L864.5 546.4L865.5 546.6L866.5 546.9L867.5 547.1L868.5 547.3L869.5 547.5L870.5 547.8L871.5 548.0L872.5 548.2L873.5 548.4L874.5 548.7L875.5 548.9L876.5 549.1L877.5 549.3L878.5 549.5L879.5 549.7L880.5 549.9L881.5 550.1L882.5 550.3L883.5 550.5L884.5 550.7L885.5 550.9L886.5 551.1L887.5 551.2L888.5 551.4L889.5 551.6L890.5 551.7L891.5 551.9L892.5 552.0L893.5 552.2L894.5 552.3L895.5 552.5L896.5 552.6L897.5 552.7L898.5 552.9L899.5 553.0L900.5 553.1L901.5 553.2L902.5 553.3L903.5 553.5L904.5 553.6L905.5 553.7L906.5 553.8L907.5 553.9L908.5 554.0L909.5 554.0L910.5 554.1L911.5 554.2L912.5 554.3L913.5 554.4L914.5 554.4L915.5 554.5L916.5 554.6L917.5 554.7L918.5 554.7L919.5 554.8L920.5 554.9L921.5 554.9L922.5 555.0L923.5 555.1L924.5 555.1L925.5 555.2L926.5 555.3L927.5 555.4L928.5 555.4L929.5 555.5L930.5 555.6L931.5 555.6L932.5 555.7L933.5 555.8L934.5 555.8L935.5 555.9L936.5 556.0L937.5 556.0L938.5 556.1L939.5 556.2L940.5 556.2L941.5 556.3L942.5 556.4L943.5 556.4L944.5 556.5L945.5 556.6L946.5 556.6L947.5 556.7L948.5 556.8L949.5 556.8L950.5 556.9L951.5 557.0L952.5 557.0L953.5 557.1L954.5 557.2L955.5 557.2L956.5 557.3L957.5 557.3L958.5 557.4L959.5 557.5L960.5 557.5L961.5 557.6L962.5 557.7L963.5 557.7L964.5 557.8L965.5 557.9L966.5 557.9L967.5 558.0L968.5 558.0L969.5 558.1L970.5 558.1L971.5 558.2L972.5 558.2L973.5 558.3L974.5 558.3L975.5 558.4L976.5 558.4L977.5 558.5L978.5 558.5L979.5 558.6L980.5 558.6L981.5 558.6L982.5 558.7L983.5 558.7L984.5 558.7L985.5 558.8L986.5 558.8L987.5 558.8L988.5 558.9L989.5 558.9L990.5 558.9L991.5 559.0L992.5 559.0L993.5 559.0L994.5 559.1L995.5 559.1L996.5 559.1L997.4 559.1" stroke="#f01400" stroke-width="3.8"/>
<path d="M132.5 115.9L133.5 124.9L134.5 134.9L135.5 144.9L136.5 155.0L137.5 165.0L138.5 175.2L139.5 185.4L140.5 195.6L141.5 205.8L142.5 215.9L143.5 225.9L144.5 235.9L145.5 245.8L146.5 255.7L147.5 264.7L148.5 271.6L149.5 277.6L150.5 283.1L151.5 288.3L152.5 292.9L153.5 296.7L154.5 300.2L155.5 303.6L156.5 307.0L157.5 310.1L158.5 312.4L159.5 314.2L160.5 315.5L161.5 316.6L162.5 317.4L163.5 318.0L164.5 318.3L165.5 318.3L166.5 318.1L167.5 317.6L168.5 317.0L169.5 316.2L170.5 315.3L171.5 314.2L172.5 313.1L173.5 311.8L174.5 310.4L175.5 309.0L176.5 307.6L177.5 306.3L178.5 305.1L179.5 304.0L180.5 302.9L181.5 301.9L182.5 300.9L183.5 300.0L184.5 299.1L185.5 298.2L186.5 297.4L187.5 296.8L188.5 296.3L189.5 295.9L190.5 295.8L191.5 295.8L192.5 296.1L193.5 296.8L194.5 297.9L195.5 299.6L196.5 302.2L197.5 305.6L198.5 309.4L199.5 313.5L200.5 317.7L201.5 321.9L202.5 326.1L203.5 330.4L204.5 334.6L205.5 338.8L206.5 342.9L207.5 346.9L208.5 350.6L209.5 354.3L210.5 357.8L211.5 361.3L212.5 364.8L213.5 368.2L214.5 371.8L215.5 375.4L216.5 379.0L217.5 382.6L218.5 386.3L219.5 390.0L220.5 394.1L221.5 398.6L222.5 403.3L223.5 407.8L224.5 412.0L225.5 415.8L226.5 419.5L227.5 423.0L228.5 426.5L229.5 430.0L230.5 433.2L231.5 436.1L232.5 438.7L233.5 441.0L234.5 443.0L235.5 444.8L236.5 446.4L237.5 447.9L238.5 449.3L239.5 450.6L240.5 451.8L241.5 453.0L242.5 454.2L243.5 455.3L244.5 456.4L245.5 457.5L246.5 458.5L247.5 459.5L248.5 460.5L249.5 461.4L250.5 462.3L251.5 463.3L252.5 464.2L253.5 465.1L254.5 466.0L255.5 466.8L256.5 467.7L257.5 468.5L258.5 469.4L259.5 470.2L260.5 471.0L261.5 471.8L262.5 472.6L263.5 473.5L264.5 474.3L265.5 475.3L266.5 476.2L267.5 477.2L268.5 478.3L269.5 479.5L270.5 480.8L271.5 482.1L272.5 483.7L273.5 485.3L274.5 487.1L275.5 489.0L276.5 490.9L277.5 492.9L278.5 494.8L279.5 496.6L280.5 498.3L281.5 499.9L282.5 501.5L283.5 502.9L284.5 504.4L285.5 505.8L286.5 507.1L287.5 508.5L288.5 509.8L289.5 511.0L290.5 512.3L291.5 513.5L292.5 514.7L293.5 515.8L294.5 516.9L295.5 518.0L296.5 518.9L297.5 519.9L298.5 520.7L299.5 521.5L300.5 522.2L301.5 522.9L302.5 523.5L303.5 524.1L304.5 524.6L305.5 525.1L306.5 525.5L307.5 525.9L308.5 526.3L309.5 526.6L310.5 526.8L311.5 527.1L312.5 527.2L313.5 527.4L314.5 527.5L315.5 527.5L316.5 527.6L317.5 527.6L318.5 527.5L319.5 527.5L320.5 527.4L321.5 527.3L322.5 527.2L323.5 527.0L324.5 526.8L325.5 526.7L326.5 526.4L327.5 526.2L328.5 526.0L329.5 525.7L330.5 525.4L331.5 525.1L332.5 524.8L333.5 524.5L334.5 524.1L335.5 523.8L336.5 523.4L337.5 523.0L338.5 522.5L339.5 522.1L340.5 521.6L341.5 521.1L342.5 520.5L343.5 519.9L344.5 519.3L345.5 518.6L346.5 517.8L347.5 517.1L348.5 516.3L349.5 515.4L350.5 514.5L351.5 513.6L352.5 512.7L353.5 511.7L354.5 510.7L355.5 509.6L356.5 508.5L357.5 507.4L358.5 506.3L359.5 505.1L360.5 504.0L361.5 502.8L362.5 501.7L363.5 500.5L364.5 499.3L365.5 498.1L366.5 496.9L367.5 495.6L368.5 494.3L369.5 493.1L370.5 491.8L371.5 490.5L372.5 489.2L373.5 487.9L374.5 486.6L375.5 485.3L376.5 484.0L377.5 482.7L378.5 481.4L379.5 480.1L380.5 478.9L381.5 477.6L382.5 476.3L383.5 475.0L384.5 473.7L385.5 472.5L386.5 471.2L387.5 469.9L388.5 468.6L389.5 467.4L390.5 466.1L391.5 464.9L392.5 463.6L393.5 462.4L394.5 461.2L395.5 460.1L396.5 459.1L397.5 458.3L398.5 457.5L399.5 456.9L400.5 456.3L401.5 455.7L402.5 455.2L403.5 454.8L404.5 454.4L405.5 454.0L406.5 453.6L407.5 453.3L408.5 453.1L409.5 452.9L410.5 452.8L411.5 452.7L412.5 452.6L413.5 452.6L414.5 452.7L415.5 452.8L416.5 452.9L417.5 453.1L418.5 453.3L419.5 453.6L420.5 453.9L421.5 454.2L422.5 454.6L423.5 455.0L424.5 455.4L425.5 455.9L426.5 456.4L427.5 457.0L428.5 457.7L429.5 458.5L430.5 459.3L431.5 460.2L432.5 461.2L433.5 462.3L434.5 463.3L435.5 464.4L436.5 465.5L437.5 466.7L438.5 467.8L439.5 468.9L440.5 470.1L441.5 471.2L442.5 472.3L443.5 473.4L444.5 474.5L445.5 475.5L446.5 476.5L447.5 477.5L448.5 478.4L449.5 479.4L450.5 480.3L451.5 481.2L452.5 482.2L453.5 483.1L454.5 484.1L455.5 485.0L456.5 486.0L457.5 487.0L458.5 487.9L459.5 488.9L460.5 489.9L461.5 490.8L462.5 491.8L463.5 492.8L464.5 493.8L465.5 494.7L466.5 495.7L467.5 496.7L468.5 497.6L469.5 498.6L470.5 499.5L471.5 500.4L472.5 501.3L473.5 502.1L474.5 502.8L475.5 503.5L476.5 504.1L477.5 504.7L478.5 505.2L479.5 505.7L480.5 506.1L481.5 506.4L482.5 506.7L483.5 506.9L484.5 507.1L485.5 507.2L486.5 507.3L487.5 507.3L488.5 507.3L489.5 507.3L490.5 507.2L491.5 507.1L492.5 507.0L493.5 506.8L494.5 506.6L495.5 506.4L496.5 506.1L497.5 505.8L498.5 505.4L499.5 505.0L500.5 504.6L501.5 504.1L502.5 503.6L503.5 503.0L504.5 502.4L505.5 501.7L506.5 501.0L507.5 500.2L508.5 499.4L509.5 498.5L510.5 497.6L511.5 496.7L512.5 495.7L513.5 494.6L514.5 493.6L515.5 492.5L516.5 491.4L517.5 490.3L518.5 489.1L519.5 488.0L520.5 486.7L521.5 485.5L522.5 484.2L523.5 482.9L524.5 481.5L525.5 480.2L526.5 478.8L527.5 477.3L528.5 475.8L529.5 474.3L530.5 472.7L531.5 471.1L532.5 469.4L533.5 467.7L534.5 465.9L535.5 464.0L536.5 462.1L537.5 460.1L538.5 458.1L539.5 455.9L540.5 453.7L541.5 451.4L542.5 449.1L543.5 446.8L544.5 444.5L545.5 442.1L546.5 439.8L547.5 437.4L548.5 435.0L549.5 432.6L550.5 430.2L551.5 427.8L552.5 425.4L553.5 422.9L554.5 420.2L555.5 417.5L556.5 414.4L557.5 411.1L558.5 407.5L559.5 403.7L560.5 400.0L561.5 396.5L562.5 393.2L563.5 390.1L564.5 387.2L565.5 384.5L566.5 381.9L567.5 379.4L568.5 377.0L569.5 374.7L570.5 372.6L571.5 370.8L572.5 369.4L573.5 368.3L574.5 367.3L575.5 366.5L576.5 366.0L577.5 365.7L578.5 365.6L579.5 365.8L580.5 366.2L581.5 367.0L582.5 368.0L583.5 369.4L584.5 371.1L585.5 373.2L586.5 375.8L587.5 379.1L588.5 382.7L589.5 386.4L590.5 390.1L591.5 393.8L592.5 397.6L593.5 401.5L594.5 405.5L595.5 409.5L596.5 413.4L597.5 417.4L598.5 421.4L599.5 425.4L600.5 429.4L601.5 433.3L602.5 437.3L603.5 441.2L604.5 445.0L605.5 448.8L606.5 452.6L607.5 456.3L608.5 460.1L609.5 463.7L610.5 467.0L611.5 469.9L612.5 472.6L613.5 475.1L614.5 477.5L615.5 479.8L616.5 482.1L617.5 484.4L618.5 486.5L619.5 488.4L620.5 490.1L621.5 491.7L622.5 493.1L623.5 494.4L624.5 495.6L625.5 496.6L626.5 497.5L627.5 498.3L628.5 498.9L629.5 499.5L630.5 500.0L631.5 500.5L632.5 500.9L633.5 501.3L634.5 501.6L635.5 501.9L636.5 502.1L637.5 502.2L638.5 502.3L639.5 502.2L640.5 502.1L641.5 502.0L642.5 501.7L643.5 501.4L644.5 501.1L645.5 500.6L646.5 500.1L647.5 499.6L648.5 498.9L649.5 498.1L650.5 497.2L651.5 496.3L652.5 495.2L653.5 494.2L654.5 493.1L655.5 492.0L656.5 490.9L657.5 489.8L658.5 488.6L659.5 487.5L660.5 486.3L661.5 485.1L662.5 483.9L663.5 482.7L664.5 481.5L665.5 480.4L666.5 479.2L667.5 478.0L668.5 476.8L669.5 475.6L670.5 474.4L671.5 473.2L672.5 472.1L673.5 470.9L674.5 469.7L675.5 468.6L676.5 467.4L677.5 466.3L678.5 465.1L679.5 463.9L680.5 462.8L681.5 461.6L682.5 460.3L683.5 459.1L684.5 457.7L685.5 456.3L686.5 454.8L687.5 453.1L688.5 451.4L689.5 449.6L690.5 447.8L691.5 445.8L692.5 443.8L693.5 441.7L694.5 439.5L695.5 437.2L696.5 434.8L697.5 432.3L698.5 429.8L699.5 427.2L700.5 424.6L701.5 421.9L702.5 419.1L703.5 416.2L704.5 413.2L705.5 410.0L706.5 406.6L707.5 403.2L708.5 399.7L709.5 396.1L710.5 392.5L711.5 388.8L712.5 385.0L713.5 381.2L714.5 377.3L715.5 373.3L716.5 369.3L717.5 365.2L718.5 361.2L719.5 357.2L720.5 353.2L721.5 349.4L722.5 345.6L723.5 342.0L724.5 338.5L725.5 335.0L726.5 331.6L727.5 328.3L728.5 325.1L729.5 322.0L730.5 319.3L731.5 316.7L732.5 314.3L733.5 311.9L734.5 309.7L735.5 307.7L736.5 305.9L737.5 304.2L738.5 302.7L739.5 301.5L740.5 300.5L741.5 299.7L742.5 299.1L743.5 298.7L744.5 298.5L745.5 298.6L746.5 298.8L747.5 299.3L748.5 300.1L749.5 301.1L750.5 302.4L751.5 304.0L752.5 305.9L753.5 308.0L754.5 310.5L755.5 313.7L756.5 317.3L757.5 321.1L758.5 325.0L759.5 329.1L760.5 333.1L761.5 337.3L762.5 341.6L763.5 346.2L764.5 350.8L765.5 355.5L766.5 360.1L767.5 364.7L768.5 369.3L769.5 374.0L770.5 378.6L771.5 383.2L772.5 387.8L773.5 392.4L774.5 397.0L775.5 401.6L776.5 406.1L777.5 410.5L778.5 414.6L779.5 418.7L780.5 422.6L781.5 426.4L782.5 430.2L783.5 433.8L784.5 437.3L785.5 440.7L786.5 443.9L787.5 447.1L788.5 450.2L789.5 453.3L790.5 456.3L791.5 459.4L792.5 462.4L793.5 465.4L794.5 468.3L795.5 471.2L796.5 473.9L797.5 476.6L798.5 479.3L799.5 481.8L800.5 484.2L801.5 486.3L802.5 488.4L803.5 490.4L804.5 492.3L805.5 494.1L806.5 495.9L807.5 497.7L808.5 499.5L809.5 501.2L810.5 502.9L811.5 504.5L812.5 506.0L813.5 507.5L814.5 509.0L815.5 510.3L816.5 511.6L817.5 512.9L818.5 514.1L819.5 515.3L820.5 516.4L821.5 517.5L822.5 518.7L823.5 519.7L824.5 520.8L825.5 521.9L826.5 522.9L827.5 523.9L828.5 524.9L829.5 525.8L830.5 526.8L831.5 527.7L832.5 528.5L833.5 529.4L834.5 530.2L835.5 531.0L836.5 531.7L837.5 532.4L838.5 533.1L839.5 533.8L840.5 534.5L841.5 535.1L842.5 535.8L843.5 536.3L844.5 536.9L845.5 537.4L846.5 537.9L847.5 538.4L848.5 538.8L849.5 539.3L850.5 539.6L851.5 540.0L852.5 540.3L853.5 540.7L854.5 541.0L855.5 541.3L856.5 541.6L857.5 541.9L858.5 542.2L859.5 542.5L860.5 542.8L861.5 543.1L862.5 543.3L863.5 543.6L864.5 543.9L865.5 544.1L866.5 544.4L867.5 544.7L868.5 544.9L869.5 545.2L870.5 545.4L871.5 545.7L872.5 546.0L873.5 546.2L874.5 546.5L875.5 546.7L876.5 547.0L877.5 547.2L878.5 547.5L879.5 547.7L880.5 548.0L881.5 548.2L882.5 548.4L883.5 548.7L884.5 548.9L885.5 549.1L886.5 549.3L887.5 549.5L888.5 549.7L889.5 549.9L890.5 550.1L891.5 550.3L892.5 550.4L893.5 550.6L894.5 550.8L895.5 550.9L896.5 551.1L897.5 551.2L898.5 551.4L899.5 551.5L900.5 551.7L901.5 551.8L902.5 552.0L903.5 552.1L904.5 552.2L905.5 552.3L906.5 552.5L907.5 552.6L908.5 552.7L909.5 552.8L910.5 552.9L911.5 553.0L912.5 553.1L913.5 553.2L914.5 553.3L915.5 553.3L916.5 553.4L917.5 553.5L918.5 553.6L919.5 553.7L920.5 553.7L921.5 553.8L922.5 553.9L923.5 554.0L924.5 554.1L925.5 554.2L926.5 554.2L927.5 554.3L928.5 554.4L929.5 554.5L930.5 554.6L931.5 554.6L932.5 554.7L933.5 554.8L934.5 554.9L935.5 554.9L936.5 555.0L937.5 555.1L938.5 555.2L939.5 555.3L940.5 555.3L941.5 555.4L942.5 555.5L943.5 555.6L944.5 555.6L945.5 555.7L946.5 555.8L947.5 555.9L948.5 556.0L949.5 556.0L950.5 556.1L951.5 556.2L952.5 556.3L953.5 556.3L954.5 556.4L955.5 556.5L956.5 556.6L957.5 556.6L958.5 556.7L959.5 556.8L960.5 556.9L961.5 556.9L962.5 557.0L963.5 557.1L964.5 557.2L965.5 557.2L966.5 557.3L967.5 557.4L968.5 557.4L969.5 557.5L970.5 557.6L971.5 557.6L972.5 557.7L973.5 557.7L974.5 557.8L975.5 557.8L976.5 557.9L977.5 558.0L978.5 558.0L979.5 558.0L980.5 558.1L981.5 558.1L982.5 558.2L983.5 558.2L984.5 558.3L985.5 558.3L986.5 558.4L987.5 558.4L988.5 558.4L989.5 558.5L990.5 558.5L991.5 558.5L992.5 558.6L993.5 558.6L994.5 558.7L995.5 558.7L996.5 558.7L997.4 558.7" stroke="#dc0202" stroke-width="4.2"/>
</g>
<line x1="414.3" y1="444" x2="414.3" y2="401.4" stroke="#000" stroke-width="3.8"/><path d="M414.3 366L403.3 407.6Q409.4 404.5 414.3 403.4Q419.2 404.5 425.3 407.6Z" fill="#000"/>
<line x1="578.7" y1="355.3" x2="578.7" y2="298.3" stroke="#000" stroke-width="3.9"/><path d="M578.7 262.5L567.7 304.5Q573.8 301.4 578.7 300.3Q583.7 301.4 589.7 304.5Z" fill="#000"/>
<line x1="747" y1="284" x2="747" y2="184.5" stroke="#000" stroke-width="3.9"/><path d="M747 148.7L735.5 190.7Q741.8 187.5 747 186.5Q752.2 187.5 758.5 190.7Z" fill="#000"/>
<clipPath id="cb"><rect x="139" y="700" width="845" height="535"/></clipPath>
<g stroke="#8c8c8c" stroke-width="1.6" fill="none">
<path d="M140.3 703.5V1227.3H979.8"/>
<path d="M130 1227.3H140.3"/>
<path d="M130 1052.7H140.3"/>
<path d="M130 878.2H140.3"/>
<path d="M130 703.6H140.3"/>
<path d="M242.5 1227.3V1235.5"/>
<path d="M389.9 1227.3V1235.5"/>
<path d="M537.2 1227.3V1235.5"/>
<path d="M684.5 1227.3V1235.5"/>
<path d="M831.9 1227.3V1235.5"/>
<path d="M979.2 1227.3V1235.5"/>
</g>
<g clip-path="url(#cb)" fill="none" stroke-linejoin="round">
<path d="M139.5 1070.9L140.5 1075.1L141.5 1079.3L142.5 1082.7L143.5 1085.5L144.5 1087.9L145.5 1090.0L146.5 1091.9L147.5 1093.7L148.5 1095.3L149.5 1096.8L150.5 1098.2L151.5 1099.6L152.5 1101.1L153.5 1102.4L154.5 1103.8L155.5 1105.0L156.5 1106.1L157.5 1106.9L158.5 1107.6L159.5 1108.0L160.5 1108.2L161.5 1108.2L162.5 1107.9L163.5 1107.4L164.5 1106.7L165.5 1105.8L166.5 1104.8L167.5 1103.6L168.5 1102.3L169.5 1100.9L170.5 1099.5L171.5 1098.0L172.5 1096.4L173.5 1094.8L174.5 1093.3L175.5 1091.6L176.5 1089.9L177.5 1087.9L178.5 1085.7L179.5 1083.2L180.5 1080.3L181.5 1077.2L182.5 1074.1L183.5 1071.2L184.5 1068.6L185.5 1066.4L186.5 1064.4L187.5 1062.5L188.5 1060.8L189.5 1059.1L190.5 1057.3L191.5 1055.7L192.5 1054.2L193.5 1052.9L194.5 1051.8L195.5 1051.1L196.5 1050.8L197.5 1050.8L198.5 1051.2L199.5 1052.0L200.5 1053.3L201.5 1054.9L202.5 1056.9L203.5 1059.1L204.5 1061.4L205.5 1063.8L206.5 1066.4L207.5 1069.4L208.5 1072.9L209.5 1077.0L210.5 1081.4L211.5 1085.8L212.5 1089.8L213.5 1093.2L214.5 1096.1L215.5 1098.7L216.5 1101.0L217.5 1103.2L218.5 1105.4L219.5 1107.4L220.5 1109.4L221.5 1111.2L222.5 1113.1L223.5 1114.9L224.5 1116.6L225.5 1118.3L226.5 1119.9L227.5 1121.5L228.5 1122.9L229.5 1124.3L230.5 1125.5L231.5 1126.6L232.5 1127.6L233.5 1128.6L234.5 1129.5L235.5 1130.3L236.5 1131.1L237.5 1131.8L238.5 1132.5L239.5 1133.1L240.5 1133.5L241.5 1133.9L242.5 1134.1L243.5 1134.3L244.5 1134.3L245.5 1134.2L246.5 1134.0L247.5 1133.7L248.5 1133.4L249.5 1133.0L250.5 1132.5L251.5 1132.1L252.5 1131.6L253.5 1131.2L254.5 1130.7L255.5 1130.3L256.5 1129.9L257.5 1129.5L258.5 1129.2L259.5 1128.8L260.5 1128.4L261.5 1128.1L262.5 1127.8L263.5 1127.6L264.5 1127.4L265.5 1127.2L266.5 1127.2L267.5 1127.3L268.5 1127.5L269.5 1127.8L270.5 1128.3L271.5 1129.0L272.5 1129.8L273.5 1130.8L274.5 1131.9L275.5 1133.2L276.5 1134.6L277.5 1136.1L278.5 1137.7L279.5 1139.5L280.5 1141.3L281.5 1143.3L282.5 1145.4L283.5 1147.4L284.5 1149.5L285.5 1151.4L286.5 1153.2L287.5 1154.9L288.5 1156.6L289.5 1158.2L290.5 1159.7L291.5 1161.2L292.5 1162.7L293.5 1164.2L294.5 1165.6L295.5 1166.9L296.5 1168.2L297.5 1169.5L298.5 1170.7L299.5 1171.9L300.5 1172.9L301.5 1173.9L302.5 1174.8L303.5 1175.7L304.5 1176.4L305.5 1177.1L306.5 1177.8L307.5 1178.4L308.5 1178.9L309.5 1179.5L310.5 1180.0L311.5 1180.5L312.5 1180.9L313.5 1181.3L314.5 1181.7L315.5 1182.0L316.5 1182.2L317.5 1182.4L318.5 1182.6L319.5 1182.6L320.5 1182.6L321.5 1182.5L322.5 1182.3L323.5 1182.1L324.5 1181.8L325.5 1181.5L326.5 1181.1L327.5 1180.7L328.5 1180.2L329.5 1179.7L330.5 1179.1L331.5 1178.5L332.5 1177.8L333.5 1177.1L334.5 1176.3L335.5 1175.5L336.5 1174.7L337.5 1173.8L338.5 1172.9L339.5 1172.0L340.5 1171.1L341.5 1170.1L342.5 1169.1L343.5 1168.0L344.5 1167.0L345.5 1165.8L346.5 1164.6L347.5 1163.4L348.5 1162.1L349.5 1160.7L350.5 1159.2L351.5 1157.7L352.5 1156.2L353.5 1154.7L354.5 1153.1L355.5 1151.6L356.5 1150.0L357.5 1148.4L358.5 1146.7L359.5 1145.0L360.5 1143.3L361.5 1141.6L362.5 1139.8L363.5 1137.9L364.5 1136.0L365.5 1134.0L366.5 1132.0L367.5 1129.9L368.5 1127.8L369.5 1125.8L370.5 1123.7L371.5 1121.6L372.5 1119.5L373.5 1117.4L374.5 1115.3L375.5 1113.2L376.5 1111.1L377.5 1109.1L378.5 1107.0L379.5 1105.0L380.5 1103.0L381.5 1101.1L382.5 1099.1L383.5 1097.2L384.5 1095.3L385.5 1093.4L386.5 1091.5L387.5 1089.7L388.5 1087.8L389.5 1085.9L390.5 1084.0L391.5 1082.2L392.5 1080.3L393.5 1078.6L394.5 1076.9L395.5 1075.4L396.5 1074.0L397.5 1072.8L398.5 1071.6L399.5 1070.6L400.5 1069.6L401.5 1068.8L402.5 1068.0L403.5 1067.3L404.5 1066.7L405.5 1066.1L406.5 1065.6L407.5 1065.2L408.5 1064.8L409.5 1064.5L410.5 1064.3L411.5 1064.1L412.5 1064.0L413.5 1063.9L414.5 1063.9L415.5 1063.9L416.5 1064.0L417.5 1064.2L418.5 1064.4L419.5 1064.7L420.5 1065.0L421.5 1065.4L422.5 1065.9L423.5 1066.4L424.5 1067.0L425.5 1067.6L426.5 1068.3L427.5 1069.1L428.5 1069.9L429.5 1070.9L430.5 1071.9L431.5 1072.9L432.5 1074.1L433.5 1075.4L434.5 1076.7L435.5 1078.2L436.5 1079.8L437.5 1081.6L438.5 1083.6L439.5 1085.7L440.5 1087.9L441.5 1090.2L442.5 1092.5L443.5 1094.8L444.5 1097.2L445.5 1099.6L446.5 1102.0L447.5 1104.4L448.5 1106.9L449.5 1109.3L450.5 1111.8L451.5 1114.2L452.5 1116.6L453.5 1119.0L454.5 1121.3L455.5 1123.7L456.5 1126.1L457.5 1128.6L458.5 1131.1L459.5 1133.5L460.5 1135.7L461.5 1137.8L462.5 1139.8L463.5 1141.5L464.5 1143.2L465.5 1144.7L466.5 1146.1L467.5 1147.4L468.5 1148.6L469.5 1149.7L470.5 1150.8L471.5 1151.7L472.5 1152.6L473.5 1153.4L474.5 1154.1L475.5 1154.8L476.5 1155.3L477.5 1155.8L478.5 1156.2L479.5 1156.6L480.5 1156.8L481.5 1156.9L482.5 1156.9L483.5 1156.8L484.5 1156.6L485.5 1156.3L486.5 1155.9L487.5 1155.4L488.5 1154.9L489.5 1154.3L490.5 1153.6L491.5 1152.9L492.5 1152.1L493.5 1151.3L494.5 1150.4L495.5 1149.5L496.5 1148.5L497.5 1147.5L498.5 1146.4L499.5 1145.3L500.5 1144.1L501.5 1142.9L502.5 1141.7L503.5 1140.5L504.5 1139.2L505.5 1137.9L506.5 1136.6L507.5 1135.3L508.5 1134.0L509.5 1132.7L510.5 1131.4L511.5 1130.0L512.5 1128.7L513.5 1127.4L514.5 1126.1L515.5 1124.8L516.5 1123.4L517.5 1122.0L518.5 1120.5L519.5 1118.9L520.5 1117.3L521.5 1115.5L522.5 1113.5L523.5 1111.4L524.5 1109.2L525.5 1106.8L526.5 1104.3L527.5 1101.9L528.5 1099.4L529.5 1096.8L530.5 1094.3L531.5 1091.7L532.5 1088.9L533.5 1086.1L534.5 1083.0L535.5 1079.9L536.5 1076.5L537.5 1073.1L538.5 1069.4L539.5 1065.5L540.5 1061.2L541.5 1056.8L542.5 1052.4L543.5 1047.8L544.5 1043.2L545.5 1038.5L546.5 1033.6L547.5 1028.7L548.5 1023.7L549.5 1018.7L550.5 1013.7L551.5 1008.5L552.5 1003.3L553.5 998.1L554.5 992.8L555.5 987.5L556.5 982.3L557.5 977.2L558.5 972.2L559.5 967.2L560.5 962.3L561.5 957.8L562.5 953.9L563.5 950.5L564.5 947.3L565.5 944.4L566.5 942.1L567.5 940.4L568.5 939.1L569.5 938.1L570.5 937.4L571.5 937.0L572.5 936.9L573.5 937.2L574.5 937.7L575.5 938.6L576.5 940.0L577.5 942.0L578.5 945.6L579.5 950.4L580.5 955.2L581.5 960.1L582.5 965.6L583.5 971.6L584.5 977.6L585.5 983.7L586.5 989.7L587.5 995.7L588.5 1001.8L589.5 1007.8L590.5 1013.9L591.5 1019.8L592.5 1025.6L593.5 1031.2L594.5 1036.6L595.5 1042.1L596.5 1047.5L597.5 1053.0L598.5 1058.5L599.5 1064.1L600.5 1069.6L601.5 1075.1L602.5 1080.5L603.5 1085.6L604.5 1090.5L605.5 1095.4L606.5 1100.2L607.5 1104.5L608.5 1108.4L609.5 1111.9L610.5 1115.3L611.5 1118.6L612.5 1121.7L613.5 1124.6L614.5 1127.1L615.5 1129.3L616.5 1131.3L617.5 1133.2L618.5 1134.8L619.5 1136.2L620.5 1137.3L621.5 1138.3L622.5 1139.0L623.5 1139.7L624.5 1140.2L625.5 1140.4L626.5 1140.5L627.5 1140.4L628.5 1140.2L629.5 1139.7L630.5 1139.1L631.5 1138.4L632.5 1137.6L633.5 1136.7L634.5 1135.8L635.5 1134.8L636.5 1133.7L637.5 1132.5L638.5 1131.4L639.5 1130.1L640.5 1128.8L641.5 1127.5L642.5 1126.1L643.5 1124.4L644.5 1122.3L645.5 1119.9L646.5 1117.4L647.5 1114.9L648.5 1112.4L649.5 1109.8L650.5 1107.3L651.5 1104.8L652.5 1102.3L653.5 1099.8L654.5 1097.3L655.5 1094.8L656.5 1092.3L657.5 1089.8L658.5 1087.3L659.5 1084.8L660.5 1082.3L661.5 1079.8L662.5 1077.4L663.5 1074.9L664.5 1072.6L665.5 1070.3L666.5 1068.1L667.5 1065.9L668.5 1063.8L669.5 1061.6L670.5 1059.4L671.5 1057.1L672.5 1054.8L673.5 1052.3L674.5 1049.8L675.5 1047.2L676.5 1044.5L677.5 1041.7L678.5 1038.8L679.5 1035.7L680.5 1032.5L681.5 1029.2L682.5 1025.7L683.5 1022.0L684.5 1018.1L685.5 1013.9L686.5 1009.5L687.5 1005.2L688.5 1000.8L689.5 996.3L690.5 991.7L691.5 987.0L692.5 982.2L693.5 977.5L694.5 972.8L695.5 968.1L696.5 963.5L697.5 959.0L698.5 954.5L699.5 949.6L700.5 944.1L701.5 938.1L702.5 931.7L703.5 925.0L704.5 918.0L705.5 910.9L706.5 904.0L707.5 897.3L708.5 890.6L709.5 883.9L710.5 877.2L711.5 870.5L712.5 863.8L713.5 857.1L714.5 850.4L715.5 843.9L716.5 837.4L717.5 831.0L718.5 824.6L719.5 818.2L720.5 812.0L721.5 806.4L722.5 801.2L723.5 796.1L724.5 791.1L725.5 785.9L726.5 781.6L727.5 778.9L728.5 777.0L729.5 775.5L730.5 774.3L731.5 773.3L732.5 772.7L733.5 772.6L734.5 772.9L735.5 773.6L736.5 774.7L737.5 776.1L738.5 777.8L739.5 780.0L740.5 783.9L741.5 791.4L742.5 797.2L743.5 802.9L744.5 808.8L745.5 815.6L746.5 823.2L747.5 830.9L748.5 838.8L749.5 847.0L750.5 855.5L751.5 864.3L752.5 873.2L753.5 882.2L754.5 891.1L755.5 899.7L756.5 908.2L757.5 916.4L758.5 924.5L759.5 932.5L760.5 940.4L761.5 948.3L762.5 955.8L763.5 962.9L764.5 970.0L765.5 977.0L766.5 984.1L767.5 991.6L768.5 1000.8L769.5 1010.6L770.5 1018.9L771.5 1026.2L772.5 1033.2L773.5 1039.7L774.5 1046.0L775.5 1052.0L776.5 1057.9L777.5 1063.7L778.5 1069.3L779.5 1074.8L780.5 1080.2L781.5 1085.3L782.5 1090.2L783.5 1094.9L784.5 1099.4L785.5 1103.8L786.5 1108.1L787.5 1112.3L788.5 1116.4L789.5 1120.5L790.5 1124.4L791.5 1128.1L792.5 1131.7L793.5 1135.0L794.5 1138.3L795.5 1141.4L796.5 1144.5L797.5 1147.6L798.5 1150.6L799.5 1153.5L800.5 1156.4L801.5 1159.2L802.5 1161.8L803.5 1164.3L804.5 1166.6L805.5 1168.8L806.5 1170.9L807.5 1172.9L808.5 1174.8L809.5 1176.6L810.5 1178.3L811.5 1179.8L812.5 1181.3L813.5 1182.6L814.5 1183.9L815.5 1185.1L816.5 1186.3L817.5 1187.4L818.5 1188.4L819.5 1189.5L820.5 1190.5L821.5 1191.5L822.5 1192.5L823.5 1193.5L824.5 1194.4L825.5 1195.4L826.5 1196.3L827.5 1197.2L828.5 1198.0L829.5 1198.8L830.5 1199.6L831.5 1200.3L832.5 1200.9L833.5 1201.6L834.5 1202.2L835.5 1202.7L836.5 1203.2L837.5 1203.7L838.5 1204.2L839.5 1204.6L840.5 1205.1L841.5 1205.5L842.5 1205.9L843.5 1206.3L844.5 1206.7L845.5 1207.1L846.5 1207.5L847.5 1207.8L848.5 1208.2L849.5 1208.6L850.5 1208.9L851.5 1209.3L852.5 1209.7L853.5 1210.1L854.5 1210.5L855.5 1210.9L856.5 1211.2L857.5 1211.6L858.5 1211.9L859.5 1212.3L860.5 1212.6L861.5 1212.8L862.5 1213.1L863.5 1213.3L864.5 1213.5L865.5 1213.6L866.5 1213.8L867.5 1213.9L868.5 1214.0L869.5 1214.1L870.5 1214.2L871.5 1214.3L872.5 1214.3L873.5 1214.4L874.5 1214.5L875.5 1214.6L876.5 1214.7L877.5 1214.8L878.5 1214.9L879.5 1215.0L880.5 1215.1L881.5 1215.2L882.5 1215.2L883.5 1215.3L884.5 1215.4L885.5 1215.5L886.5 1215.6L887.5 1215.7L888.5 1215.8L889.5 1215.9L890.5 1216.0L891.5 1216.1L892.5 1216.1L893.5 1216.2L894.5 1216.3L895.5 1216.4L896.5 1216.5L897.5 1216.6L898.5 1216.7L899.5 1216.8L900.5 1216.9L901.5 1217.0L902.5 1217.0L903.5 1217.1L904.5 1217.2L905.5 1217.3L906.5 1217.4L907.5 1217.5L908.5 1217.6L909.5 1217.7L910.5 1217.8L911.5 1217.9L912.5 1217.9L913.5 1218.0L914.5 1218.1L915.5 1218.2L916.5 1218.3L917.5 1218.4L918.5 1218.5L919.5 1218.6L920.5 1218.7L921.5 1218.8L922.5 1218.8L923.5 1218.9L924.5 1219.0L925.5 1219.1L926.5 1219.2L927.5 1219.3L928.5 1219.4L929.5 1219.5L930.5 1219.6L931.5 1219.7L932.5 1219.7L933.5 1219.8L934.5 1219.9L935.5 1220.0L936.5 1220.1L937.5 1220.2L938.5 1220.3L939.5 1220.4L940.5 1220.5L941.5 1220.5L942.5 1220.6L943.5 1220.7L944.5 1220.8L945.5 1220.9L946.5 1220.9L947.5 1221.0L948.5 1221.1L949.5 1221.1L950.5 1221.2L951.5 1221.2L952.5 1221.3L953.5 1221.3L954.5 1221.4L955.5 1221.4L956.5 1221.5L957.5 1221.5L958.5 1221.5L959.5 1221.6L960.5 1221.6L961.5 1221.6L962.5 1221.7L963.5 1221.7L964.5 1221.7L965.5 1221.8L966.5 1221.8L967.5 1221.8L968.5 1221.8L969.5 1221.8L970.5 1221.9L971.5 1221.9L972.5 1221.9L973.5 1221.9L974.5 1221.9L975.5 1221.9L976.5 1222.0L977.5 1222.0L978.5 1222.0L979.5 1222.0" stroke="#050528" stroke-width="4.0"/>
<path d="M139.5 1045.9L140.5 1049.0L141.5 1052.7L142.5 1056.1L143.5 1059.1L144.5 1061.9L145.5 1064.3L146.5 1066.6L147.5 1068.7L148.5 1070.7L149.5 1072.5L150.5 1074.3L151.5 1075.9L152.5 1077.5L153.5 1079.2L154.5 1080.9L155.5 1082.7L156.5 1084.5L157.5 1086.3L158.5 1088.0L159.5 1089.6L160.5 1091.0L161.5 1092.1L162.5 1092.9L163.5 1093.4L164.5 1093.6L165.5 1093.4L166.5 1092.9L167.5 1092.2L168.5 1091.2L169.5 1090.1L170.5 1088.9L171.5 1087.6L172.5 1086.3L173.5 1084.8L174.5 1083.4L175.5 1081.9L176.5 1080.4L177.5 1078.8L178.5 1077.3L179.5 1075.8L180.5 1074.2L181.5 1072.7L182.5 1071.2L183.5 1069.6L184.5 1068.1L185.5 1066.5L186.5 1064.9L187.5 1063.4L188.5 1061.8L189.5 1060.3L190.5 1058.7L191.5 1057.2L192.5 1055.7L193.5 1054.2L194.5 1052.9L195.5 1051.7L196.5 1050.8L197.5 1050.4L198.5 1050.3L199.5 1050.7L200.5 1051.5L201.5 1052.8L202.5 1054.6L203.5 1056.9L204.5 1059.5L205.5 1062.4L206.5 1065.5L207.5 1068.7L208.5 1072.1L209.5 1075.7L210.5 1079.8L211.5 1084.1L212.5 1088.3L213.5 1092.3L214.5 1095.8L215.5 1098.9L216.5 1101.5L217.5 1103.9L218.5 1106.0L219.5 1108.0L220.5 1109.8L221.5 1111.6L222.5 1113.3L223.5 1114.9L224.5 1116.5L225.5 1118.1L226.5 1119.7L227.5 1121.2L228.5 1122.7L229.5 1124.2L230.5 1125.8L231.5 1127.3L232.5 1128.8L233.5 1130.3L234.5 1131.7L235.5 1133.0L236.5 1134.1L237.5 1135.2L238.5 1136.1L239.5 1136.8L240.5 1137.5L241.5 1138.1L242.5 1138.6L243.5 1139.0L244.5 1139.3L245.5 1139.6L246.5 1139.8L247.5 1140.0L248.5 1140.2L249.5 1140.4L250.5 1140.5L251.5 1140.6L252.5 1140.8L253.5 1141.0L254.5 1141.2L255.5 1141.4L256.5 1141.6L257.5 1141.8L258.5 1142.0L259.5 1142.2L260.5 1142.4L261.5 1142.6L262.5 1142.9L263.5 1143.2L264.5 1143.6L265.5 1144.0L266.5 1144.6L267.5 1145.2L268.5 1145.9L269.5 1146.7L270.5 1147.6L271.5 1148.6L272.5 1149.7L273.5 1150.9L274.5 1152.2L275.5 1153.6L276.5 1155.0L277.5 1156.5L278.5 1157.9L279.5 1159.3L280.5 1160.7L281.5 1162.1L282.5 1163.5L283.5 1164.9L284.5 1166.3L285.5 1167.7L286.5 1169.2L287.5 1170.6L288.5 1172.0L289.5 1173.4L290.5 1174.8L291.5 1176.1L292.5 1177.5L293.5 1178.7L294.5 1179.9L295.5 1181.0L296.5 1182.1L297.5 1183.1L298.5 1184.0L299.5 1184.8L300.5 1185.6L301.5 1186.4L302.5 1187.1L303.5 1187.8L304.5 1188.4L305.5 1189.0L306.5 1189.5L307.5 1190.0L308.5 1190.4L309.5 1190.8L310.5 1191.1L311.5 1191.4L312.5 1191.7L313.5 1191.9L314.5 1192.1L315.5 1192.2L316.5 1192.3L317.5 1192.4L318.5 1192.4L319.5 1192.4L320.5 1192.4L321.5 1192.4L322.5 1192.3L323.5 1192.2L324.5 1192.1L325.5 1191.9L326.5 1191.7L327.5 1191.5L328.5 1191.2L329.5 1190.9L330.5 1190.6L331.5 1190.3L332.5 1189.9L333.5 1189.4L334.5 1188.9L335.5 1188.4L336.5 1187.9L337.5 1187.3L338.5 1186.7L339.5 1186.1L340.5 1185.5L341.5 1184.8L342.5 1184.1L343.5 1183.4L344.5 1182.6L345.5 1181.8L346.5 1180.9L347.5 1180.0L348.5 1179.0L349.5 1178.0L350.5 1176.9L351.5 1175.9L352.5 1174.8L353.5 1173.7L354.5 1172.6L355.5 1171.4L356.5 1170.3L357.5 1169.2L358.5 1168.0L359.5 1166.8L360.5 1165.6L361.5 1164.4L362.5 1163.2L363.5 1161.9L364.5 1160.6L365.5 1159.3L366.5 1158.0L367.5 1156.7L368.5 1155.4L369.5 1154.1L370.5 1152.7L371.5 1151.4L372.5 1150.1L373.5 1148.7L374.5 1147.4L375.5 1146.1L376.5 1144.7L377.5 1143.4L378.5 1142.0L379.5 1140.7L380.5 1139.3L381.5 1137.9L382.5 1136.6L383.5 1135.2L384.5 1133.8L385.5 1132.3L386.5 1130.9L387.5 1129.5L388.5 1128.1L389.5 1126.7L390.5 1125.3L391.5 1123.9L392.5 1122.5L393.5 1121.2L394.5 1120.0L395.5 1118.7L396.5 1117.6L397.5 1116.5L398.5 1115.5L399.5 1114.6L400.5 1113.6L401.5 1112.8L402.5 1112.0L403.5 1111.2L404.5 1110.4L405.5 1109.8L406.5 1109.1L407.5 1108.6L408.5 1108.1L409.5 1107.7L410.5 1107.3L411.5 1107.0L412.5 1106.8L413.5 1106.6L414.5 1106.5L415.5 1106.4L416.5 1106.3L417.5 1106.4L418.5 1106.4L419.5 1106.5L420.5 1106.7L421.5 1106.9L422.5 1107.1L423.5 1107.4L424.5 1107.7L425.5 1108.1L426.5 1108.5L427.5 1109.0L428.5 1109.6L429.5 1110.2L430.5 1110.9L431.5 1111.7L432.5 1112.6L433.5 1113.6L434.5 1114.7L435.5 1115.8L436.5 1117.0L437.5 1118.3L438.5 1119.7L439.5 1121.2L440.5 1122.7L441.5 1124.3L442.5 1125.9L443.5 1127.6L444.5 1129.2L445.5 1130.8L446.5 1132.4L447.5 1134.1L448.5 1135.7L449.5 1137.4L450.5 1139.1L451.5 1140.8L452.5 1142.5L453.5 1144.3L454.5 1146.0L455.5 1147.6L456.5 1149.3L457.5 1151.0L458.5 1152.6L459.5 1154.2L460.5 1155.8L461.5 1157.3L462.5 1158.8L463.5 1160.2L464.5 1161.5L465.5 1162.8L466.5 1164.1L467.5 1165.2L468.5 1166.4L469.5 1167.4L470.5 1168.4L471.5 1169.4L472.5 1170.3L473.5 1171.2L474.5 1172.0L475.5 1172.8L476.5 1173.5L477.5 1174.2L478.5 1174.7L479.5 1175.3L480.5 1175.7L481.5 1176.1L482.5 1176.4L483.5 1176.6L484.5 1176.8L485.5 1176.9L486.5 1176.9L487.5 1176.8L488.5 1176.7L489.5 1176.5L490.5 1176.3L491.5 1176.0L492.5 1175.7L493.5 1175.3L494.5 1174.9L495.5 1174.4L496.5 1173.9L497.5 1173.3L498.5 1172.7L499.5 1172.1L500.5 1171.4L501.5 1170.7L502.5 1170.0L503.5 1169.2L504.5 1168.4L505.5 1167.6L506.5 1166.8L507.5 1166.0L508.5 1165.1L509.5 1164.2L510.5 1163.3L511.5 1162.4L512.5 1161.4L513.5 1160.4L514.5 1159.3L515.5 1158.1L516.5 1156.9L517.5 1155.5L518.5 1154.1L519.5 1152.6L520.5 1150.9L521.5 1149.2L522.5 1147.4L523.5 1145.6L524.5 1143.7L525.5 1141.9L526.5 1139.9L527.5 1138.0L528.5 1136.0L529.5 1134.1L530.5 1132.1L531.5 1130.1L532.5 1128.1L533.5 1126.1L534.5 1124.0L535.5 1121.9L536.5 1119.8L537.5 1117.6L538.5 1115.3L539.5 1112.9L540.5 1110.4L541.5 1107.6L542.5 1104.7L543.5 1101.7L544.5 1098.7L545.5 1095.7L546.5 1092.7L547.5 1089.7L548.5 1086.7L549.5 1083.7L550.5 1080.7L551.5 1077.7L552.5 1074.6L553.5 1071.6L554.5 1068.6L555.5 1065.6L556.5 1062.7L557.5 1060.1L558.5 1057.7L559.5 1055.4L560.5 1053.1L561.5 1050.8L562.5 1048.6L563.5 1046.5L564.5 1044.4L565.5 1042.5L566.5 1040.8L567.5 1039.4L568.5 1038.3L569.5 1037.5L570.5 1036.8L571.5 1036.4L572.5 1036.2L573.5 1036.2L574.5 1036.5L575.5 1037.1L576.5 1038.1L577.5 1039.6L578.5 1041.6L579.5 1044.3L580.5 1047.6L581.5 1051.1L582.5 1054.8L583.5 1058.5L584.5 1062.5L585.5 1066.7L586.5 1070.9L587.5 1075.2L588.5 1079.5L589.5 1083.7L590.5 1088.0L591.5 1092.3L592.5 1096.5L593.5 1100.8L594.5 1105.0L595.5 1109.2L596.5 1113.2L597.5 1117.2L598.5 1121.1L599.5 1124.8L600.5 1128.0L601.5 1130.8L602.5 1133.3L603.5 1135.7L604.5 1138.0L605.5 1140.2L606.5 1142.2L607.5 1144.0L608.5 1145.6L609.5 1147.0L610.5 1148.3L611.5 1149.4L612.5 1150.4L613.5 1151.2L614.5 1152.0L615.5 1152.6L616.5 1153.1L617.5 1153.6L618.5 1154.1L619.5 1154.5L620.5 1154.8L621.5 1155.0L622.5 1155.2L623.5 1155.2L624.5 1155.1L625.5 1155.0L626.5 1154.7L627.5 1154.3L628.5 1153.8L629.5 1153.2L630.5 1152.6L631.5 1151.9L632.5 1151.1L633.5 1150.2L634.5 1149.3L635.5 1148.4L636.5 1147.3L637.5 1146.2L638.5 1144.8L639.5 1143.3L640.5 1141.4L641.5 1139.3L642.5 1137.2L643.5 1135.0L644.5 1132.8L645.5 1130.6L646.5 1128.4L647.5 1126.2L648.5 1124.0L649.5 1121.7L650.5 1119.4L651.5 1117.2L652.5 1114.9L653.5 1112.7L654.5 1110.4L655.5 1108.1L656.5 1105.9L657.5 1103.6L658.5 1101.4L659.5 1099.2L660.5 1096.9L661.5 1094.7L662.5 1092.4L663.5 1090.2L664.5 1088.0L665.5 1085.7L666.5 1083.5L667.5 1081.2L668.5 1079.0L669.5 1076.8L670.5 1074.5L671.5 1072.3L672.5 1070.1L673.5 1067.8L674.5 1065.6L675.5 1063.3L676.5 1061.1L677.5 1058.8L678.5 1056.3L679.5 1053.7L680.5 1050.8L681.5 1047.7L682.5 1044.4L683.5 1040.9L684.5 1037.3L685.5 1033.5L686.5 1029.6L687.5 1025.4L688.5 1020.8L689.5 1015.9L690.5 1011.0L691.5 1006.0L692.5 1001.0L693.5 996.0L694.5 991.0L695.5 985.9L696.5 980.8L697.5 975.7L698.5 970.6L699.5 965.6L700.5 960.9L701.5 956.1L702.5 951.0L703.5 944.6L704.5 936.6L705.5 929.5L706.5 922.7L707.5 915.9L708.5 909.2L709.5 902.5L710.5 896.0L711.5 889.6L712.5 883.5L713.5 878.1L714.5 873.0L715.5 868.3L716.5 863.6L717.5 859.1L718.5 854.7L719.5 850.6L720.5 847.0L721.5 843.8L722.5 840.8L723.5 837.9L724.5 835.1L725.5 832.8L726.5 830.9L727.5 829.5L728.5 828.5L729.5 827.9L730.5 827.6L731.5 827.6L732.5 828.0L733.5 828.8L734.5 830.1L735.5 832.0L736.5 834.6L737.5 838.5L738.5 843.8L739.5 849.3L740.5 854.7L741.5 860.2L742.5 866.1L743.5 872.7L744.5 879.8L745.5 886.9L746.5 894.0L747.5 901.0L748.5 908.1L749.5 915.1L750.5 922.1L751.5 929.1L752.5 936.0L753.5 943.0L754.5 949.9L755.5 956.7L756.5 963.1L757.5 969.1L758.5 975.0L759.5 981.1L760.5 987.4L761.5 994.3L762.5 1002.1L763.5 1010.5L764.5 1018.7L765.5 1026.1L766.5 1033.3L767.5 1040.2L768.5 1046.9L769.5 1053.5L770.5 1059.9L771.5 1066.2L772.5 1072.4L773.5 1078.5L774.5 1084.5L775.5 1090.4L776.5 1095.8L777.5 1100.8L778.5 1105.5L779.5 1110.0L780.5 1114.3L781.5 1118.5L782.5 1122.6L783.5 1126.6L784.5 1130.5L785.5 1134.3L786.5 1137.9L787.5 1141.2L788.5 1144.3L789.5 1147.3L790.5 1150.2L791.5 1153.0L792.5 1155.8L793.5 1158.5L794.5 1161.2L795.5 1163.8L796.5 1166.3L797.5 1168.7L798.5 1171.0L799.5 1173.2L800.5 1175.2L801.5 1177.2L802.5 1179.1L803.5 1180.9L804.5 1182.6L805.5 1184.3L806.5 1185.9L807.5 1187.4L808.5 1188.9L809.5 1190.2L810.5 1191.5L811.5 1192.6L812.5 1193.7L813.5 1194.8L814.5 1195.8L815.5 1196.7L816.5 1197.6L817.5 1198.5L818.5 1199.3L819.5 1200.1L820.5 1200.9L821.5 1201.7L822.5 1202.5L823.5 1203.2L824.5 1203.9L825.5 1204.7L826.5 1205.3L827.5 1206.0L828.5 1206.7L829.5 1207.3L830.5 1207.9L831.5 1208.5L832.5 1209.0L833.5 1209.6L834.5 1210.1L835.5 1210.6L836.5 1211.0L837.5 1211.5L838.5 1211.9L839.5 1212.3L840.5 1212.7L841.5 1213.0L842.5 1213.4L843.5 1213.7L844.5 1214.1L845.5 1214.4L846.5 1214.7L847.5 1215.0L848.5 1215.3L849.5 1215.6L850.5 1215.9L851.5 1216.2L852.5 1216.4L853.5 1216.7L854.5 1216.9L855.5 1217.1L856.5 1217.3L857.5 1217.6L858.5 1217.7L859.5 1217.9L860.5 1218.1L861.5 1218.2L862.5 1218.4L863.5 1218.5L864.5 1218.6L865.5 1218.7L866.5 1218.8L867.5 1218.9L868.5 1218.9L869.5 1219.0L870.5 1219.1L871.5 1219.2L872.5 1219.2L873.5 1219.3L874.5 1219.4L875.5 1219.5L876.5 1219.5L877.5 1219.6L878.5 1219.7L879.5 1219.7L880.5 1219.8L881.5 1219.9L882.5 1219.9L883.5 1220.0L884.5 1220.1L885.5 1220.1L886.5 1220.2L887.5 1220.3L888.5 1220.3L889.5 1220.4L890.5 1220.4L891.5 1220.5L892.5 1220.5L893.5 1220.6L894.5 1220.7L895.5 1220.7L896.5 1220.8L897.5 1220.8L898.5 1220.8L899.5 1220.9L900.5 1220.9L901.5 1221.0L902.5 1221.0L903.5 1221.1L904.5 1221.1L905.5 1221.1L906.5 1221.2L907.5 1221.2L908.5 1221.3L909.5 1221.3L910.5 1221.3L911.5 1221.4L912.5 1221.4L913.5 1221.5L914.5 1221.5L915.5 1221.5L916.5 1221.6L917.5 1221.6L918.5 1221.7L919.5 1221.7L920.5 1221.8L921.5 1221.8L922.5 1221.8L923.5 1221.9L924.5 1221.9L925.5 1221.9L926.5 1222.0L927.5 1222.0L928.5 1222.1L929.5 1222.1L930.5 1222.1L931.5 1222.2L932.5 1222.2L933.5 1222.2L934.5 1222.3L935.5 1222.3L936.5 1222.4L937.5 1222.4L938.5 1222.4L939.5 1222.5L940.5 1222.5L941.5 1222.5L942.5 1222.5L943.5 1222.6L944.5 1222.6L945.5 1222.6L946.5 1222.7L947.5 1222.7L948.5 1222.7L949.5 1222.8L950.5 1222.8L951.5 1222.8L952.5 1222.9L953.5 1222.9L954.5 1222.9L955.5 1222.9L956.5 1223.0L957.5 1223.0L958.5 1223.0L959.5 1223.1L960.5 1223.1L961.5 1223.1L962.5 1223.2L963.5 1223.2L964.5 1223.2L965.5 1223.2L966.5 1223.3L967.5 1223.3L968.5 1223.3L969.5 1223.3L970.5 1223.4L971.5 1223.4L972.5 1223.4L973.5 1223.5L974.5 1223.5L975.5 1223.5L976.5 1223.5L977.5 1223.6L978.5 1223.6L979.5 1223.6" stroke="#0a3cdc" stroke-width="3.4"/>
<path d="M139.5 1037.6L140.5 1037.6L141.5 1037.8L142.5 1038.1L143.5 1038.5L144.5 1039.1L145.5 1039.9L146.5 1041.2L147.5 1043.0L148.5 1045.1L149.5 1047.5L150.5 1049.9L151.5 1052.4L152.5 1054.8L153.5 1057.0L154.5 1059.0L155.5 1061.0L156.5 1063.1L157.5 1065.3L158.5 1067.7L159.5 1070.2L160.5 1072.6L161.5 1075.0L162.5 1077.3L163.5 1079.3L164.5 1081.0L165.5 1082.4L166.5 1083.4L167.5 1084.0L168.5 1084.2L169.5 1084.1L170.5 1083.7L171.5 1083.0L172.5 1082.0L173.5 1080.8L174.5 1079.5L175.5 1078.1L176.5 1076.6L177.5 1075.0L178.5 1073.4L179.5 1071.9L180.5 1070.4L181.5 1068.9L182.5 1067.5L183.5 1066.2L184.5 1064.9L185.5 1063.5L186.5 1062.3L187.5 1061.0L188.5 1059.8L189.5 1058.6L190.5 1057.4L191.5 1056.3L192.5 1055.1L193.5 1054.1L194.5 1053.1L195.5 1052.4L196.5 1051.9L197.5 1051.8L198.5 1052.1L199.5 1052.8L200.5 1053.9L201.5 1055.3L202.5 1056.8L203.5 1058.5L204.5 1060.5L205.5 1063.2L206.5 1066.8L207.5 1070.7L208.5 1074.1L209.5 1077.3L210.5 1080.6L211.5 1083.9L212.5 1087.2L213.5 1090.4L214.5 1093.5L215.5 1096.4L216.5 1099.1L217.5 1101.6L218.5 1104.0L219.5 1106.3L220.5 1108.5L221.5 1110.6L222.5 1112.7L223.5 1114.7L224.5 1116.7L225.5 1118.7L226.5 1120.7L227.5 1122.6L228.5 1124.6L229.5 1126.5L230.5 1128.5L231.5 1130.5L232.5 1132.6L233.5 1134.6L234.5 1136.5L235.5 1138.2L236.5 1139.7L237.5 1141.1L238.5 1142.3L239.5 1143.4L240.5 1144.3L241.5 1145.2L242.5 1145.9L243.5 1146.6L244.5 1147.2L245.5 1147.9L246.5 1148.5L247.5 1149.1L248.5 1149.7L249.5 1150.4L250.5 1151.0L251.5 1151.6L252.5 1152.2L253.5 1152.8L254.5 1153.4L255.5 1154.1L256.5 1154.7L257.5 1155.3L258.5 1155.9L259.5 1156.5L260.5 1157.1L261.5 1157.7L262.5 1158.4L263.5 1159.0L264.5 1159.7L265.5 1160.5L266.5 1161.3L267.5 1162.2L268.5 1163.1L269.5 1164.2L270.5 1165.4L271.5 1166.7L272.5 1168.0L273.5 1169.4L274.5 1170.9L275.5 1172.4L276.5 1173.9L277.5 1175.4L278.5 1176.7L279.5 1178.1L280.5 1179.3L281.5 1180.6L282.5 1181.8L283.5 1183.0L284.5 1184.3L285.5 1185.5L286.5 1186.7L287.5 1187.9L288.5 1189.1L289.5 1190.3L290.5 1191.4L291.5 1192.6L292.5 1193.6L293.5 1194.6L294.5 1195.5L295.5 1196.3L296.5 1196.9L297.5 1197.6L298.5 1198.1L299.5 1198.6L300.5 1199.1L301.5 1199.5L302.5 1200.0L303.5 1200.4L304.5 1200.8L305.5 1201.2L306.5 1201.6L307.5 1201.9L308.5 1202.3L309.5 1202.6L310.5 1202.9L311.5 1203.2L312.5 1203.5L313.5 1203.7L314.5 1203.9L315.5 1204.1L316.5 1204.3L317.5 1204.5L318.5 1204.6L319.5 1204.7L320.5 1204.8L321.5 1204.9L322.5 1204.9L323.5 1205.0L324.5 1205.0L325.5 1205.0L326.5 1204.9L327.5 1204.9L328.5 1204.8L329.5 1204.7L330.5 1204.5L331.5 1204.4L332.5 1204.2L333.5 1204.0L334.5 1203.8L335.5 1203.5L336.5 1203.2L337.5 1202.9L338.5 1202.6L339.5 1202.2L340.5 1201.8L341.5 1201.4L342.5 1201.0L343.5 1200.5L344.5 1200.0L345.5 1199.5L346.5 1199.0L347.5 1198.4L348.5 1197.9L349.5 1197.3L350.5 1196.7L351.5 1196.1L352.5 1195.4L353.5 1194.8L354.5 1194.1L355.5 1193.4L356.5 1192.7L357.5 1191.9L358.5 1191.2L359.5 1190.4L360.5 1189.6L361.5 1188.8L362.5 1187.9L363.5 1187.1L364.5 1186.3L365.5 1185.5L366.5 1184.6L367.5 1183.8L368.5 1182.9L369.5 1182.1L370.5 1181.2L371.5 1180.4L372.5 1179.5L373.5 1178.7L374.5 1177.8L375.5 1176.9L376.5 1176.1L377.5 1175.2L378.5 1174.3L379.5 1173.4L380.5 1172.5L381.5 1171.6L382.5 1170.7L383.5 1169.7L384.5 1168.8L385.5 1167.8L386.5 1166.8L387.5 1165.8L388.5 1164.8L389.5 1163.9L390.5 1162.9L391.5 1161.9L392.5 1161.0L393.5 1160.1L394.5 1159.2L395.5 1158.4L396.5 1157.7L397.5 1157.0L398.5 1156.3L399.5 1155.7L400.5 1155.2L401.5 1154.7L402.5 1154.2L403.5 1153.8L404.5 1153.4L405.5 1153.0L406.5 1152.6L407.5 1152.2L408.5 1151.8L409.5 1151.5L410.5 1151.1L411.5 1150.8L412.5 1150.5L413.5 1150.3L414.5 1150.0L415.5 1149.8L416.5 1149.7L417.5 1149.6L418.5 1149.5L419.5 1149.5L420.5 1149.5L421.5 1149.5L422.5 1149.6L423.5 1149.7L424.5 1149.9L425.5 1150.1L426.5 1150.3L427.5 1150.6L428.5 1150.9L429.5 1151.3L430.5 1151.7L431.5 1152.1L432.5 1152.6L433.5 1153.2L434.5 1153.9L435.5 1154.6L436.5 1155.4L437.5 1156.4L438.5 1157.4L439.5 1158.4L440.5 1159.6L441.5 1160.8L442.5 1162.0L443.5 1163.3L444.5 1164.6L445.5 1166.0L446.5 1167.3L447.5 1168.7L448.5 1170.0L449.5 1171.3L450.5 1172.6L451.5 1173.8L452.5 1175.0L453.5 1176.1L454.5 1177.3L455.5 1178.4L456.5 1179.6L457.5 1180.7L458.5 1181.8L459.5 1182.9L460.5 1184.0L461.5 1185.1L462.5 1186.2L463.5 1187.2L464.5 1188.2L465.5 1189.3L466.5 1190.2L467.5 1191.2L468.5 1192.1L469.5 1192.9L470.5 1193.7L471.5 1194.4L472.5 1195.1L473.5 1195.7L474.5 1196.3L475.5 1196.8L476.5 1197.3L477.5 1197.8L478.5 1198.3L479.5 1198.7L480.5 1199.2L481.5 1199.6L482.5 1199.9L483.5 1200.3L484.5 1200.6L485.5 1200.9L486.5 1201.2L487.5 1201.4L488.5 1201.6L489.5 1201.7L490.5 1201.8L491.5 1201.9L492.5 1202.0L493.5 1202.0L494.5 1202.0L495.5 1201.9L496.5 1201.8L497.5 1201.7L498.5 1201.6L499.5 1201.5L500.5 1201.3L501.5 1201.1L502.5 1200.9L503.5 1200.7L504.5 1200.4L505.5 1200.2L506.5 1199.9L507.5 1199.5L508.5 1199.2L509.5 1198.8L510.5 1198.4L511.5 1198.0L512.5 1197.5L513.5 1197.0L514.5 1196.5L515.5 1195.9L516.5 1195.4L517.5 1194.8L518.5 1194.2L519.5 1193.5L520.5 1192.9L521.5 1192.2L522.5 1191.6L523.5 1190.9L524.5 1190.2L525.5 1189.4L526.5 1188.7L527.5 1187.9L528.5 1187.1L529.5 1186.3L530.5 1185.4L531.5 1184.5L532.5 1183.6L533.5 1182.7L534.5 1181.7L535.5 1180.7L536.5 1179.7L537.5 1178.7L538.5 1177.6L539.5 1176.6L540.5 1175.5L541.5 1174.4L542.5 1173.3L543.5 1172.2L544.5 1171.1L545.5 1170.0L546.5 1168.9L547.5 1167.8L548.5 1166.7L549.5 1165.7L550.5 1164.6L551.5 1163.5L552.5 1162.5L553.5 1161.5L554.5 1160.5L555.5 1159.5L556.5 1158.6L557.5 1157.7L558.5 1156.7L559.5 1155.8L560.5 1155.0L561.5 1154.1L562.5 1153.3L563.5 1152.5L564.5 1151.7L565.5 1151.0L566.5 1150.4L567.5 1149.9L568.5 1149.5L569.5 1149.2L570.5 1149.0L571.5 1148.8L572.5 1148.8L573.5 1148.8L574.5 1149.0L575.5 1149.2L576.5 1149.5L577.5 1150.0L578.5 1150.4L579.5 1151.0L580.5 1151.6L581.5 1152.3L582.5 1153.0L583.5 1153.8L584.5 1154.7L585.5 1155.6L586.5 1156.6L587.5 1157.7L588.5 1158.9L589.5 1160.2L590.5 1161.6L591.5 1163.0L592.5 1164.3L593.5 1165.7L594.5 1166.9L595.5 1168.0L596.5 1169.0L597.5 1169.9L598.5 1170.7L599.5 1171.5L600.5 1172.2L601.5 1172.8L602.5 1173.4L603.5 1174.0L604.5 1174.5L605.5 1175.0L606.5 1175.4L607.5 1175.7L608.5 1176.0L609.5 1176.2L610.5 1176.4L611.5 1176.5L612.5 1176.5L613.5 1176.4L614.5 1176.3L615.5 1176.0L616.5 1175.7L617.5 1175.3L618.5 1174.8L619.5 1174.2L620.5 1173.5L621.5 1172.8L622.5 1171.9L623.5 1171.0L624.5 1170.1L625.5 1169.0L626.5 1167.9L627.5 1166.7L628.5 1165.4L629.5 1164.0L630.5 1162.5L631.5 1161.0L632.5 1159.4L633.5 1157.8L634.5 1156.2L635.5 1154.6L636.5 1152.9L637.5 1151.2L638.5 1149.5L639.5 1147.7L640.5 1145.8L641.5 1143.8L642.5 1141.7L643.5 1139.6L644.5 1137.5L645.5 1135.4L646.5 1133.3L647.5 1131.2L648.5 1129.1L649.5 1126.9L650.5 1124.8L651.5 1122.7L652.5 1120.6L653.5 1118.5L654.5 1116.5L655.5 1114.4L656.5 1112.3L657.5 1110.2L658.5 1108.1L659.5 1106.0L660.5 1103.9L661.5 1101.8L662.5 1099.7L663.5 1097.7L664.5 1095.6L665.5 1093.5L666.5 1091.4L667.5 1089.2L668.5 1087.1L669.5 1085.0L670.5 1082.8L671.5 1080.7L672.5 1078.5L673.5 1076.4L674.5 1074.2L675.5 1071.9L676.5 1069.6L677.5 1067.2L678.5 1064.8L679.5 1062.2L680.5 1059.6L681.5 1056.9L682.5 1054.1L683.5 1051.2L684.5 1048.2L685.5 1044.9L686.5 1041.4L687.5 1037.4L688.5 1033.1L689.5 1028.7L690.5 1024.2L691.5 1019.6L692.5 1014.8L693.5 1009.9L694.5 1004.9L695.5 999.9L696.5 995.0L697.5 990.0L698.5 985.0L699.5 980.0L700.5 975.1L701.5 970.1L702.5 965.1L703.5 960.2L704.5 955.5L705.5 950.5L706.5 945.0L707.5 939.3L708.5 933.5L709.5 927.8L710.5 922.0L711.5 916.2L712.5 910.4L713.5 904.6L714.5 898.8L715.5 893.3L716.5 888.5L717.5 884.3L718.5 880.5L719.5 876.8L720.5 873.2L721.5 869.8L722.5 867.0L723.5 864.9L724.5 863.2L725.5 862.0L726.5 861.3L727.5 861.0L728.5 861.2L729.5 861.8L730.5 862.8L731.5 864.5L732.5 867.0L733.5 870.2L734.5 874.1L735.5 878.9L736.5 884.5L737.5 890.5L738.5 896.6L739.5 902.6L740.5 908.6L741.5 914.6L742.5 920.6L743.5 926.6L744.5 932.5L745.5 938.5L746.5 944.4L747.5 950.4L748.5 956.5L749.5 962.8L750.5 969.4L751.5 976.3L752.5 983.5L753.5 991.0L754.5 998.8L755.5 1006.7L756.5 1014.7L757.5 1022.6L758.5 1030.6L759.5 1038.3L760.5 1045.8L761.5 1053.0L762.5 1060.0L763.5 1066.6L764.5 1072.9L765.5 1078.9L766.5 1084.8L767.5 1090.5L768.5 1096.1L769.5 1101.5L770.5 1106.9L771.5 1112.2L772.5 1117.5L773.5 1122.5L774.5 1127.1L775.5 1131.4L776.5 1135.6L777.5 1139.5L778.5 1143.3L779.5 1147.0L780.5 1150.5L781.5 1154.0L782.5 1157.5L783.5 1160.6L784.5 1163.6L785.5 1166.3L786.5 1168.8L787.5 1171.3L788.5 1173.6L789.5 1175.9L790.5 1178.1L791.5 1180.3L792.5 1182.5L793.5 1184.6L794.5 1186.6L795.5 1188.4L796.5 1190.2L797.5 1191.9L798.5 1193.6L799.5 1195.1L800.5 1196.6L801.5 1198.0L802.5 1199.3L803.5 1200.6L804.5 1201.8L805.5 1203.0L806.5 1204.1L807.5 1205.2L808.5 1206.1L809.5 1207.0L810.5 1207.9L811.5 1208.7L812.5 1209.4L813.5 1210.1L814.5 1210.8L815.5 1211.4L816.5 1211.9L817.5 1212.5L818.5 1213.0L819.5 1213.5L820.5 1213.9L821.5 1214.4L822.5 1214.8L823.5 1215.2L824.5 1215.6L825.5 1216.0L826.5 1216.3L827.5 1216.7L828.5 1217.0L829.5 1217.3L830.5 1217.6L831.5 1217.9L832.5 1218.2L833.5 1218.5L834.5 1218.8L835.5 1219.0L836.5 1219.2L837.5 1219.5L838.5 1219.7L839.5 1219.9L840.5 1220.1L841.5 1220.3L842.5 1220.5L843.5 1220.7L844.5 1220.8L845.5 1221.0L846.5 1221.2L847.5 1221.4L848.5 1221.6L849.5 1221.7L850.5 1221.9L851.5 1222.1L852.5 1222.2L853.5 1222.4L854.5 1222.5L855.5 1222.7L856.5 1222.8L857.5 1222.9L858.5 1223.1L859.5 1223.2L860.5 1223.3L861.5 1223.4L862.5 1223.5L863.5 1223.6L864.5 1223.6L865.5 1223.7L866.5 1223.8L867.5 1223.8L868.5 1223.9L869.5 1223.9L870.5 1224.0L871.5 1224.0L872.5 1224.1L873.5 1224.1L874.5 1224.2L875.5 1224.2L876.5 1224.2L877.5 1224.3L878.5 1224.3L879.5 1224.4L880.5 1224.4L881.5 1224.5L882.5 1224.5L883.5 1224.5L884.5 1224.6L885.5 1224.6L886.5 1224.6L887.5 1224.7L888.5 1224.7L889.5 1224.7L890.5 1224.8L891.5 1224.8L892.5 1224.8L893.5 1224.8L894.5 1224.9L895.5 1224.9L896.5 1224.9L897.5 1224.9L898.5 1224.9L899.5 1225.0L900.5 1225.0L901.5 1225.0L902.5 1225.0L903.5 1225.0L904.5 1225.0L905.5 1225.0L906.5 1225.1L907.5 1225.1L908.5 1225.1L909.5 1225.1L910.5 1225.1L911.5 1225.1L912.5 1225.1L913.5 1225.1L914.5 1225.2L915.5 1225.2L916.5 1225.2L917.5 1225.2L918.5 1225.2L919.5 1225.2L920.5 1225.2L921.5 1225.2L922.5 1225.3L923.5 1225.3L924.5 1225.3L925.5 1225.3L926.5 1225.3L927.5 1225.3L928.5 1225.3L929.5 1225.3L930.5 1225.3L931.5 1225.4L932.5 1225.4L933.5 1225.4L934.5 1225.4L935.5 1225.4L936.5 1225.4L937.5 1225.4L938.5 1225.4L939.5 1225.4L940.5 1225.4L941.5 1225.4L942.5 1225.5L943.5 1225.5L944.5 1225.5L945.5 1225.5L946.5 1225.5L947.5 1225.5L948.5 1225.5L949.5 1225.5L950.5 1225.5L951.5 1225.5L952.5 1225.5L953.5 1225.5L954.5 1225.5L955.5 1225.5L956.5 1225.5L957.5 1225.5L958.5 1225.5L959.5 1225.5L960.5 1225.5L961.5 1225.6L962.5 1225.6L963.5 1225.6L964.5 1225.6L965.5 1225.6L966.5 1225.6L967.5 1225.6L968.5 1225.6L969.5 1225.5L970.5 1225.5L971.5 1225.5L972.5 1225.5L973.5 1225.5L974.5 1225.5L975.5 1225.5L976.5 1225.5L977.5 1225.5L978.5 1225.5L979.5 1225.5" stroke="#0c8c18" stroke-width="3.4"/>
<path d="M139.5 1016.4L140.5 1016.5L141.5 1017.1L142.5 1017.7L143.5 1018.3L144.5 1019.1L145.5 1020.1L146.5 1021.3L147.5 1022.8L148.5 1024.9L149.5 1027.4L150.5 1030.3L151.5 1033.6L152.5 1037.2L153.5 1040.9L154.5 1044.3L155.5 1047.4L156.5 1050.1L157.5 1052.5L158.5 1055.0L159.5 1057.8L160.5 1060.8L161.5 1063.9L162.5 1066.9L163.5 1069.7L164.5 1072.1L165.5 1074.0L166.5 1075.5L167.5 1076.4L168.5 1077.0L169.5 1077.2L170.5 1077.1L171.5 1076.8L172.5 1076.2L173.5 1075.4L174.5 1074.5L175.5 1073.4L176.5 1072.3L177.5 1071.1L178.5 1069.9L179.5 1068.6L180.5 1067.4L181.5 1066.2L182.5 1065.0L183.5 1063.8L184.5 1062.6L185.5 1061.5L186.5 1060.3L187.5 1059.2L188.5 1058.1L189.5 1057.0L190.5 1056.0L191.5 1055.0L192.5 1054.2L193.5 1053.5L194.5 1052.9L195.5 1052.7L196.5 1052.7L197.5 1053.1L198.5 1053.8L199.5 1054.7L200.5 1055.9L201.5 1057.3L202.5 1058.8L203.5 1060.6L204.5 1062.8L205.5 1065.5L206.5 1068.7L207.5 1072.0L208.5 1075.0L209.5 1078.1L210.5 1081.3L211.5 1084.5L212.5 1087.6L213.5 1090.6L214.5 1093.6L215.5 1096.3L216.5 1099.0L217.5 1101.6L218.5 1104.2L219.5 1106.6L220.5 1109.0L221.5 1111.4L222.5 1113.7L223.5 1116.0L224.5 1118.2L225.5 1120.4L226.5 1122.6L227.5 1124.7L228.5 1126.9L229.5 1129.0L230.5 1131.0L231.5 1133.1L232.5 1135.1L233.5 1137.0L234.5 1138.8L235.5 1140.6L236.5 1142.2L237.5 1143.8L238.5 1145.2L239.5 1146.5L240.5 1147.7L241.5 1148.9L242.5 1150.0L243.5 1151.0L244.5 1152.0L245.5 1153.0L246.5 1154.0L247.5 1155.0L248.5 1156.0L249.5 1157.0L250.5 1158.0L251.5 1159.0L252.5 1160.0L253.5 1161.0L254.5 1162.0L255.5 1163.0L256.5 1164.0L257.5 1165.0L258.5 1166.0L259.5 1167.0L260.5 1168.0L261.5 1169.0L262.5 1170.0L263.5 1171.0L264.5 1172.0L265.5 1173.0L266.5 1174.0L267.5 1175.0L268.5 1176.1L269.5 1177.2L270.5 1178.3L271.5 1179.4L272.5 1180.7L273.5 1181.9L274.5 1183.1L275.5 1184.4L276.5 1185.7L277.5 1186.9L278.5 1188.2L279.5 1189.4L280.5 1190.6L281.5 1191.8L282.5 1192.9L283.5 1194.1L284.5 1195.2L285.5 1196.4L286.5 1197.5L287.5 1198.6L288.5 1199.7L289.5 1200.7L290.5 1201.7L291.5 1202.7L292.5 1203.6L293.5 1204.5L294.5 1205.2L295.5 1205.9L296.5 1206.4L297.5 1206.9L298.5 1207.4L299.5 1207.8L300.5 1208.2L301.5 1208.5L302.5 1208.8L303.5 1209.1L304.5 1209.3L305.5 1209.6L306.5 1209.8L307.5 1210.1L308.5 1210.3L309.5 1210.5L310.5 1210.7L311.5 1210.9L312.5 1211.0L313.5 1211.2L314.5 1211.3L315.5 1211.5L316.5 1211.6L317.5 1211.7L318.5 1211.8L319.5 1211.8L320.5 1211.9L321.5 1211.9L322.5 1212.0L323.5 1212.0L324.5 1212.0L325.5 1212.0L326.5 1211.9L327.5 1211.9L328.5 1211.9L329.5 1211.8L330.5 1211.8L331.5 1211.7L332.5 1211.6L333.5 1211.5L334.5 1211.4L335.5 1211.3L336.5 1211.2L337.5 1211.1L338.5 1210.9L339.5 1210.7L340.5 1210.5L341.5 1210.3L342.5 1210.1L343.5 1209.9L344.5 1209.6L345.5 1209.3L346.5 1209.0L347.5 1208.7L348.5 1208.4L349.5 1208.1L350.5 1207.8L351.5 1207.5L352.5 1207.1L353.5 1206.8L354.5 1206.5L355.5 1206.1L356.5 1205.7L357.5 1205.4L358.5 1205.0L359.5 1204.6L360.5 1204.3L361.5 1203.9L362.5 1203.5L363.5 1203.1L364.5 1202.7L365.5 1202.3L366.5 1201.9L367.5 1201.5L368.5 1201.1L369.5 1200.7L370.5 1200.3L371.5 1199.9L372.5 1199.5L373.5 1199.1L374.5 1198.6L375.5 1198.2L376.5 1197.7L377.5 1197.2L378.5 1196.7L379.5 1196.2L380.5 1195.7L381.5 1195.2L382.5 1194.6L383.5 1194.1L384.5 1193.5L385.5 1192.9L386.5 1192.4L387.5 1191.8L388.5 1191.2L389.5 1190.7L390.5 1190.1L391.5 1189.5L392.5 1188.9L393.5 1188.4L394.5 1187.8L395.5 1187.2L396.5 1186.6L397.5 1186.1L398.5 1185.5L399.5 1184.9L400.5 1184.3L401.5 1183.7L402.5 1183.1L403.5 1182.5L404.5 1181.9L405.5 1181.3L406.5 1180.8L407.5 1180.2L408.5 1179.6L409.5 1179.1L410.5 1178.6L411.5 1178.1L412.5 1177.7L413.5 1177.4L414.5 1177.1L415.5 1176.8L416.5 1176.6L417.5 1176.5L418.5 1176.3L419.5 1176.3L420.5 1176.2L421.5 1176.2L422.5 1176.2L423.5 1176.2L424.5 1176.3L425.5 1176.3L426.5 1176.4L427.5 1176.6L428.5 1176.7L429.5 1176.9L430.5 1177.1L431.5 1177.3L432.5 1177.6L433.5 1177.9L434.5 1178.3L435.5 1178.7L436.5 1179.2L437.5 1179.7L438.5 1180.3L439.5 1181.0L440.5 1181.7L441.5 1182.5L442.5 1183.3L443.5 1184.2L444.5 1185.0L445.5 1185.8L446.5 1186.7L447.5 1187.5L448.5 1188.3L449.5 1189.2L450.5 1190.0L451.5 1190.8L452.5 1191.7L453.5 1192.5L454.5 1193.3L455.5 1194.2L456.5 1195.0L457.5 1195.8L458.5 1196.7L459.5 1197.5L460.5 1198.3L461.5 1199.2L462.5 1200.0L463.5 1200.8L464.5 1201.7L465.5 1202.5L466.5 1203.3L467.5 1204.2L468.5 1205.0L469.5 1205.8L470.5 1206.6L471.5 1207.3L472.5 1208.0L473.5 1208.6L474.5 1209.1L475.5 1209.6L476.5 1210.1L477.5 1210.5L478.5 1211.0L479.5 1211.3L480.5 1211.7L481.5 1212.0L482.5 1212.3L483.5 1212.6L484.5 1212.9L485.5 1213.2L486.5 1213.5L487.5 1213.7L488.5 1214.0L489.5 1214.2L490.5 1214.5L491.5 1214.7L492.5 1214.9L493.5 1215.2L494.5 1215.4L495.5 1215.6L496.5 1215.8L497.5 1215.9L498.5 1216.1L499.5 1216.3L500.5 1216.4L501.5 1216.6L502.5 1216.7L503.5 1216.8L504.5 1216.9L505.5 1217.0L506.5 1217.1L507.5 1217.2L508.5 1217.3L509.5 1217.4L510.5 1217.5L511.5 1217.6L512.5 1217.6L513.5 1217.7L514.5 1217.8L515.5 1217.8L516.5 1217.9L517.5 1217.9L518.5 1217.9L519.5 1218.0L520.5 1218.0L521.5 1218.0L522.5 1218.0L523.5 1218.0L524.5 1218.0L525.5 1218.0L526.5 1217.9L527.5 1217.9L528.5 1217.9L529.5 1217.8L530.5 1217.8L531.5 1217.7L532.5 1217.7L533.5 1217.6L534.5 1217.6L535.5 1217.5L536.5 1217.4L537.5 1217.4L538.5 1217.3L539.5 1217.2L540.5 1217.1L541.5 1217.1L542.5 1217.0L543.5 1216.9L544.5 1216.8L545.5 1216.7L546.5 1216.6L547.5 1216.5L548.5 1216.4L549.5 1216.3L550.5 1216.2L551.5 1216.1L552.5 1216.0L553.5 1215.9L554.5 1215.7L555.5 1215.6L556.5 1215.5L557.5 1215.3L558.5 1215.2L559.5 1215.1L560.5 1214.9L561.5 1214.8L562.5 1214.6L563.5 1214.5L564.5 1214.3L565.5 1214.2L566.5 1214.0L567.5 1213.8L568.5 1213.7L569.5 1213.5L570.5 1213.3L571.5 1213.1L572.5 1213.0L573.5 1212.8L574.5 1212.6L575.5 1212.4L576.5 1212.2L577.5 1211.9L578.5 1211.7L579.5 1211.5L580.5 1211.2L581.5 1210.9L582.5 1210.7L583.5 1210.4L584.5 1210.1L585.5 1209.7L586.5 1209.4L587.5 1209.1L588.5 1208.7L589.5 1208.4L590.5 1208.0L591.5 1207.6L592.5 1207.2L593.5 1206.8L594.5 1206.4L595.5 1206.0L596.5 1205.6L597.5 1205.2L598.5 1204.7L599.5 1204.2L600.5 1203.7L601.5 1203.2L602.5 1202.7L603.5 1202.1L604.5 1201.5L605.5 1200.9L606.5 1200.2L607.5 1199.5L608.5 1198.7L609.5 1197.9L610.5 1197.0L611.5 1196.1L612.5 1195.2L613.5 1194.2L614.5 1193.3L615.5 1192.3L616.5 1191.3L617.5 1190.3L618.5 1189.2L619.5 1188.2L620.5 1187.1L621.5 1186.1L622.5 1185.0L623.5 1183.9L624.5 1182.9L625.5 1181.8L626.5 1180.7L627.5 1179.6L628.5 1178.6L629.5 1177.5L630.5 1176.4L631.5 1175.2L632.5 1174.1L633.5 1172.9L634.5 1171.7L635.5 1170.5L636.5 1169.2L637.5 1167.9L638.5 1166.5L639.5 1165.1L640.5 1163.7L641.5 1162.3L642.5 1160.8L643.5 1159.2L644.5 1157.7L645.5 1156.1L646.5 1154.5L647.5 1152.8L648.5 1151.2L649.5 1149.5L650.5 1147.8L651.5 1146.1L652.5 1144.4L653.5 1142.6L654.5 1140.9L655.5 1139.2L656.5 1137.5L657.5 1135.8L658.5 1134.1L659.5 1132.5L660.5 1130.9L661.5 1129.3L662.5 1127.7L663.5 1126.2L664.5 1124.7L665.5 1123.1L666.5 1121.6L667.5 1120.0L668.5 1118.5L669.5 1116.9L670.5 1115.2L671.5 1113.6L672.5 1111.9L673.5 1110.1L674.5 1108.2L675.5 1106.3L676.5 1104.3L677.5 1102.1L678.5 1099.8L679.5 1097.3L680.5 1094.7L681.5 1091.9L682.5 1088.9L683.5 1085.8L684.5 1082.7L685.5 1079.4L686.5 1076.1L687.5 1072.6L688.5 1068.8L689.5 1064.7L690.5 1060.6L691.5 1056.4L692.5 1052.0L693.5 1047.4L694.5 1042.6L695.5 1037.6L696.5 1032.5L697.5 1027.4L698.5 1022.4L699.5 1017.3L700.5 1012.3L701.5 1007.3L702.5 1002.3L703.5 997.4L704.5 992.4L705.5 987.5L706.5 982.5L707.5 977.7L708.5 972.9L709.5 968.2L710.5 963.6L711.5 959.2L712.5 955.1L713.5 951.2L714.5 946.7L715.5 941.3L716.5 935.3L717.5 930.1L718.5 926.2L719.5 923.3L720.5 921.1L721.5 919.2L722.5 917.7L723.5 916.6L724.5 915.8L725.5 915.4L726.5 915.4L727.5 915.6L728.5 916.2L729.5 917.2L730.5 918.8L731.5 921.2L732.5 924.5L733.5 928.5L734.5 932.9L735.5 937.7L736.5 942.4L737.5 946.9L738.5 951.6L739.5 956.6L740.5 962.4L741.5 969.6L742.5 977.2L743.5 984.8L744.5 992.5L745.5 1000.3L746.5 1008.1L747.5 1015.8L748.5 1023.5L749.5 1031.2L750.5 1038.8L751.5 1046.3L752.5 1053.9L753.5 1061.4L754.5 1068.9L755.5 1076.4L756.5 1083.9L757.5 1091.4L758.5 1098.8L759.5 1106.3L760.5 1113.6L761.5 1120.2L762.5 1126.3L763.5 1132.1L764.5 1137.5L765.5 1142.8L766.5 1147.9L767.5 1152.9L768.5 1157.7L769.5 1162.6L770.5 1167.2L771.5 1171.1L772.5 1174.6L773.5 1177.8L774.5 1180.7L775.5 1183.5L776.5 1186.1L777.5 1188.7L778.5 1191.3L779.5 1193.7L780.5 1196.1L781.5 1198.3L782.5 1200.3L783.5 1202.2L784.5 1203.8L785.5 1205.4L786.5 1206.8L787.5 1208.2L788.5 1209.4L789.5 1210.6L790.5 1211.7L791.5 1212.7L792.5 1213.7L793.5 1214.6L794.5 1215.4L795.5 1216.2L796.5 1216.9L797.5 1217.6L798.5 1218.2L799.5 1218.7L800.5 1219.3L801.5 1219.8L802.5 1220.2L803.5 1220.6L804.5 1221.0L805.5 1221.4L806.5 1221.7L807.5 1222.1L808.5 1222.4L809.5 1222.7L810.5 1223.0L811.5 1223.2L812.5 1223.5L813.5 1223.7L814.5 1223.9L815.5 1224.1L816.5 1224.3L817.5 1224.5L818.5 1224.6L819.5 1224.7L820.5 1224.8L821.5 1224.9L822.5 1225.0L823.5 1225.0L824.5 1225.1L825.5 1225.1L826.5 1225.2L827.5 1225.2L828.5 1225.2L829.5 1225.3L830.5 1225.3L831.5 1225.4L832.5 1225.4L833.5 1225.4L834.5 1225.5L835.5 1225.5L836.5 1225.6L837.5 1225.6L838.5 1225.6L839.5 1225.7L840.5 1225.7L841.5 1225.7L842.5 1225.8L843.5 1225.8L844.5 1225.8L845.5 1225.9L846.5 1225.9L847.5 1225.9L848.5 1225.9L849.5 1226.0L850.5 1226.0L851.5 1226.0L852.5 1226.0L853.5 1226.1L854.5 1226.1L855.5 1226.1L856.5 1226.1L857.5 1226.1L858.5 1226.2L859.5 1226.2L860.5 1226.2L861.5 1226.2L862.5 1226.2L863.5 1226.2L864.5 1226.2L865.5 1226.2L866.5 1226.3L867.5 1226.3L868.5 1226.3L869.5 1226.3L870.5 1226.3L871.5 1226.3L872.5 1226.3L873.5 1226.3L874.5 1226.3L875.5 1226.3L876.5 1226.3L877.5 1226.3L878.5 1226.3L879.5 1226.3L880.5 1226.3L881.5 1226.3L882.5 1226.4L883.5 1226.4L884.5 1226.4L885.5 1226.4L886.5 1226.4L887.5 1226.4L888.5 1226.4L889.5 1226.4L890.5 1226.4L891.5 1226.4L892.5 1226.4L893.5 1226.4L894.5 1226.4L895.5 1226.4L896.5 1226.5L897.5 1226.5L898.5 1226.5L899.5 1226.5L900.5 1226.5L901.5 1226.5L902.5 1226.5L903.5 1226.5L904.5 1226.5L905.5 1226.5L906.5 1226.5L907.5 1226.5L908.5 1226.5L909.5 1226.5L910.5 1226.5L911.5 1226.6L912.5 1226.6L913.5 1226.6L914.5 1226.6L915.5 1226.6L916.5 1226.6L917.5 1226.6L918.5 1226.6L919.5 1226.6L920.5 1226.6L921.5 1226.6L922.5 1226.6L923.5 1226.6L924.5 1226.6L925.5 1226.6L926.5 1226.6L927.5 1226.6L928.5 1226.6L929.5 1226.6L930.5 1226.6L931.5 1226.6L932.5 1226.6L933.5 1226.7L934.5 1226.7L935.5 1226.7L936.5 1226.7L937.5 1226.7L938.5 1226.7L939.5 1226.7L940.5 1226.7L941.5 1226.7L942.5 1226.7L943.5 1226.7L944.5 1226.7L945.5 1226.7L946.5 1226.7L947.5 1226.7L948.5 1226.7L949.5 1226.7L950.5 1226.7L951.5 1226.7L952.5 1226.7L953.5 1226.7L954.5 1226.7L955.5 1226.7L956.5 1226.7L957.5 1226.7L958.5 1226.6L959.5 1226.6L960.5 1226.6L961.5 1226.6L962.5 1226.6L963.5 1226.6L964.5 1226.6L965.5 1226.6L966.5 1226.6L967.5 1226.6L968.5 1226.6L969.5 1226.6L970.5 1226.6L971.5 1226.6L972.5 1226.6L973.5 1226.6L974.5 1226.5L975.5 1226.5L976.5 1226.5L977.5 1226.5L978.5 1226.5L979.5 1226.5" stroke="#3e7a06" stroke-width="2.9"/>
</g>
<line x1="414.2" y1="967.9" x2="414.2" y2="1009.8" stroke="#000" stroke-width="2.2"/><path d="M414.2 1043.3L403.6 1003.0Q409.4 1006.6 414.2 1007.8Q419.0 1006.6 424.8 1003.0Z" fill="#000"/>
<line x1="573.5" y1="827.4" x2="573.5" y2="885.1" stroke="#000" stroke-width="2.4"/><path d="M573.5 919.4L562.8 877.7Q568.7 881.7 573.5 883.1Q578.3 881.7 584.2 877.7Z" fill="#000"/>
<clipPath id="cc"><rect x="138" y="1385" width="845" height="535"/></clipPath>
<g fill="none">
<path d="M139 1388V1909.5" stroke="#a8a8a8" stroke-width="3.4"/>
<g stroke="#8c8c8c" stroke-width="1.6">
<path d="M139 1909.5H978.8"/>
<path d="M130.5 1909.5H139"/>
<path d="M130.5 1735.7H139"/>
<path d="M130.5 1561.8H139"/>
<path d="M130.5 1388.0H139"/>
<path d="M241.5 1909.5V1918"/>
<path d="M388.9 1909.5V1918"/>
<path d="M536.3 1909.5V1918"/>
<path d="M683.7 1909.5V1918"/>
<path d="M831.1 1909.5V1918"/>
<path d="M978.5 1909.5V1918"/>
</g></g>
<g clip-path="url(#cc)" fill="none" stroke-linejoin="round">
<path d="M139.0 1701.5L140.0 1701.5L141.0 1702.0L142.0 1702.6L143.0 1703.4L144.0 1704.4L145.0 1705.6L146.0 1707.3L147.0 1709.4L148.0 1712.0L149.0 1715.1L150.0 1718.9L151.0 1723.1L152.0 1727.4L153.0 1731.1L154.0 1734.4L155.0 1737.1L156.0 1739.4L157.0 1741.5L158.0 1743.4L159.0 1745.4L160.0 1747.4L161.0 1749.4L162.0 1751.3L163.0 1753.1L164.0 1754.8L165.0 1756.2L166.0 1757.3L167.0 1758.1L168.0 1758.7L169.0 1759.0L170.0 1759.0L171.0 1758.8L172.0 1758.4L173.0 1757.8L174.0 1757.0L175.0 1756.0L176.0 1754.9L177.0 1753.7L178.0 1752.5L179.0 1751.2L180.0 1749.9L181.0 1748.6L182.0 1747.2L183.0 1745.7L184.0 1744.2L185.0 1742.7L186.0 1741.2L187.0 1739.8L188.0 1738.6L189.0 1737.7L190.0 1736.9L191.0 1736.5L192.0 1736.3L193.0 1736.4L194.0 1736.7L195.0 1737.3L196.0 1738.1L197.0 1739.1L198.0 1740.3L199.0 1741.6L200.0 1743.1L201.0 1744.8L202.0 1746.7L203.0 1748.6L204.0 1750.8L205.0 1752.9L206.0 1755.1L207.0 1757.3L208.0 1759.6L209.0 1761.8L210.0 1764.1L211.0 1766.3L212.0 1768.6L213.0 1770.9L214.0 1773.2L215.0 1775.4L216.0 1777.7L217.0 1780.0L218.0 1782.3L219.0 1784.6L220.0 1786.9L221.0 1789.1L222.0 1791.4L223.0 1793.7L224.0 1796.0L225.0 1798.3L226.0 1800.6L227.0 1802.9L228.0 1805.2L229.0 1807.5L230.0 1809.8L231.0 1812.0L232.0 1814.3L233.0 1816.5L234.0 1818.5L235.0 1820.5L236.0 1822.4L237.0 1824.1L238.0 1825.8L239.0 1827.4L240.0 1828.9L241.0 1830.3L242.0 1831.7L243.0 1833.0L244.0 1834.3L245.0 1835.5L246.0 1836.6L247.0 1837.7L248.0 1838.7L249.0 1839.7L250.0 1840.6L251.0 1841.5L252.0 1842.4L253.0 1843.3L254.0 1844.1L255.0 1844.9L256.0 1845.6L257.0 1846.4L258.0 1847.1L259.0 1847.8L260.0 1848.5L261.0 1849.2L262.0 1850.0L263.0 1850.8L264.0 1851.7L265.0 1852.7L266.0 1853.8L267.0 1855.0L268.0 1856.3L269.0 1857.5L270.0 1858.8L271.0 1860.0L272.0 1861.3L273.0 1862.5L274.0 1863.8L275.0 1865.0L276.0 1866.3L277.0 1867.5L278.0 1868.7L279.0 1870.0L280.0 1871.2L281.0 1872.5L282.0 1873.7L283.0 1875.0L284.0 1876.2L285.0 1877.4L286.0 1878.6L287.0 1879.7L288.0 1880.8L289.0 1881.8L290.0 1882.8L291.0 1883.7L292.0 1884.6L293.0 1885.4L294.0 1886.1L295.0 1886.9L296.0 1887.5L297.0 1888.2L298.0 1888.8L299.0 1889.3L300.0 1889.9L301.0 1890.3L302.0 1890.8L303.0 1891.2L304.0 1891.5L305.0 1891.9L306.0 1892.1L307.0 1892.4L308.0 1892.6L309.0 1892.8L310.0 1893.0L311.0 1893.2L312.0 1893.3L313.0 1893.5L314.0 1893.6L315.0 1893.7L316.0 1893.8L317.0 1893.9L318.0 1894.0L319.0 1894.1L320.0 1894.1L321.0 1894.2L322.0 1894.2L323.0 1894.2L324.0 1894.3L325.0 1894.3L326.0 1894.3L327.0 1894.3L328.0 1894.2L329.0 1894.2L330.0 1894.2L331.0 1894.1L332.0 1894.0L333.0 1894.0L334.0 1893.9L335.0 1893.8L336.0 1893.7L337.0 1893.6L338.0 1893.4L339.0 1893.3L340.0 1893.2L341.0 1893.0L342.0 1892.8L343.0 1892.7L344.0 1892.5L345.0 1892.2L346.0 1892.0L347.0 1891.8L348.0 1891.5L349.0 1891.2L350.0 1890.9L351.0 1890.6L352.0 1890.3L353.0 1890.0L354.0 1889.6L355.0 1889.3L356.0 1888.9L357.0 1888.6L358.0 1888.2L359.0 1887.8L360.0 1887.4L361.0 1887.0L362.0 1886.5L363.0 1886.1L364.0 1885.6L365.0 1885.2L366.0 1884.7L367.0 1884.2L368.0 1883.7L369.0 1883.2L370.0 1882.7L371.0 1882.2L372.0 1881.7L373.0 1881.2L374.0 1880.6L375.0 1880.1L376.0 1879.6L377.0 1879.1L378.0 1878.5L379.0 1878.0L380.0 1877.5L381.0 1877.0L382.0 1876.4L383.0 1875.9L384.0 1875.3L385.0 1874.8L386.0 1874.2L387.0 1873.7L388.0 1873.1L389.0 1872.6L390.0 1872.0L391.0 1871.4L392.0 1870.9L393.0 1870.3L394.0 1869.8L395.0 1869.2L396.0 1868.6L397.0 1868.1L398.0 1867.5L399.0 1867.0L400.0 1866.4L401.0 1865.9L402.0 1865.4L403.0 1864.8L404.0 1864.3L405.0 1863.8L406.0 1863.4L407.0 1862.9L408.0 1862.5L409.0 1862.1L410.0 1861.8L411.0 1861.5L412.0 1861.2L413.0 1860.9L414.0 1860.7L415.0 1860.5L416.0 1860.3L417.0 1860.1L418.0 1860.0L419.0 1859.9L420.0 1859.8L421.0 1859.7L422.0 1859.6L423.0 1859.6L424.0 1859.6L425.0 1859.6L426.0 1859.7L427.0 1859.7L428.0 1859.8L429.0 1860.0L430.0 1860.1L431.0 1860.3L432.0 1860.5L433.0 1860.8L434.0 1861.1L435.0 1861.4L436.0 1861.8L437.0 1862.2L438.0 1862.6L439.0 1863.1L440.0 1863.6L441.0 1864.2L442.0 1864.8L443.0 1865.5L444.0 1866.2L445.0 1866.9L446.0 1867.7L447.0 1868.5L448.0 1869.3L449.0 1870.2L450.0 1871.1L451.0 1872.0L452.0 1872.9L453.0 1873.9L454.0 1874.8L455.0 1875.7L456.0 1876.6L457.0 1877.5L458.0 1878.3L459.0 1879.1L460.0 1879.9L461.0 1880.7L462.0 1881.5L463.0 1882.3L464.0 1883.0L465.0 1883.8L466.0 1884.5L467.0 1885.2L468.0 1886.0L469.0 1886.7L470.0 1887.4L471.0 1888.1L472.0 1888.8L473.0 1889.4L474.0 1890.1L475.0 1890.7L476.0 1891.4L477.0 1892.0L478.0 1892.6L479.0 1893.1L480.0 1893.7L481.0 1894.2L482.0 1894.7L483.0 1895.2L484.0 1895.6L485.0 1896.0L486.0 1896.4L487.0 1896.8L488.0 1897.2L489.0 1897.5L490.0 1897.8L491.0 1898.1L492.0 1898.4L493.0 1898.6L494.0 1898.8L495.0 1899.1L496.0 1899.3L497.0 1899.5L498.0 1899.6L499.0 1899.8L500.0 1900.0L501.0 1900.1L502.0 1900.2L503.0 1900.4L504.0 1900.5L505.0 1900.6L506.0 1900.7L507.0 1900.8L508.0 1900.9L509.0 1901.0L510.0 1901.0L511.0 1901.1L512.0 1901.1L513.0 1901.2L514.0 1901.2L515.0 1901.2L516.0 1901.3L517.0 1901.3L518.0 1901.3L519.0 1901.2L520.0 1901.2L521.0 1901.2L522.0 1901.2L523.0 1901.1L524.0 1901.1L525.0 1901.0L526.0 1901.0L527.0 1900.9L528.0 1900.9L529.0 1900.8L530.0 1900.7L531.0 1900.7L532.0 1900.6L533.0 1900.5L534.0 1900.4L535.0 1900.3L536.0 1900.2L537.0 1900.1L538.0 1900.0L539.0 1899.9L540.0 1899.8L541.0 1899.7L542.0 1899.5L543.0 1899.4L544.0 1899.3L545.0 1899.1L546.0 1899.0L547.0 1898.8L548.0 1898.7L549.0 1898.5L550.0 1898.4L551.0 1898.2L552.0 1898.0L553.0 1897.8L554.0 1897.7L555.0 1897.5L556.0 1897.3L557.0 1897.1L558.0 1896.9L559.0 1896.7L560.0 1896.5L561.0 1896.3L562.0 1896.1L563.0 1895.9L564.0 1895.7L565.0 1895.5L566.0 1895.3L567.0 1895.1L568.0 1894.9L569.0 1894.6L570.0 1894.4L571.0 1894.1L572.0 1893.9L573.0 1893.6L574.0 1893.4L575.0 1893.1L576.0 1892.8L577.0 1892.5L578.0 1892.2L579.0 1891.9L580.0 1891.6L581.0 1891.3L582.0 1891.0L583.0 1890.6L584.0 1890.3L585.0 1890.0L586.0 1889.6L587.0 1889.3L588.0 1888.9L589.0 1888.5L590.0 1888.1L591.0 1887.7L592.0 1887.3L593.0 1886.9L594.0 1886.5L595.0 1886.0L596.0 1885.6L597.0 1885.1L598.0 1884.6L599.0 1884.1L600.0 1883.6L601.0 1883.0L602.0 1882.5L603.0 1881.9L604.0 1881.3L605.0 1880.7L606.0 1880.1L607.0 1879.5L608.0 1878.8L609.0 1878.1L610.0 1877.4L611.0 1876.7L612.0 1876.0L613.0 1875.2L614.0 1874.5L615.0 1873.6L616.0 1872.8L617.0 1872.0L618.0 1871.1L619.0 1870.2L620.0 1869.2L621.0 1868.2L622.0 1867.2L623.0 1866.2L624.0 1865.1L625.0 1863.9L626.0 1862.7L627.0 1861.5L628.0 1860.2L629.0 1858.8L630.0 1857.4L631.0 1856.0L632.0 1854.5L633.0 1852.9L634.0 1851.3L635.0 1849.8L636.0 1848.2L637.0 1846.5L638.0 1844.9L639.0 1843.3L640.0 1841.7L641.0 1840.1L642.0 1838.5L643.0 1836.9L644.0 1835.3L645.0 1833.8L646.0 1832.3L647.0 1830.8L648.0 1829.3L649.0 1827.8L650.0 1826.4L651.0 1825.0L652.0 1823.5L653.0 1822.1L654.0 1820.7L655.0 1819.3L656.0 1817.9L657.0 1816.4L658.0 1815.0L659.0 1813.6L660.0 1812.2L661.0 1810.8L662.0 1809.3L663.0 1807.9L664.0 1806.4L665.0 1805.0L666.0 1803.5L667.0 1802.0L668.0 1800.5L669.0 1799.0L670.0 1797.5L671.0 1795.9L672.0 1794.3L673.0 1792.7L674.0 1791.1L675.0 1789.4L676.0 1787.6L677.0 1785.8L678.0 1784.0L679.0 1782.0L680.0 1779.9L681.0 1777.7L682.0 1775.3L683.0 1772.7L684.0 1769.9L685.0 1766.8L686.0 1763.3L687.0 1759.5L688.0 1755.3L689.0 1750.9L690.0 1746.4L691.0 1741.8L692.0 1737.2L693.0 1732.5L694.0 1727.7L695.0 1722.8L696.0 1717.8L697.0 1712.6L698.0 1707.3L699.0 1701.9L700.0 1696.4L701.0 1690.8L702.0 1685.3L703.0 1679.7L704.0 1674.1L705.0 1668.6L706.0 1663.1L707.0 1657.7L708.0 1652.4L709.0 1647.4L710.0 1642.6L711.0 1637.9L712.0 1633.4L713.0 1628.9L714.0 1624.5L715.0 1620.1L716.0 1616.1L717.0 1612.8L718.0 1609.9L719.0 1607.4L720.0 1605.2L721.0 1603.4L722.0 1601.9L723.0 1600.9L724.0 1600.3L725.0 1600.1L726.0 1600.2L727.0 1600.8L728.0 1601.8L729.0 1603.1L730.0 1604.9L731.0 1607.2L732.0 1609.9L733.0 1613.1L734.0 1616.6L735.0 1620.5L736.0 1624.9L737.0 1629.8L738.0 1635.4L739.0 1641.1L740.0 1646.9L741.0 1652.6L742.0 1658.5L743.0 1664.6L744.0 1670.9L745.0 1677.5L746.0 1684.5L747.0 1691.5L748.0 1698.5L749.0 1705.6L750.0 1712.6L751.0 1719.6L752.0 1726.5L753.0 1733.4L754.0 1740.2L755.0 1747.0L756.0 1753.7L757.0 1760.3L758.0 1766.9L759.0 1773.5L760.0 1780.0L761.0 1786.2L762.0 1791.9L763.0 1797.4L764.0 1802.7L765.0 1807.7L766.0 1812.7L767.0 1817.6L768.0 1822.3L769.0 1826.8L770.0 1831.0L771.0 1835.0L772.0 1838.8L773.0 1842.6L774.0 1846.3L775.0 1849.9L776.0 1853.4L777.0 1856.7L778.0 1859.7L779.0 1862.7L780.0 1865.6L781.0 1868.4L782.0 1871.1L783.0 1873.7L784.0 1876.2L785.0 1878.4L786.0 1880.5L787.0 1882.4L788.0 1884.2L789.0 1885.8L790.0 1887.3L791.0 1888.7L792.0 1889.9L793.0 1891.1L794.0 1892.2L795.0 1893.2L796.0 1894.1L797.0 1895.0L798.0 1895.8L799.0 1896.6L800.0 1897.4L801.0 1898.2L802.0 1898.9L803.0 1899.6L804.0 1900.3L805.0 1900.9L806.0 1901.5L807.0 1902.1L808.0 1902.7L809.0 1903.2L810.0 1903.7L811.0 1904.1L812.0 1904.6L813.0 1905.0L814.0 1905.3L815.0 1905.7L816.0 1906.0L817.0 1906.3L818.0 1906.6L819.0 1906.8L820.0 1907.1L821.0 1907.2L822.0 1907.4L823.0 1907.6L824.0 1907.7L825.0 1907.8L826.0 1907.9L827.0 1908.0L828.0 1908.1L829.0 1908.2L830.0 1908.3L831.0 1908.3L832.0 1908.4L833.0 1908.5L834.0 1908.5L835.0 1908.6L836.0 1908.7L837.0 1908.7L838.0 1908.8L839.0 1908.8L840.0 1908.8L841.0 1908.9L842.0 1908.9L843.0 1908.9L844.0 1909.0L845.0 1909.0L846.0 1909.0L847.0 1909.0L848.0 1909.0L849.0 1909.1L850.0 1909.1L851.0 1909.1L852.0 1909.1L853.0 1909.1L854.0 1909.1L855.0 1909.2L856.0 1909.2L857.0 1909.2L858.0 1909.2L859.0 1909.2L860.0 1909.2L861.0 1909.3L862.0 1909.3L863.0 1909.3L864.0 1909.3L865.0 1909.3L866.0 1909.3L867.0 1909.3L868.0 1909.4L869.0 1909.4L870.0 1909.4L871.0 1909.4L872.0 1909.4L873.0 1909.4L874.0 1909.5L875.0 1909.5L876.0 1909.5L877.0 1909.5L878.0 1909.5L879.0 1909.5L880.0 1909.5L881.0 1909.6L882.0 1909.6L883.0 1909.6L884.0 1909.6L885.0 1909.6L886.0 1909.6L887.0 1909.6L888.0 1909.7L889.0 1909.7L890.0 1909.7L891.0 1909.7L892.0 1909.7L893.0 1909.7L894.0 1909.7L895.0 1909.7L896.0 1909.8L897.0 1909.8L898.0 1909.8L899.0 1909.8L900.0 1909.8L901.0 1909.8L902.0 1909.8L903.0 1909.8L904.0 1909.8L905.0 1909.8L906.0 1909.9L907.0 1909.9L908.0 1909.9L909.0 1909.9L910.0 1909.9L911.0 1909.9L912.0 1909.9L913.0 1909.9L914.0 1909.9L915.0 1909.9L916.0 1909.9L917.0 1909.9L918.0 1909.9L919.0 1909.9L920.0 1909.9L921.0 1909.9L922.0 1909.9L923.0 1909.9L924.0 1910.0L925.0 1910.0L926.0 1910.0L927.0 1910.0L928.0 1910.0L929.0 1910.0L930.0 1910.0L931.0 1910.0L932.0 1910.0L933.0 1910.0L934.0 1910.0L935.0 1909.9L936.0 1909.9L937.0 1909.9L938.0 1909.9L939.0 1909.9L940.0 1909.9L941.0 1909.9L942.0 1909.9L943.0 1909.9L944.0 1909.9L945.0 1909.9L946.0 1909.9L947.0 1909.9L948.0 1909.9L949.0 1909.9L950.0 1909.9L951.0 1909.8L952.0 1909.8L953.0 1909.8L954.0 1909.8L955.0 1909.8L956.0 1909.8L957.0 1909.8L958.0 1909.7L959.0 1909.7L960.0 1909.7L961.0 1909.7L962.0 1909.7L963.0 1909.7L964.0 1909.6L965.0 1909.6L966.0 1909.6L967.0 1909.6L968.0 1909.6L969.0 1909.5L970.0 1909.5L971.0 1909.5L972.0 1909.5L973.0 1909.4L974.0 1909.4L975.0 1909.4L976.0 1909.4L977.0 1909.3L978.0 1909.3L978.5 1909.3" stroke="#3e7a06" stroke-width="2.7"/>
<path d="M139.0 1704.5L140.0 1704.6L141.0 1704.6L142.0 1704.8L143.0 1705.0L144.0 1705.4L145.0 1706.0L146.0 1706.9L147.0 1708.3L148.0 1710.2L149.0 1712.3L150.0 1714.5L151.0 1716.7L152.0 1719.0L153.0 1721.4L154.0 1723.7L155.0 1726.1L156.0 1728.5L157.0 1730.8L158.0 1733.2L159.0 1735.4L160.0 1737.5L161.0 1739.4L162.0 1741.0L163.0 1742.4L164.0 1743.6L165.0 1744.7L166.0 1745.5L167.0 1746.2L168.0 1746.7L169.0 1746.9L170.0 1746.9L171.0 1746.7L172.0 1746.3L173.0 1745.7L174.0 1744.9L175.0 1744.0L176.0 1742.9L177.0 1741.7L178.0 1740.3L179.0 1738.9L180.0 1737.4L181.0 1735.9L182.0 1734.5L183.0 1733.0L184.0 1731.6L185.0 1730.3L186.0 1729.0L187.0 1727.7L188.0 1726.7L189.0 1725.8L190.0 1725.2L191.0 1724.8L192.0 1724.7L193.0 1724.9L194.0 1725.4L195.0 1726.2L196.0 1727.2L197.0 1728.5L198.0 1730.0L199.0 1731.9L200.0 1734.3L201.0 1737.0L202.0 1739.7L203.0 1742.3L204.0 1745.0L205.0 1747.7L206.0 1750.6L207.0 1753.5L208.0 1756.5L209.0 1759.5L210.0 1762.5L211.0 1765.5L212.0 1768.5L213.0 1771.5L214.0 1774.5L215.0 1777.4L216.0 1780.4L217.0 1783.3L218.0 1786.2L219.0 1789.1L220.0 1792.0L221.0 1794.8L222.0 1797.7L223.0 1800.4L224.0 1803.1L225.0 1805.8L226.0 1808.5L227.0 1811.2L228.0 1813.8L229.0 1816.3L230.0 1818.8L231.0 1821.2L232.0 1823.6L233.0 1826.0L234.0 1828.3L235.0 1830.6L236.0 1832.8L237.0 1835.0L238.0 1837.0L239.0 1839.0L240.0 1841.0L241.0 1843.0L242.0 1844.9L243.0 1846.7L244.0 1848.4L245.0 1850.0L246.0 1851.5L247.0 1852.9L248.0 1854.2L249.0 1855.4L250.0 1856.5L251.0 1857.5L252.0 1858.5L253.0 1859.4L254.0 1860.2L255.0 1861.0L256.0 1861.7L257.0 1862.5L258.0 1863.2L259.0 1863.9L260.0 1864.6L261.0 1865.3L262.0 1866.0L263.0 1866.7L264.0 1867.3L265.0 1868.0L266.0 1868.6L267.0 1869.3L268.0 1869.9L269.0 1870.6L270.0 1871.2L271.0 1871.9L272.0 1872.6L273.0 1873.2L274.0 1873.9L275.0 1874.5L276.0 1875.2L277.0 1875.8L278.0 1876.5L279.0 1877.2L280.0 1877.9L281.0 1878.5L282.0 1879.2L283.0 1880.0L284.0 1880.8L285.0 1881.5L286.0 1882.4L287.0 1883.2L288.0 1884.0L289.0 1884.8L290.0 1885.6L291.0 1886.4L292.0 1887.1L293.0 1887.8L294.0 1888.4L295.0 1888.9L296.0 1889.4L297.0 1889.9L298.0 1890.3L299.0 1890.6L300.0 1890.9L301.0 1891.1L302.0 1891.3L303.0 1891.5L304.0 1891.6L305.0 1891.7L306.0 1891.8L307.0 1891.9L308.0 1892.0L309.0 1892.0L310.0 1892.1L311.0 1892.2L312.0 1892.3L313.0 1892.4L314.0 1892.5L315.0 1892.6L316.0 1892.7L317.0 1892.8L318.0 1892.9L319.0 1893.0L320.0 1893.1L321.0 1893.2L322.0 1893.3L323.0 1893.4L324.0 1893.5L325.0 1893.6L326.0 1893.7L327.0 1893.8L328.0 1893.9L329.0 1894.0L330.0 1894.0L331.0 1894.1L332.0 1894.2L333.0 1894.2L334.0 1894.3L335.0 1894.3L336.0 1894.3L337.0 1894.4L338.0 1894.4L339.0 1894.4L340.0 1894.5L341.0 1894.5L342.0 1894.5L343.0 1894.5L344.0 1894.5L345.0 1894.5L346.0 1894.5L347.0 1894.5L348.0 1894.4L349.0 1894.4L350.0 1894.4L351.0 1894.4L352.0 1894.3L353.0 1894.3L354.0 1894.3L355.0 1894.2L356.0 1894.2L357.0 1894.1L358.0 1894.1L359.0 1894.0L360.0 1894.0L361.0 1893.9L362.0 1893.9L363.0 1893.8L364.0 1893.8L365.0 1893.7L366.0 1893.6L367.0 1893.5L368.0 1893.5L369.0 1893.4L370.0 1893.2L371.0 1893.1L372.0 1893.0L373.0 1892.8L374.0 1892.7L375.0 1892.5L376.0 1892.3L377.0 1892.0L378.0 1891.8L379.0 1891.5L380.0 1891.3L381.0 1891.0L382.0 1890.7L383.0 1890.5L384.0 1890.2L385.0 1889.9L386.0 1889.6L387.0 1889.3L388.0 1889.0L389.0 1888.7L390.0 1888.4L391.0 1888.1L392.0 1887.8L393.0 1887.5L394.0 1887.2L395.0 1886.8L396.0 1886.5L397.0 1886.2L398.0 1885.9L399.0 1885.6L400.0 1885.3L401.0 1885.0L402.0 1884.7L403.0 1884.4L404.0 1884.1L405.0 1883.8L406.0 1883.5L407.0 1883.2L408.0 1882.9L409.0 1882.7L410.0 1882.4L411.0 1882.2L412.0 1882.0L413.0 1881.8L414.0 1881.6L415.0 1881.4L416.0 1881.2L417.0 1881.1L418.0 1880.9L419.0 1880.8L420.0 1880.7L421.0 1880.6L422.0 1880.6L423.0 1880.5L424.0 1880.5L425.0 1880.5L426.0 1880.5L427.0 1880.5L428.0 1880.6L429.0 1880.7L430.0 1880.7L431.0 1880.9L432.0 1881.0L433.0 1881.1L434.0 1881.3L435.0 1881.4L436.0 1881.6L437.0 1881.8L438.0 1882.0L439.0 1882.2L440.0 1882.4L441.0 1882.7L442.0 1882.9L443.0 1883.2L444.0 1883.4L445.0 1883.7L446.0 1883.9L447.0 1884.2L448.0 1884.5L449.0 1884.7L450.0 1885.0L451.0 1885.3L452.0 1885.6L453.0 1885.9L454.0 1886.2L455.0 1886.5L456.0 1886.9L457.0 1887.2L458.0 1887.5L459.0 1887.9L460.0 1888.2L461.0 1888.6L462.0 1888.9L463.0 1889.2L464.0 1889.5L465.0 1889.9L466.0 1890.2L467.0 1890.4L468.0 1890.7L469.0 1891.0L470.0 1891.2L471.0 1891.5L472.0 1891.7L473.0 1891.9L474.0 1892.1L475.0 1892.4L476.0 1892.6L477.0 1892.8L478.0 1893.0L479.0 1893.1L480.0 1893.3L481.0 1893.5L482.0 1893.7L483.0 1893.8L484.0 1894.0L485.0 1894.1L486.0 1894.3L487.0 1894.4L488.0 1894.5L489.0 1894.6L490.0 1894.7L491.0 1894.8L492.0 1894.9L493.0 1895.0L494.0 1895.1L495.0 1895.2L496.0 1895.3L497.0 1895.4L498.0 1895.4L499.0 1895.5L500.0 1895.6L501.0 1895.7L502.0 1895.7L503.0 1895.8L504.0 1895.9L505.0 1896.0L506.0 1896.0L507.0 1896.1L508.0 1896.2L509.0 1896.2L510.0 1896.3L511.0 1896.4L512.0 1896.5L513.0 1896.5L514.0 1896.6L515.0 1896.6L516.0 1896.7L517.0 1896.8L518.0 1896.8L519.0 1896.9L520.0 1897.0L521.0 1897.0L522.0 1897.1L523.0 1897.1L524.0 1897.2L525.0 1897.2L526.0 1897.3L527.0 1897.3L528.0 1897.4L529.0 1897.4L530.0 1897.5L531.0 1897.5L532.0 1897.6L533.0 1897.6L534.0 1897.7L535.0 1897.7L536.0 1897.8L537.0 1897.8L538.0 1897.9L539.0 1897.9L540.0 1898.0L541.0 1898.0L542.0 1898.1L543.0 1898.1L544.0 1898.1L545.0 1898.2L546.0 1898.2L547.0 1898.3L548.0 1898.3L549.0 1898.3L550.0 1898.4L551.0 1898.4L552.0 1898.5L553.0 1898.5L554.0 1898.5L555.0 1898.6L556.0 1898.6L557.0 1898.6L558.0 1898.7L559.0 1898.7L560.0 1898.7L561.0 1898.8L562.0 1898.8L563.0 1898.8L564.0 1898.8L565.0 1898.9L566.0 1898.9L567.0 1898.9L568.0 1898.9L569.0 1898.9L570.0 1898.9L571.0 1898.9L572.0 1898.9L573.0 1898.9L574.0 1898.9L575.0 1898.9L576.0 1898.9L577.0 1898.8L578.0 1898.8L579.0 1898.8L580.0 1898.8L581.0 1898.8L582.0 1898.8L583.0 1898.8L584.0 1898.8L585.0 1898.7L586.0 1898.7L587.0 1898.7L588.0 1898.7L589.0 1898.7L590.0 1898.6L591.0 1898.6L592.0 1898.6L593.0 1898.5L594.0 1898.5L595.0 1898.4L596.0 1898.3L597.0 1898.3L598.0 1898.2L599.0 1898.1L600.0 1898.0L601.0 1897.9L602.0 1897.7L603.0 1897.6L604.0 1897.4L605.0 1897.3L606.0 1897.1L607.0 1896.9L608.0 1896.7L609.0 1896.5L610.0 1896.2L611.0 1895.9L612.0 1895.7L613.0 1895.4L614.0 1895.0L615.0 1894.7L616.0 1894.3L617.0 1894.0L618.0 1893.6L619.0 1893.2L620.0 1892.7L621.0 1892.3L622.0 1891.9L623.0 1891.4L624.0 1890.9L625.0 1890.4L626.0 1889.9L627.0 1889.4L628.0 1888.9L629.0 1888.3L630.0 1887.8L631.0 1887.2L632.0 1886.7L633.0 1886.1L634.0 1885.6L635.0 1885.0L636.0 1884.4L637.0 1883.9L638.0 1883.3L639.0 1882.7L640.0 1882.1L641.0 1881.6L642.0 1881.0L643.0 1880.4L644.0 1879.8L645.0 1879.2L646.0 1878.6L647.0 1878.0L648.0 1877.4L649.0 1876.8L650.0 1876.2L651.0 1875.6L652.0 1875.0L653.0 1874.4L654.0 1873.8L655.0 1873.1L656.0 1872.5L657.0 1871.9L658.0 1871.3L659.0 1870.6L660.0 1870.0L661.0 1869.4L662.0 1868.7L663.0 1868.1L664.0 1867.4L665.0 1866.7L666.0 1866.1L667.0 1865.4L668.0 1864.7L669.0 1864.0L670.0 1863.3L671.0 1862.5L672.0 1861.8L673.0 1861.0L674.0 1860.3L675.0 1859.5L676.0 1858.7L677.0 1857.9L678.0 1857.0L679.0 1856.1L680.0 1855.2L681.0 1854.2L682.0 1853.2L683.0 1852.1L684.0 1851.0L685.0 1849.8L686.0 1848.5L687.0 1847.1L688.0 1845.6L689.0 1844.1L690.0 1842.4L691.0 1840.7L692.0 1838.9L693.0 1836.9L694.0 1834.9L695.0 1832.9L696.0 1830.8L697.0 1828.7L698.0 1826.5L699.0 1824.4L700.0 1822.4L701.0 1820.4L702.0 1818.5L703.0 1816.6L704.0 1814.7L705.0 1812.8L706.0 1811.0L707.0 1809.2L708.0 1807.5L709.0 1805.8L710.0 1804.2L711.0 1802.7L712.0 1801.3L713.0 1800.0L714.0 1798.8L715.0 1797.6L716.0 1796.5L717.0 1795.5L718.0 1794.6L719.0 1793.8L720.0 1793.1L721.0 1792.5L722.0 1792.1L723.0 1791.8L724.0 1791.7L725.0 1791.7L726.0 1791.9L727.0 1792.3L728.0 1792.9L729.0 1793.6L730.0 1794.6L731.0 1795.7L732.0 1796.9L733.0 1798.4L734.0 1800.1L735.0 1801.9L736.0 1804.0L737.0 1806.3L738.0 1808.9L739.0 1811.7L740.0 1814.8L741.0 1817.9L742.0 1821.0L743.0 1824.0L744.0 1827.0L745.0 1830.0L746.0 1833.1L747.0 1836.1L748.0 1839.2L749.0 1842.3L750.0 1845.3L751.0 1848.2L752.0 1851.1L753.0 1853.8L754.0 1856.4L755.0 1858.9L756.0 1861.2L757.0 1863.5L758.0 1865.7L759.0 1867.9L760.0 1869.9L761.0 1872.0L762.0 1874.0L763.0 1875.9L764.0 1877.7L765.0 1879.4L766.0 1881.0L767.0 1882.5L768.0 1884.0L769.0 1885.4L770.0 1886.7L771.0 1888.1L772.0 1889.3L773.0 1890.6L774.0 1891.8L775.0 1892.9L776.0 1894.0L777.0 1895.0L778.0 1895.9L779.0 1896.8L780.0 1897.7L781.0 1898.5L782.0 1899.2L783.0 1899.9L784.0 1900.6L785.0 1901.2L786.0 1901.7L787.0 1902.3L788.0 1902.8L789.0 1903.2L790.0 1903.6L791.0 1904.0L792.0 1904.3L793.0 1904.7L794.0 1904.9L795.0 1905.2L796.0 1905.4L797.0 1905.6L798.0 1905.8L799.0 1906.0L800.0 1906.2L801.0 1906.3L802.0 1906.5L803.0 1906.6L804.0 1906.8L805.0 1906.9L806.0 1907.0L807.0 1907.2L808.0 1907.3L809.0 1907.4L810.0 1907.5L811.0 1907.6L812.0 1907.7L813.0 1907.8L814.0 1907.9L815.0 1907.9L816.0 1908.0L817.0 1908.0L818.0 1908.1L819.0 1908.1L820.0 1908.2L821.0 1908.2L822.0 1908.3L823.0 1908.3L824.0 1908.4L825.0 1908.4L826.0 1908.5L827.0 1908.5L828.0 1908.5L829.0 1908.6L830.0 1908.6L831.0 1908.7L832.0 1908.7L833.0 1908.8L834.0 1908.8L835.0 1908.8L836.0 1908.9L837.0 1908.9L838.0 1908.9L839.0 1909.0L840.0 1909.0L841.0 1909.0L842.0 1909.0L843.0 1909.1L844.0 1909.1L845.0 1909.1L846.0 1909.1L847.0 1909.2L848.0 1909.2L849.0 1909.2L850.0 1909.2L851.0 1909.2L852.0 1909.2L853.0 1909.2L854.0 1909.2L855.0 1909.3L856.0 1909.3L857.0 1909.3L858.0 1909.3L859.0 1909.3L860.0 1909.3L861.0 1909.3L862.0 1909.3L863.0 1909.3L864.0 1909.3L865.0 1909.4L866.0 1909.4L867.0 1909.4L868.0 1909.4L869.0 1909.4L870.0 1909.4L871.0 1909.4L872.0 1909.4L873.0 1909.4L874.0 1909.4L875.0 1909.4L876.0 1909.5L877.0 1909.5L878.0 1909.5L879.0 1909.5L880.0 1909.5L881.0 1909.5L882.0 1909.5L883.0 1909.5L884.0 1909.5L885.0 1909.5L886.0 1909.5L887.0 1909.5L888.0 1909.6L889.0 1909.6L890.0 1909.6L891.0 1909.6L892.0 1909.6L893.0 1909.6L894.0 1909.6L895.0 1909.6L896.0 1909.6L897.0 1909.6L898.0 1909.6L899.0 1909.6L900.0 1909.6L901.0 1909.6L902.0 1909.6L903.0 1909.6L904.0 1909.6L905.0 1909.7L906.0 1909.7L907.0 1909.7L908.0 1909.7L909.0 1909.7L910.0 1909.7L911.0 1909.7L912.0 1909.7L913.0 1909.7L914.0 1909.7L915.0 1909.7L916.0 1909.7L917.0 1909.7L918.0 1909.7L919.0 1909.7L920.0 1909.7L921.0 1909.7L922.0 1909.7L923.0 1909.7L924.0 1909.7L925.0 1909.7L926.0 1909.7L927.0 1909.7L928.0 1909.7L929.0 1909.7L930.0 1909.7L931.0 1909.7L932.0 1909.7L933.0 1909.7L934.0 1909.7L935.0 1909.7L936.0 1909.7L937.0 1909.7L938.0 1909.7L939.0 1909.7L940.0 1909.7L941.0 1909.7L942.0 1909.7L943.0 1909.7L944.0 1909.7L945.0 1909.7L946.0 1909.6L947.0 1909.6L948.0 1909.6L949.0 1909.6L950.0 1909.6L951.0 1909.6L952.0 1909.6L953.0 1909.6L954.0 1909.6L955.0 1909.6L956.0 1909.6L957.0 1909.6L958.0 1909.6L959.0 1909.6L960.0 1909.5L961.0 1909.5L962.0 1909.5L963.0 1909.5L964.0 1909.5L965.0 1909.5L966.0 1909.5L967.0 1909.5L968.0 1909.5L969.0 1909.4L970.0 1909.4L971.0 1909.4L972.0 1909.4L973.0 1909.4L974.0 1909.4L975.0 1909.4L976.0 1909.3L977.0 1909.3L978.0 1909.3L978.5 1909.3" stroke="#ff3600" stroke-width="3.3"/>
<path d="M139.0 1705.1L140.0 1705.1L141.0 1705.3L142.0 1705.5L143.0 1705.8L144.0 1706.2L145.0 1706.8L146.0 1707.7L147.0 1708.9L148.0 1710.4L149.0 1712.1L150.0 1714.0L151.0 1716.0L152.0 1718.0L153.0 1720.2L154.0 1722.4L155.0 1724.6L156.0 1726.8L157.0 1728.9L158.0 1731.0L159.0 1733.1L160.0 1734.9L161.0 1736.6L162.0 1738.1L163.0 1739.3L164.0 1740.4L165.0 1741.3L166.0 1742.0L167.0 1742.6L168.0 1742.9L169.0 1743.1L170.0 1743.1L171.0 1742.9L172.0 1742.6L173.0 1742.2L174.0 1741.7L175.0 1741.1L176.0 1740.4L177.0 1739.7L178.0 1738.9L179.0 1738.2L180.0 1737.4L181.0 1736.6L182.0 1735.8L183.0 1735.0L184.0 1734.2L185.0 1733.4L186.0 1732.6L187.0 1731.9L188.0 1731.2L189.0 1730.6L190.0 1730.3L191.0 1730.1L192.0 1730.2L193.0 1730.6L194.0 1731.3L195.0 1732.2L196.0 1733.4L197.0 1734.9L198.0 1736.6L199.0 1738.7L200.0 1741.0L201.0 1743.5L202.0 1746.0L203.0 1748.6L204.0 1751.2L205.0 1754.0L206.0 1756.9L207.0 1759.8L208.0 1762.7L209.0 1765.6L210.0 1768.6L211.0 1771.5L212.0 1774.5L213.0 1777.6L214.0 1780.6L215.0 1783.7L216.0 1786.8L217.0 1789.8L218.0 1792.8L219.0 1795.7L220.0 1798.5L221.0 1801.3L222.0 1804.0L223.0 1806.7L224.0 1809.3L225.0 1812.0L226.0 1814.6L227.0 1817.1L228.0 1819.5L229.0 1821.9L230.0 1824.3L231.0 1826.7L232.0 1829.0L233.0 1831.2L234.0 1833.4L235.0 1835.4L236.0 1837.4L237.0 1839.4L238.0 1841.3L239.0 1843.2L240.0 1845.0L241.0 1846.7L242.0 1848.3L243.0 1849.8L244.0 1851.2L245.0 1852.5L246.0 1853.8L247.0 1854.9L248.0 1856.0L249.0 1857.0L250.0 1857.9L251.0 1858.8L252.0 1859.7L253.0 1860.5L254.0 1861.2L255.0 1862.0L256.0 1862.7L257.0 1863.4L258.0 1864.1L259.0 1864.8L260.0 1865.5L261.0 1866.2L262.0 1866.8L263.0 1867.5L264.0 1868.1L265.0 1868.7L266.0 1869.3L267.0 1869.9L268.0 1870.5L269.0 1871.1L270.0 1871.7L271.0 1872.2L272.0 1872.8L273.0 1873.3L274.0 1873.8L275.0 1874.4L276.0 1874.9L277.0 1875.4L278.0 1875.9L279.0 1876.5L280.0 1877.0L281.0 1877.5L282.0 1878.0L283.0 1878.6L284.0 1879.1L285.0 1879.7L286.0 1880.2L287.0 1880.8L288.0 1881.4L289.0 1881.9L290.0 1882.5L291.0 1883.0L292.0 1883.5L293.0 1884.0L294.0 1884.5L295.0 1885.0L296.0 1885.5L297.0 1885.9L298.0 1886.3L299.0 1886.6L300.0 1886.8L301.0 1887.0L302.0 1887.2L303.0 1887.3L304.0 1887.4L305.0 1887.5L306.0 1887.5L307.0 1887.6L308.0 1887.6L309.0 1887.7L310.0 1887.8L311.0 1887.9L312.0 1888.0L313.0 1888.1L314.0 1888.3L315.0 1888.4L316.0 1888.6L317.0 1888.8L318.0 1888.9L319.0 1889.1L320.0 1889.3L321.0 1889.4L322.0 1889.6L323.0 1889.8L324.0 1889.9L325.0 1890.1L326.0 1890.2L327.0 1890.4L328.0 1890.5L329.0 1890.6L330.0 1890.7L331.0 1890.8L332.0 1890.9L333.0 1891.0L334.0 1891.1L335.0 1891.2L336.0 1891.3L337.0 1891.4L338.0 1891.5L339.0 1891.6L340.0 1891.7L341.0 1891.8L342.0 1891.9L343.0 1891.9L344.0 1892.0L345.0 1892.1L346.0 1892.2L347.0 1892.3L348.0 1892.3L349.0 1892.4L350.0 1892.5L351.0 1892.6L352.0 1892.6L353.0 1892.7L354.0 1892.8L355.0 1892.9L356.0 1892.9L357.0 1893.0L358.0 1893.1L359.0 1893.2L360.0 1893.2L361.0 1893.3L362.0 1893.4L363.0 1893.5L364.0 1893.5L365.0 1893.6L366.0 1893.7L367.0 1893.7L368.0 1893.8L369.0 1893.9L370.0 1893.9L371.0 1894.0L372.0 1894.0L373.0 1894.1L374.0 1894.1L375.0 1894.2L376.0 1894.2L377.0 1894.2L378.0 1894.2L379.0 1894.2L380.0 1894.2L381.0 1894.2L382.0 1894.2L383.0 1894.2L384.0 1894.1L385.0 1894.1L386.0 1894.1L387.0 1894.0L388.0 1894.0L389.0 1894.0L390.0 1893.9L391.0 1893.9L392.0 1893.8L393.0 1893.7L394.0 1893.7L395.0 1893.6L396.0 1893.5L397.0 1893.4L398.0 1893.3L399.0 1893.2L400.0 1893.1L401.0 1893.1L402.0 1893.0L403.0 1892.9L404.0 1892.8L405.0 1892.7L406.0 1892.6L407.0 1892.5L408.0 1892.4L409.0 1892.3L410.0 1892.2L411.0 1892.1L412.0 1892.0L413.0 1891.9L414.0 1891.8L415.0 1891.8L416.0 1891.7L417.0 1891.6L418.0 1891.6L419.0 1891.5L420.0 1891.5L421.0 1891.4L422.0 1891.4L423.0 1891.4L424.0 1891.4L425.0 1891.4L426.0 1891.4L427.0 1891.4L428.0 1891.4L429.0 1891.5L430.0 1891.5L431.0 1891.6L432.0 1891.6L433.0 1891.7L434.0 1891.7L435.0 1891.8L436.0 1891.9L437.0 1891.9L438.0 1892.0L439.0 1892.0L440.0 1892.1L441.0 1892.2L442.0 1892.2L443.0 1892.3L444.0 1892.3L445.0 1892.4L446.0 1892.5L447.0 1892.5L448.0 1892.6L449.0 1892.6L450.0 1892.7L451.0 1892.8L452.0 1892.8L453.0 1892.9L454.0 1892.9L455.0 1893.0L456.0 1893.1L457.0 1893.1L458.0 1893.2L459.0 1893.2L460.0 1893.3L461.0 1893.4L462.0 1893.4L463.0 1893.5L464.0 1893.5L465.0 1893.6L466.0 1893.7L467.0 1893.7L468.0 1893.8L469.0 1893.8L470.0 1893.9L471.0 1894.0L472.0 1894.0L473.0 1894.1L474.0 1894.1L475.0 1894.2L476.0 1894.3L477.0 1894.3L478.0 1894.4L479.0 1894.4L480.0 1894.5L481.0 1894.6L482.0 1894.6L483.0 1894.7L484.0 1894.7L485.0 1894.8L486.0 1894.9L487.0 1894.9L488.0 1895.0L489.0 1895.0L490.0 1895.1L491.0 1895.2L492.0 1895.2L493.0 1895.3L494.0 1895.3L495.0 1895.4L496.0 1895.5L497.0 1895.5L498.0 1895.6L499.0 1895.6L500.0 1895.7L501.0 1895.8L502.0 1895.8L503.0 1895.9L504.0 1895.9L505.0 1896.0L506.0 1896.1L507.0 1896.1L508.0 1896.2L509.0 1896.2L510.0 1896.3L511.0 1896.4L512.0 1896.4L513.0 1896.5L514.0 1896.5L515.0 1896.6L516.0 1896.7L517.0 1896.7L518.0 1896.8L519.0 1896.8L520.0 1896.9L521.0 1897.0L522.0 1897.0L523.0 1897.1L524.0 1897.1L525.0 1897.2L526.0 1897.3L527.0 1897.3L528.0 1897.4L529.0 1897.4L530.0 1897.5L531.0 1897.6L532.0 1897.6L533.0 1897.7L534.0 1897.8L535.0 1897.8L536.0 1897.9L537.0 1898.0L538.0 1898.1L539.0 1898.1L540.0 1898.2L541.0 1898.3L542.0 1898.4L543.0 1898.5L544.0 1898.6L545.0 1898.6L546.0 1898.7L547.0 1898.8L548.0 1898.9L549.0 1899.0L550.0 1899.1L551.0 1899.2L552.0 1899.3L553.0 1899.4L554.0 1899.5L555.0 1899.6L556.0 1899.6L557.0 1899.7L558.0 1899.8L559.0 1899.9L560.0 1900.0L561.0 1900.1L562.0 1900.2L563.0 1900.3L564.0 1900.4L565.0 1900.5L566.0 1900.6L567.0 1900.7L568.0 1900.9L569.0 1901.0L570.0 1901.1L571.0 1901.2L572.0 1901.4L573.0 1901.5L574.0 1901.6L575.0 1901.7L576.0 1901.9L577.0 1902.0L578.0 1902.2L579.0 1902.3L580.0 1902.4L581.0 1902.6L582.0 1902.7L583.0 1902.8L584.0 1903.0L585.0 1903.1L586.0 1903.2L587.0 1903.4L588.0 1903.5L589.0 1903.6L590.0 1903.7L591.0 1903.8L592.0 1903.9L593.0 1904.1L594.0 1904.2L595.0 1904.3L596.0 1904.4L597.0 1904.4L598.0 1904.5L599.0 1904.6L600.0 1904.6L601.0 1904.7L602.0 1904.7L603.0 1904.8L604.0 1904.8L605.0 1904.8L606.0 1904.8L607.0 1904.7L608.0 1904.7L609.0 1904.7L610.0 1904.6L611.0 1904.5L612.0 1904.5L613.0 1904.4L614.0 1904.3L615.0 1904.2L616.0 1904.0L617.0 1903.9L618.0 1903.8L619.0 1903.6L620.0 1903.4L621.0 1903.3L622.0 1903.1L623.0 1902.9L624.0 1902.7L625.0 1902.5L626.0 1902.3L627.0 1902.1L628.0 1901.9L629.0 1901.7L630.0 1901.5L631.0 1901.2L632.0 1901.0L633.0 1900.8L634.0 1900.6L635.0 1900.4L636.0 1900.1L637.0 1899.9L638.0 1899.7L639.0 1899.5L640.0 1899.2L641.0 1899.0L642.0 1898.8L643.0 1898.5L644.0 1898.3L645.0 1898.1L646.0 1897.8L647.0 1897.6L648.0 1897.4L649.0 1897.1L650.0 1896.9L651.0 1896.7L652.0 1896.4L653.0 1896.2L654.0 1896.0L655.0 1895.7L656.0 1895.5L657.0 1895.2L658.0 1895.0L659.0 1894.8L660.0 1894.5L661.0 1894.3L662.0 1894.0L663.0 1893.8L664.0 1893.5L665.0 1893.2L666.0 1893.0L667.0 1892.7L668.0 1892.5L669.0 1892.2L670.0 1891.9L671.0 1891.6L672.0 1891.4L673.0 1891.1L674.0 1890.7L675.0 1890.4L676.0 1890.0L677.0 1889.6L678.0 1889.2L679.0 1888.7L680.0 1888.3L681.0 1887.7L682.0 1887.2L683.0 1886.7L684.0 1886.1L685.0 1885.5L686.0 1884.9L687.0 1884.3L688.0 1883.7L689.0 1883.1L690.0 1882.4L691.0 1881.8L692.0 1881.0L693.0 1880.3L694.0 1879.4L695.0 1878.6L696.0 1877.7L697.0 1876.7L698.0 1875.8L699.0 1874.9L700.0 1873.9L701.0 1873.1L702.0 1872.3L703.0 1871.5L704.0 1870.7L705.0 1870.1L706.0 1869.4L707.0 1868.8L708.0 1868.2L709.0 1867.6L710.0 1867.1L711.0 1866.6L712.0 1866.1L713.0 1865.7L714.0 1865.2L715.0 1864.9L716.0 1864.5L717.0 1864.2L718.0 1864.0L719.0 1863.7L720.0 1863.6L721.0 1863.5L722.0 1863.4L723.0 1863.4L724.0 1863.5L725.0 1863.7L726.0 1863.9L727.0 1864.2L728.0 1864.6L729.0 1865.0L730.0 1865.5L731.0 1866.0L732.0 1866.7L733.0 1867.3L734.0 1868.1L735.0 1868.8L736.0 1869.7L737.0 1870.5L738.0 1871.5L739.0 1872.5L740.0 1873.6L741.0 1874.7L742.0 1875.9L743.0 1877.1L744.0 1878.3L745.0 1879.5L746.0 1880.7L747.0 1881.9L748.0 1882.9L749.0 1884.0L750.0 1885.0L751.0 1885.9L752.0 1886.8L753.0 1887.7L754.0 1888.6L755.0 1889.5L756.0 1890.3L757.0 1891.2L758.0 1892.0L759.0 1892.9L760.0 1893.7L761.0 1894.5L762.0 1895.3L763.0 1896.0L764.0 1896.7L765.0 1897.5L766.0 1898.2L767.0 1898.8L768.0 1899.5L769.0 1900.1L770.0 1900.7L771.0 1901.2L772.0 1901.7L773.0 1902.2L774.0 1902.7L775.0 1903.2L776.0 1903.6L777.0 1904.0L778.0 1904.3L779.0 1904.6L780.0 1905.0L781.0 1905.2L782.0 1905.5L783.0 1905.8L784.0 1906.0L785.0 1906.2L786.0 1906.5L787.0 1906.7L788.0 1906.9L789.0 1907.0L790.0 1907.2L791.0 1907.3L792.0 1907.5L793.0 1907.6L794.0 1907.7L795.0 1907.8L796.0 1907.9L797.0 1908.0L798.0 1908.0L799.0 1908.1L800.0 1908.1L801.0 1908.2L802.0 1908.2L803.0 1908.3L804.0 1908.3L805.0 1908.4L806.0 1908.4L807.0 1908.5L808.0 1908.5L809.0 1908.6L810.0 1908.6L811.0 1908.7L812.0 1908.7L813.0 1908.7L814.0 1908.8L815.0 1908.8L816.0 1908.9L817.0 1908.9L818.0 1908.9L819.0 1909.0L820.0 1909.0L821.0 1909.0L822.0 1909.1L823.0 1909.1L824.0 1909.1L825.0 1909.1L826.0 1909.1L827.0 1909.2L828.0 1909.2L829.0 1909.2L830.0 1909.2L831.0 1909.2L832.0 1909.2L833.0 1909.2L834.0 1909.2L835.0 1909.2L836.0 1909.3L837.0 1909.3L838.0 1909.3L839.0 1909.3L840.0 1909.3L841.0 1909.3L842.0 1909.3L843.0 1909.3L844.0 1909.3L845.0 1909.3L846.0 1909.3L847.0 1909.3L848.0 1909.4L849.0 1909.4L850.0 1909.4L851.0 1909.4L852.0 1909.4L853.0 1909.4L854.0 1909.4L855.0 1909.4L856.0 1909.4L857.0 1909.4L858.0 1909.4L859.0 1909.4L860.0 1909.5L861.0 1909.5L862.0 1909.5L863.0 1909.5L864.0 1909.5L865.0 1909.5L866.0 1909.5L867.0 1909.5L868.0 1909.5L869.0 1909.5L870.0 1909.5L871.0 1909.5L872.0 1909.6L873.0 1909.6L874.0 1909.6L875.0 1909.6L876.0 1909.6L877.0 1909.6L878.0 1909.6L879.0 1909.6L880.0 1909.6L881.0 1909.6L882.0 1909.6L883.0 1909.6L884.0 1909.6L885.0 1909.6L886.0 1909.6L887.0 1909.7L888.0 1909.7L889.0 1909.7L890.0 1909.7L891.0 1909.7L892.0 1909.7L893.0 1909.7L894.0 1909.7L895.0 1909.7L896.0 1909.7L897.0 1909.7L898.0 1909.7L899.0 1909.7L900.0 1909.7L901.0 1909.7L902.0 1909.7L903.0 1909.7L904.0 1909.7L905.0 1909.7L906.0 1909.7L907.0 1909.7L908.0 1909.7L909.0 1909.7L910.0 1909.7L911.0 1909.7L912.0 1909.8L913.0 1909.8L914.0 1909.8L915.0 1909.8L916.0 1909.8L917.0 1909.8L918.0 1909.8L919.0 1909.8L920.0 1909.8L921.0 1909.8L922.0 1909.8L923.0 1909.8L924.0 1909.8L925.0 1909.8L926.0 1909.8L927.0 1909.8L928.0 1909.8L929.0 1909.8L930.0 1909.7L931.0 1909.7L932.0 1909.7L933.0 1909.7L934.0 1909.7L935.0 1909.7L936.0 1909.7L937.0 1909.7L938.0 1909.7L939.0 1909.7L940.0 1909.7L941.0 1909.7L942.0 1909.7L943.0 1909.7L944.0 1909.7L945.0 1909.7L946.0 1909.7L947.0 1909.7L948.0 1909.7L949.0 1909.7L950.0 1909.7L951.0 1909.6L952.0 1909.6L953.0 1909.6L954.0 1909.6L955.0 1909.6L956.0 1909.6L957.0 1909.6L958.0 1909.6L959.0 1909.6L960.0 1909.6L961.0 1909.5L962.0 1909.5L963.0 1909.5L964.0 1909.5L965.0 1909.5L966.0 1909.5L967.0 1909.5L968.0 1909.5L969.0 1909.4L970.0 1909.4L971.0 1909.4L972.0 1909.4L973.0 1909.4L974.0 1909.4L975.0 1909.4L976.0 1909.3L977.0 1909.3L978.0 1909.3L978.5 1909.3" stroke="#e80600" stroke-width="4.0"/>
<path d="M139.0 1718.2L140.0 1716.5L141.0 1714.5L142.0 1712.8L143.0 1711.4L144.0 1710.3L145.0 1709.6L146.0 1709.4L147.0 1709.8L148.0 1710.8L149.0 1712.3L150.0 1714.1L151.0 1716.0L152.0 1718.1L153.0 1720.3L154.0 1722.5L155.0 1724.8L156.0 1726.9L157.0 1729.0L158.0 1730.9L159.0 1732.6L160.0 1734.1L161.0 1735.3L162.0 1736.3L163.0 1737.2L164.0 1737.9L165.0 1738.4L166.0 1738.9L167.0 1739.1L168.0 1739.2L169.0 1739.2L170.0 1739.1L171.0 1738.9L172.0 1738.6L173.0 1738.2L174.0 1737.8L175.0 1737.4L176.0 1737.0L177.0 1736.5L178.0 1736.0L179.0 1735.5L180.0 1735.0L181.0 1734.5L182.0 1734.0L183.0 1733.5L184.0 1733.1L185.0 1732.6L186.0 1732.2L187.0 1731.9L188.0 1731.6L189.0 1731.4L190.0 1731.4L191.0 1731.6L192.0 1732.1L193.0 1732.8L194.0 1733.9L195.0 1735.4L196.0 1737.2L197.0 1739.3L198.0 1741.7L199.0 1744.4L200.0 1747.1L201.0 1749.9L202.0 1752.7L203.0 1755.5L204.0 1758.5L205.0 1761.5L206.0 1764.5L207.0 1767.5L208.0 1770.5L209.0 1773.5L210.0 1776.5L211.0 1779.5L212.0 1782.5L213.0 1785.5L214.0 1788.5L215.0 1791.5L216.0 1794.5L217.0 1797.4L218.0 1800.2L219.0 1803.0L220.0 1805.8L221.0 1808.5L222.0 1811.2L223.0 1813.8L224.0 1816.4L225.0 1818.8L226.0 1821.3L227.0 1823.6L228.0 1826.0L229.0 1828.3L230.0 1830.6L231.0 1832.8L232.0 1835.0L233.0 1837.0L234.0 1839.0L235.0 1841.0L236.0 1843.0L237.0 1844.9L238.0 1846.6L239.0 1848.3L240.0 1849.9L241.0 1851.4L242.0 1852.8L243.0 1854.1L244.0 1855.3L245.0 1856.4L246.0 1857.4L247.0 1858.4L248.0 1859.3L249.0 1860.1L250.0 1860.9L251.0 1861.6L252.0 1862.3L253.0 1863.0L254.0 1863.6L255.0 1864.3L256.0 1864.9L257.0 1865.5L258.0 1866.2L259.0 1866.8L260.0 1867.3L261.0 1867.9L262.0 1868.5L263.0 1869.0L264.0 1869.6L265.0 1870.1L266.0 1870.6L267.0 1871.1L268.0 1871.6L269.0 1872.0L270.0 1872.5L271.0 1872.9L272.0 1873.2L273.0 1873.6L274.0 1874.0L275.0 1874.4L276.0 1874.7L277.0 1875.1L278.0 1875.4L279.0 1875.8L280.0 1876.1L281.0 1876.5L282.0 1876.9L283.0 1877.2L284.0 1877.6L285.0 1877.9L286.0 1878.3L287.0 1878.6L288.0 1879.0L289.0 1879.4L290.0 1879.7L291.0 1880.0L292.0 1880.4L293.0 1880.7L294.0 1881.0L295.0 1881.4L296.0 1881.7L297.0 1881.9L298.0 1882.2L299.0 1882.4L300.0 1882.6L301.0 1882.7L302.0 1882.8L303.0 1882.9L304.0 1883.0L305.0 1883.1L306.0 1883.1L307.0 1883.2L308.0 1883.3L309.0 1883.3L310.0 1883.4L311.0 1883.6L312.0 1883.7L313.0 1883.9L314.0 1884.1L315.0 1884.3L316.0 1884.5L317.0 1884.7L318.0 1884.9L319.0 1885.1L320.0 1885.3L321.0 1885.5L322.0 1885.7L323.0 1885.9L324.0 1886.1L325.0 1886.3L326.0 1886.5L327.0 1886.7L328.0 1886.9L329.0 1887.1L330.0 1887.3L331.0 1887.5L332.0 1887.7L333.0 1887.9L334.0 1888.1L335.0 1888.3L336.0 1888.5L337.0 1888.7L338.0 1888.9L339.0 1889.1L340.0 1889.3L341.0 1889.5L342.0 1889.7L343.0 1889.9L344.0 1890.0L345.0 1890.2L346.0 1890.4L347.0 1890.6L348.0 1890.8L349.0 1891.0L350.0 1891.1L351.0 1891.3L352.0 1891.5L353.0 1891.6L354.0 1891.8L355.0 1891.9L356.0 1892.0L357.0 1892.2L358.0 1892.3L359.0 1892.4L360.0 1892.6L361.0 1892.7L362.0 1892.8L363.0 1892.9L364.0 1893.0L365.0 1893.1L366.0 1893.2L367.0 1893.3L368.0 1893.4L369.0 1893.5L370.0 1893.6L371.0 1893.6L372.0 1893.7L373.0 1893.8L374.0 1893.9L375.0 1894.0L376.0 1894.1L377.0 1894.2L378.0 1894.3L379.0 1894.3L380.0 1894.4L381.0 1894.5L382.0 1894.6L383.0 1894.7L384.0 1894.7L385.0 1894.8L386.0 1894.9L387.0 1894.9L388.0 1895.0L389.0 1895.0L390.0 1895.1L391.0 1895.1L392.0 1895.1L393.0 1895.1L394.0 1895.1L395.0 1895.1L396.0 1895.1L397.0 1895.1L398.0 1895.0L399.0 1895.0L400.0 1894.9L401.0 1894.9L402.0 1894.8L403.0 1894.8L404.0 1894.7L405.0 1894.6L406.0 1894.5L407.0 1894.5L408.0 1894.4L409.0 1894.3L410.0 1894.2L411.0 1894.2L412.0 1894.1L413.0 1894.0L414.0 1893.9L415.0 1893.9L416.0 1893.8L417.0 1893.7L418.0 1893.7L419.0 1893.6L420.0 1893.6L421.0 1893.5L422.0 1893.5L423.0 1893.5L424.0 1893.5L425.0 1893.4L426.0 1893.4L427.0 1893.4L428.0 1893.5L429.0 1893.5L430.0 1893.5L431.0 1893.5L432.0 1893.6L433.0 1893.6L434.0 1893.7L435.0 1893.7L436.0 1893.8L437.0 1893.8L438.0 1893.9L439.0 1893.9L440.0 1893.9L441.0 1894.0L442.0 1894.0L443.0 1894.1L444.0 1894.1L445.0 1894.2L446.0 1894.2L447.0 1894.3L448.0 1894.3L449.0 1894.4L450.0 1894.4L451.0 1894.5L452.0 1894.5L453.0 1894.6L454.0 1894.6L455.0 1894.7L456.0 1894.7L457.0 1894.8L458.0 1894.8L459.0 1894.9L460.0 1894.9L461.0 1895.0L462.0 1895.0L463.0 1895.1L464.0 1895.1L465.0 1895.2L466.0 1895.2L467.0 1895.3L468.0 1895.3L469.0 1895.4L470.0 1895.4L471.0 1895.5L472.0 1895.5L473.0 1895.6L474.0 1895.7L475.0 1895.7L476.0 1895.8L477.0 1895.8L478.0 1895.9L479.0 1895.9L480.0 1896.0L481.0 1896.1L482.0 1896.1L483.0 1896.2L484.0 1896.2L485.0 1896.3L486.0 1896.4L487.0 1896.4L488.0 1896.5L489.0 1896.5L490.0 1896.6L491.0 1896.6L492.0 1896.7L493.0 1896.8L494.0 1896.8L495.0 1896.9L496.0 1896.9L497.0 1897.0L498.0 1897.1L499.0 1897.1L500.0 1897.2L501.0 1897.2L502.0 1897.3L503.0 1897.3L504.0 1897.4L505.0 1897.5L506.0 1897.5L507.0 1897.6L508.0 1897.6L509.0 1897.7L510.0 1897.8L511.0 1897.8L512.0 1897.9L513.0 1897.9L514.0 1898.0L515.0 1898.1L516.0 1898.1L517.0 1898.2L518.0 1898.2L519.0 1898.3L520.0 1898.4L521.0 1898.4L522.0 1898.5L523.0 1898.6L524.0 1898.6L525.0 1898.7L526.0 1898.7L527.0 1898.8L528.0 1898.9L529.0 1898.9L530.0 1899.0L531.0 1899.1L532.0 1899.1L533.0 1899.2L534.0 1899.3L535.0 1899.3L536.0 1899.4L537.0 1899.5L538.0 1899.6L539.0 1899.6L540.0 1899.7L541.0 1899.8L542.0 1899.8L543.0 1899.9L544.0 1900.0L545.0 1900.1L546.0 1900.2L547.0 1900.2L548.0 1900.3L549.0 1900.4L550.0 1900.5L551.0 1900.5L552.0 1900.6L553.0 1900.7L554.0 1900.8L555.0 1900.9L556.0 1900.9L557.0 1901.0L558.0 1901.1L559.0 1901.2L560.0 1901.3L561.0 1901.3L562.0 1901.4L563.0 1901.5L564.0 1901.6L565.0 1901.7L566.0 1901.8L567.0 1901.9L568.0 1902.0L569.0 1902.0L570.0 1902.1L571.0 1902.2L572.0 1902.3L573.0 1902.4L574.0 1902.6L575.0 1902.7L576.0 1902.8L577.0 1902.9L578.0 1903.0L579.0 1903.1L580.0 1903.2L581.0 1903.3L582.0 1903.4L583.0 1903.5L584.0 1903.6L585.0 1903.7L586.0 1903.8L587.0 1904.0L588.0 1904.1L589.0 1904.2L590.0 1904.3L591.0 1904.4L592.0 1904.5L593.0 1904.6L594.0 1904.7L595.0 1904.8L596.0 1904.9L597.0 1905.0L598.0 1905.1L599.0 1905.2L600.0 1905.3L601.0 1905.4L602.0 1905.5L603.0 1905.6L604.0 1905.7L605.0 1905.8L606.0 1905.9L607.0 1906.0L608.0 1906.1L609.0 1906.2L610.0 1906.2L611.0 1906.3L612.0 1906.4L613.0 1906.5L614.0 1906.5L615.0 1906.6L616.0 1906.7L617.0 1906.7L618.0 1906.8L619.0 1906.8L620.0 1906.9L621.0 1906.9L622.0 1907.0L623.0 1907.0L624.0 1907.1L625.0 1907.1L626.0 1907.1L627.0 1907.1L628.0 1907.2L629.0 1907.2L630.0 1907.2L631.0 1907.2L632.0 1907.2L633.0 1907.3L634.0 1907.3L635.0 1907.3L636.0 1907.3L637.0 1907.3L638.0 1907.2L639.0 1907.2L640.0 1907.2L641.0 1907.2L642.0 1907.2L643.0 1907.2L644.0 1907.1L645.0 1907.1L646.0 1907.1L647.0 1907.0L648.0 1907.0L649.0 1906.9L650.0 1906.9L651.0 1906.9L652.0 1906.8L653.0 1906.7L654.0 1906.7L655.0 1906.6L656.0 1906.5L657.0 1906.5L658.0 1906.4L659.0 1906.3L660.0 1906.2L661.0 1906.2L662.0 1906.1L663.0 1906.0L664.0 1905.9L665.0 1905.8L666.0 1905.7L667.0 1905.6L668.0 1905.5L669.0 1905.4L670.0 1905.3L671.0 1905.2L672.0 1905.1L673.0 1905.0L674.0 1904.9L675.0 1904.8L676.0 1904.7L677.0 1904.6L678.0 1904.5L679.0 1904.4L680.0 1904.3L681.0 1904.2L682.0 1904.1L683.0 1904.0L684.0 1903.9L685.0 1903.8L686.0 1903.7L687.0 1903.6L688.0 1903.4L689.0 1903.3L690.0 1903.2L691.0 1903.1L692.0 1903.0L693.0 1902.9L694.0 1902.8L695.0 1902.7L696.0 1902.6L697.0 1902.5L698.0 1902.4L699.0 1902.3L700.0 1902.2L701.0 1902.1L702.0 1902.0L703.0 1901.9L704.0 1901.8L705.0 1901.7L706.0 1901.6L707.0 1901.5L708.0 1901.4L709.0 1901.3L710.0 1901.2L711.0 1901.1L712.0 1901.0L713.0 1900.9L714.0 1900.9L715.0 1900.8L716.0 1900.7L717.0 1900.7L718.0 1900.6L719.0 1900.6L720.0 1900.6L721.0 1900.5L722.0 1900.5L723.0 1900.5L724.0 1900.6L725.0 1900.6L726.0 1900.7L727.0 1900.7L728.0 1900.8L729.0 1900.9L730.0 1901.0L731.0 1901.1L732.0 1901.2L733.0 1901.4L734.0 1901.5L735.0 1901.7L736.0 1901.8L737.0 1902.0L738.0 1902.2L739.0 1902.3L740.0 1902.5L741.0 1902.7L742.0 1902.8L743.0 1903.0L744.0 1903.2L745.0 1903.3L746.0 1903.5L747.0 1903.7L748.0 1903.8L749.0 1904.0L750.0 1904.2L751.0 1904.3L752.0 1904.5L753.0 1904.7L754.0 1904.9L755.0 1905.0L756.0 1905.2L757.0 1905.4L758.0 1905.6L759.0 1905.8L760.0 1906.0L761.0 1906.1L762.0 1906.3L763.0 1906.5L764.0 1906.7L765.0 1906.8L766.0 1907.0L767.0 1907.1L768.0 1907.3L769.0 1907.4L770.0 1907.5L771.0 1907.6L772.0 1907.7L773.0 1907.8L774.0 1907.9L775.0 1908.0L776.0 1908.1L777.0 1908.1L778.0 1908.2L779.0 1908.3L780.0 1908.3L781.0 1908.4L782.0 1908.4L783.0 1908.5L784.0 1908.5L785.0 1908.6L786.0 1908.6L787.0 1908.6L788.0 1908.7L789.0 1908.7L790.0 1908.7L791.0 1908.8L792.0 1908.8L793.0 1908.8L794.0 1908.8L795.0 1908.9L796.0 1908.9L797.0 1908.9L798.0 1908.9L799.0 1908.9L800.0 1908.9L801.0 1908.9L802.0 1908.9L803.0 1908.9L804.0 1908.9L805.0 1909.0L806.0 1909.0L807.0 1909.0L808.0 1909.0L809.0 1909.0L810.0 1909.0L811.0 1909.0L812.0 1909.0L813.0 1909.0L814.0 1909.0L815.0 1909.0L816.0 1909.0L817.0 1909.0L818.0 1909.0L819.0 1909.0L820.0 1909.0L821.0 1909.0L822.0 1909.0L823.0 1909.0L824.0 1909.0L825.0 1909.1L826.0 1909.1L827.0 1909.1L828.0 1909.1L829.0 1909.1L830.0 1909.1L831.0 1909.1L832.0 1909.1L833.0 1909.1L834.0 1909.1L835.0 1909.1L836.0 1909.1L837.0 1909.1L838.0 1909.1L839.0 1909.1L840.0 1909.2L841.0 1909.2L842.0 1909.2L843.0 1909.2L844.0 1909.2L845.0 1909.2L846.0 1909.2L847.0 1909.2L848.0 1909.2L849.0 1909.2L850.0 1909.2L851.0 1909.2L852.0 1909.2L853.0 1909.2L854.0 1909.3L855.0 1909.3L856.0 1909.3L857.0 1909.3L858.0 1909.3L859.0 1909.3L860.0 1909.3L861.0 1909.3L862.0 1909.3L863.0 1909.3L864.0 1909.3L865.0 1909.3L866.0 1909.3L867.0 1909.3L868.0 1909.3L869.0 1909.3L870.0 1909.4L871.0 1909.4L872.0 1909.4L873.0 1909.4L874.0 1909.4L875.0 1909.4L876.0 1909.4L877.0 1909.4L878.0 1909.4L879.0 1909.4L880.0 1909.4L881.0 1909.4L882.0 1909.4L883.0 1909.4L884.0 1909.4L885.0 1909.4L886.0 1909.4L887.0 1909.4L888.0 1909.5L889.0 1909.5L890.0 1909.5L891.0 1909.5L892.0 1909.5L893.0 1909.5L894.0 1909.5L895.0 1909.5L896.0 1909.5L897.0 1909.5L898.0 1909.5L899.0 1909.5L900.0 1909.5L901.0 1909.5L902.0 1909.5L903.0 1909.5L904.0 1909.5L905.0 1909.5L906.0 1909.5L907.0 1909.5L908.0 1909.5L909.0 1909.5L910.0 1909.5L911.0 1909.5L912.0 1909.5L913.0 1909.5L914.0 1909.5L915.0 1909.5L916.0 1909.6L917.0 1909.6L918.0 1909.6L919.0 1909.6L920.0 1909.6L921.0 1909.6L922.0 1909.6L923.0 1909.6L924.0 1909.6L925.0 1909.6L926.0 1909.6L927.0 1909.6L928.0 1909.6L929.0 1909.6L930.0 1909.6L931.0 1909.6L932.0 1909.6L933.0 1909.6L934.0 1909.6L935.0 1909.6L936.0 1909.6L937.0 1909.6L938.0 1909.6L939.0 1909.5L940.0 1909.5L941.0 1909.5L942.0 1909.5L943.0 1909.5L944.0 1909.5L945.0 1909.5L946.0 1909.5L947.0 1909.5L948.0 1909.5L949.0 1909.5L950.0 1909.5L951.0 1909.5L952.0 1909.5L953.0 1909.5L954.0 1909.5L955.0 1909.5L956.0 1909.5L957.0 1909.5L958.0 1909.5L959.0 1909.5L960.0 1909.5L961.0 1909.5L962.0 1909.4L963.0 1909.4L964.0 1909.4L965.0 1909.4L966.0 1909.4L967.0 1909.4L968.0 1909.4L969.0 1909.4L970.0 1909.4L971.0 1909.4L972.0 1909.4L973.0 1909.4L974.0 1909.3L975.0 1909.3L976.0 1909.3L977.0 1909.3L978.0 1909.3L978.5 1909.3" stroke="#da000c" stroke-width="3.5"/>
</g>
<line x1="797.4" y1="1592.6" x2="797.4" y2="1717.1" stroke="#000" stroke-width="3.0"/><path d="M797.4 1749.8L786.9 1709.7Q792.7 1713.8 797.4 1715.1Q802.1 1713.8 807.9 1709.7Z" fill="#000"/>
<g>
<text x="24.8" y="33" font-size="32" text-anchor="middle">(a)</text>
<text x="111.3" y="571.0" font-size="25" text-anchor="end">0</text>
<text x="111.3" y="393.2" font-size="25" text-anchor="end">0.5</text>
<text x="111.3" y="215.5" font-size="25" text-anchor="end">1</text>
<text x="111.3" y="37.8" font-size="25" text-anchor="end">1.5</text>
<text x="238.8" y="600.3" font-size="25" text-anchor="middle">300</text>
<text x="390.5" y="600.3" font-size="25" text-anchor="middle">400</text>
<text x="542.3" y="600.3" font-size="25" text-anchor="middle">500</text>
<text x="694.0" y="600.3" font-size="25" text-anchor="middle">600</text>
<text x="845.7" y="600.3" font-size="25" text-anchor="middle">700</text>
<text x="997.5" y="600.3" font-size="25" text-anchor="middle">800</text>
<text x="35.6" y="294.8" font-size="27" text-anchor="start">Abs.</text>
<text x="603" y="642.5" font-size="28.2" text-anchor="middle">wavelength / nm</text>
<text x="36.4" y="706" font-size="32" text-anchor="middle">(b)</text>
<text x="120.2" y="1235.5" font-size="25" text-anchor="end">0</text>
<text x="120.2" y="1060.9" font-size="25" text-anchor="end">0.2</text>
<text x="120.2" y="886.4" font-size="25" text-anchor="end">0.4</text>
<text x="120.2" y="711.8" font-size="25" text-anchor="end">0.6</text>
<text x="242.5" y="1265.3" font-size="25" text-anchor="middle">300</text>
<text x="389.9" y="1265.3" font-size="25" text-anchor="middle">400</text>
<text x="537.2" y="1265.3" font-size="25" text-anchor="middle">500</text>
<text x="684.5" y="1265.3" font-size="25" text-anchor="middle">600</text>
<text x="831.9" y="1265.3" font-size="25" text-anchor="middle">700</text>
<text x="979.2" y="1265.3" font-size="25" text-anchor="middle">800</text>
<text x="48.4" y="965.5" font-size="27" text-anchor="start">Abs.</text>
<text x="599.4" y="1306.4" font-size="27.4" text-anchor="middle">wavelength / nm</text>
<text x="32.8" y="1392" font-size="32" text-anchor="middle">(c)</text>
<text x="118.6" y="1917.7" font-size="25" text-anchor="end">0</text>
<text x="118.6" y="1743.9" font-size="25" text-anchor="end">0.2</text>
<text x="118.6" y="1570.0" font-size="25" text-anchor="end">0.4</text>
<text x="118.6" y="1396.2" font-size="25" text-anchor="end">0.6</text>
<text x="241.5" y="1948.3" font-size="25" text-anchor="middle">300</text>
<text x="388.9" y="1948.3" font-size="25" text-anchor="middle">400</text>
<text x="536.3" y="1948.3" font-size="25" text-anchor="middle">500</text>
<text x="683.7" y="1948.3" font-size="25" text-anchor="middle">600</text>
<text x="831.1" y="1948.3" font-size="25" text-anchor="middle">700</text>
<text x="978.5" y="1948.3" font-size="25" text-anchor="middle">800</text>
<text x="42" y="1648.8" font-size="27" text-anchor="start">Abs.</text>
<text x="593.5" y="1988.2" font-size="27.4" text-anchor="middle">wavelength / nm</text>
</g>
</g>
</svg>
</body>
</html>
